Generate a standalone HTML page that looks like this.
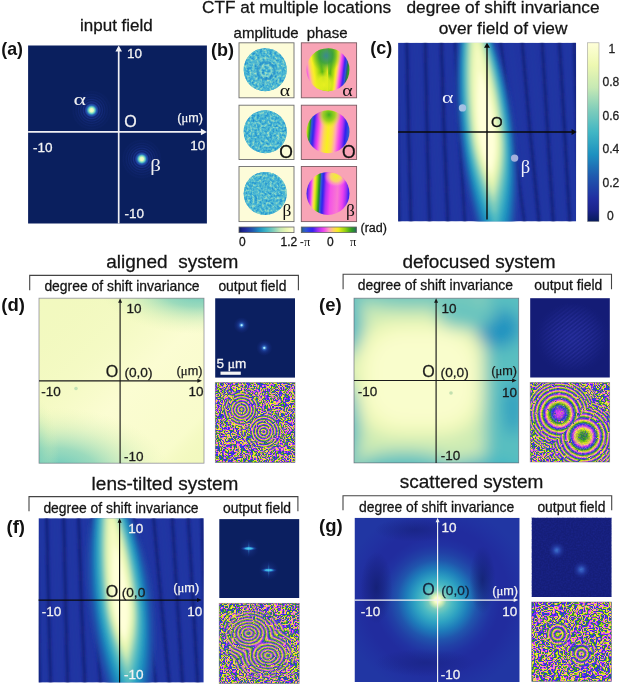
<!DOCTYPE html>
<html lang="en"><head><meta charset="utf-8"><title>Shift invariance figure</title>
<style>html,body{margin:0;padding:0;background:#fff}svg{display:block}</style></head>
<body>
<svg width="620" height="685" viewBox="0 0 620 685" font-family="'Liberation Sans', sans-serif">
<defs>
<radialGradient id="spotA"><stop offset="0" stop-color="#f8ffd0"/><stop offset="0.09" stop-color="#e2fbbc"/><stop offset="0.17" stop-color="#62ccc4"/><stop offset="0.24" stop-color="#2668b8" stop-opacity="0.95"/><stop offset="0.31" stop-color="#2244aa" stop-opacity="0.8"/><stop offset="0.36" stop-color="#1a3090" stop-opacity="0.35"/><stop offset="0.42" stop-color="#213aa2" stop-opacity="0.6"/><stop offset="0.48" stop-color="#1a3090" stop-opacity="0.12"/><stop offset="0.54" stop-color="#1f389c" stop-opacity="0.45"/><stop offset="0.6" stop-color="#1a3090" stop-opacity="0.08"/><stop offset="0.66" stop-color="#1e3698" stop-opacity="0.32"/><stop offset="0.72" stop-color="#1a3090" stop-opacity="0.05"/><stop offset="0.78" stop-color="#1d3494" stop-opacity="0.22"/><stop offset="0.85" stop-color="#1a3090" stop-opacity="0.03"/><stop offset="0.92" stop-color="#1c3290" stop-opacity="0.12"/><stop offset="1" stop-color="#1a3090" stop-opacity="0"/></radialGradient>
<filter id="ampN" x="0" y="0" width="1" height="1" color-interpolation-filters="sRGB"><feTurbulence type="fractalNoise" baseFrequency="0.4" numOctaves="2" seed="3"/><feColorMatrix type="matrix" values="1 0 0 0 0  1 0 0 0 0  1 0 0 0 0  0 0 0 0 1"/><feComponentTransfer><feFuncR type="table" tableValues="0.1 0.12 0.16 0.25 0.36 0.56 0.72 0.8"/><feFuncG type="table" tableValues="0.42 0.5 0.6 0.69 0.76 0.85 0.91 0.95"/><feFuncB type="table" tableValues="0.78 0.8 0.82 0.83 0.82 0.78 0.75 0.72"/></feComponentTransfer></filter>
<clipPath id="ca0"><circle cx="265.2" cy="69.7" r="21.5"/></clipPath>
<clipPath id="cp0"><circle cx="328" cy="69.7" r="21.5"/></clipPath>
<clipPath id="ca1"><circle cx="265.2" cy="131.75" r="21.5"/></clipPath>
<clipPath id="cp1"><circle cx="328" cy="131.75" r="21.5"/></clipPath>
<clipPath id="ca2"><circle cx="265.2" cy="193.45000000000002" r="21.5"/></clipPath>
<clipPath id="cp2"><circle cx="328" cy="193.45000000000002" r="21.5"/></clipPath>
<linearGradient id="pA" gradientUnits="userSpaceOnUse" x1="306.5" y1="0" x2="349.5" y2="0" gradientTransform="rotate(-9 328 99.7)"><stop offset="0.000" stop-color="#3020f0"/><stop offset="0.025" stop-color="#6828f0"/><stop offset="0.050" stop-color="#a030f0"/><stop offset="0.075" stop-color="#c838f0"/><stop offset="0.100" stop-color="#f040f0"/><stop offset="0.125" stop-color="#f668db"/><stop offset="0.150" stop-color="#fc90c6"/><stop offset="0.175" stop-color="#ffafa2"/><stop offset="0.200" stop-color="#ffc873"/><stop offset="0.225" stop-color="#fdda4f"/><stop offset="0.250" stop-color="#fbe43a"/><stop offset="0.275" stop-color="#f8ee24"/><stop offset="0.300" stop-color="#e9eb1e"/><stop offset="0.325" stop-color="#d7e61b"/><stop offset="0.350" stop-color="#c4e018"/><stop offset="0.375" stop-color="#b0da15"/><stop offset="0.400" stop-color="#9cd412"/><stop offset="0.425" stop-color="#86cb12"/><stop offset="0.450" stop-color="#6bbe16"/><stop offset="0.475" stop-color="#5db619"/><stop offset="0.500" stop-color="#7dc613"/><stop offset="0.525" stop-color="#9ad312"/><stop offset="0.550" stop-color="#b3db15"/><stop offset="0.575" stop-color="#d7e61b"/><stop offset="0.600" stop-color="#f9ea2e"/><stop offset="0.625" stop-color="#ffd261"/><stop offset="0.650" stop-color="#ffaea3"/><stop offset="0.675" stop-color="#fa83cd"/><stop offset="0.700" stop-color="#f353e6"/><stop offset="0.725" stop-color="#d13af0"/><stop offset="0.750" stop-color="#9c2ff0"/><stop offset="0.775" stop-color="#4c24f0"/><stop offset="0.800" stop-color="#3037e5"/><stop offset="0.825" stop-color="#3058d4"/><stop offset="0.850" stop-color="#295b7b"/><stop offset="0.875" stop-color="#2c8838"/><stop offset="0.900" stop-color="#30a020"/><stop offset="0.925" stop-color="#50b01b"/><stop offset="0.950" stop-color="#65bb17"/><stop offset="0.975" stop-color="#7bc514"/><stop offset="1.000" stop-color="#90d010"/></linearGradient>
<linearGradient id="pA2" gradientUnits="userSpaceOnUse" x1="306.5" y1="0" x2="349.5" y2="0" gradientTransform="rotate(7 328 99.7)"><stop offset="0.000" stop-color="#3020f0"/><stop offset="0.025" stop-color="#6828f0"/><stop offset="0.050" stop-color="#a030f0"/><stop offset="0.075" stop-color="#c838f0"/><stop offset="0.100" stop-color="#f040f0"/><stop offset="0.125" stop-color="#f668db"/><stop offset="0.150" stop-color="#fc90c6"/><stop offset="0.175" stop-color="#ffafa2"/><stop offset="0.200" stop-color="#ffc873"/><stop offset="0.225" stop-color="#fdda4f"/><stop offset="0.250" stop-color="#fbe43a"/><stop offset="0.275" stop-color="#f8ee24"/><stop offset="0.300" stop-color="#e9eb1e"/><stop offset="0.325" stop-color="#d7e61b"/><stop offset="0.350" stop-color="#c4e018"/><stop offset="0.375" stop-color="#b0da15"/><stop offset="0.400" stop-color="#9cd412"/><stop offset="0.425" stop-color="#86cb12"/><stop offset="0.450" stop-color="#6bbe16"/><stop offset="0.475" stop-color="#5db619"/><stop offset="0.500" stop-color="#7dc613"/><stop offset="0.525" stop-color="#9ad312"/><stop offset="0.550" stop-color="#b3db15"/><stop offset="0.575" stop-color="#d7e61b"/><stop offset="0.600" stop-color="#f9ea2e"/><stop offset="0.625" stop-color="#ffd261"/><stop offset="0.650" stop-color="#ffaea3"/><stop offset="0.675" stop-color="#fa83cd"/><stop offset="0.700" stop-color="#f353e6"/><stop offset="0.725" stop-color="#d13af0"/><stop offset="0.750" stop-color="#9c2ff0"/><stop offset="0.775" stop-color="#4c24f0"/><stop offset="0.800" stop-color="#3037e5"/><stop offset="0.825" stop-color="#3058d4"/><stop offset="0.850" stop-color="#295b7b"/><stop offset="0.875" stop-color="#2c8838"/><stop offset="0.900" stop-color="#30a020"/><stop offset="0.925" stop-color="#50b01b"/><stop offset="0.950" stop-color="#65bb17"/><stop offset="0.975" stop-color="#7bc514"/><stop offset="1.000" stop-color="#90d010"/></linearGradient>
<radialGradient id="pAt"><stop offset="0" stop-color="#3a8a90"/><stop offset="0.45" stop-color="#38a040" stop-opacity="0.9"/><stop offset="1" stop-color="#70c020" stop-opacity="0"/></radialGradient>
<radialGradient id="pAb"><stop offset="0" stop-color="#e8f020"/><stop offset="0.6" stop-color="#e8f020" stop-opacity="0.8"/><stop offset="1" stop-color="#e8f020" stop-opacity="0"/></radialGradient>
<linearGradient id="pO" gradientUnits="userSpaceOnUse" x1="306.5" y1="0" x2="349.5" y2="0" gradientTransform="rotate(5 328 131.75)"><stop offset="0.000" stop-color="#dae71b"/><stop offset="0.025" stop-color="#a3d613"/><stop offset="0.050" stop-color="#60b818"/><stop offset="0.075" stop-color="#2c8838"/><stop offset="0.100" stop-color="#2f5fc0"/><stop offset="0.125" stop-color="#3048dc"/><stop offset="0.150" stop-color="#302bea"/><stop offset="0.175" stop-color="#5225f0"/><stop offset="0.200" stop-color="#8a2df0"/><stop offset="0.225" stop-color="#b735f0"/><stop offset="0.250" stop-color="#d83bf0"/><stop offset="0.275" stop-color="#f24bea"/><stop offset="0.300" stop-color="#f76dd9"/><stop offset="0.325" stop-color="#fc8dc8"/><stop offset="0.350" stop-color="#ffa7b0"/><stop offset="0.375" stop-color="#ffba8d"/><stop offset="0.400" stop-color="#ffcd6a"/><stop offset="0.425" stop-color="#fdda50"/><stop offset="0.450" stop-color="#fbe140"/><stop offset="0.475" stop-color="#fae830"/><stop offset="0.500" stop-color="#f8f020"/><stop offset="0.525" stop-color="#f9ea2d"/><stop offset="0.550" stop-color="#fbe43a"/><stop offset="0.575" stop-color="#fcde46"/><stop offset="0.600" stop-color="#fdd853"/><stop offset="0.625" stop-color="#ffc971"/><stop offset="0.650" stop-color="#ffb794"/><stop offset="0.675" stop-color="#ffa4b7"/><stop offset="0.700" stop-color="#fc8ac9"/><stop offset="0.725" stop-color="#f76fd8"/><stop offset="0.750" stop-color="#f353e6"/><stop offset="0.775" stop-color="#e63ef0"/><stop offset="0.800" stop-color="#cd39f0"/><stop offset="0.825" stop-color="#b234f0"/><stop offset="0.850" stop-color="#8b2df0"/><stop offset="0.875" stop-color="#5e27f0"/><stop offset="0.900" stop-color="#3020f0"/><stop offset="0.925" stop-color="#3033e6"/><stop offset="0.950" stop-color="#3046dd"/><stop offset="0.975" stop-color="#3056d5"/><stop offset="1.000" stop-color="#2f5fc0"/></linearGradient>
<radialGradient id="pOt"><stop offset="0" stop-color="#40b020"/><stop offset="0.5" stop-color="#90d018" stop-opacity="0.85"/><stop offset="1" stop-color="#e8f020" stop-opacity="0"/></radialGradient>
<linearGradient id="pB" gradientUnits="userSpaceOnUse" x1="306.5" y1="0" x2="349.5" y2="0" gradientTransform="rotate(3 328 193.45000000000002)"><stop offset="0.000" stop-color="#3020f0"/><stop offset="0.025" stop-color="#6027f0"/><stop offset="0.050" stop-color="#902ef0"/><stop offset="0.075" stop-color="#ba35f0"/><stop offset="0.100" stop-color="#ee40f0"/><stop offset="0.125" stop-color="#fa7ed0"/><stop offset="0.150" stop-color="#ffb891"/><stop offset="0.175" stop-color="#fcde46"/><stop offset="0.200" stop-color="#e2e91d"/><stop offset="0.225" stop-color="#abd814"/><stop offset="0.250" stop-color="#75c314"/><stop offset="0.275" stop-color="#33a120"/><stop offset="0.300" stop-color="#297947"/><stop offset="0.325" stop-color="#305fd1"/><stop offset="0.350" stop-color="#3042df"/><stop offset="0.375" stop-color="#3026ed"/><stop offset="0.400" stop-color="#5625f0"/><stop offset="0.425" stop-color="#862cf0"/><stop offset="0.450" stop-color="#b033f0"/><stop offset="0.475" stop-color="#c437f0"/><stop offset="0.500" stop-color="#d83bf0"/><stop offset="0.525" stop-color="#ec3ff0"/><stop offset="0.550" stop-color="#f353e6"/><stop offset="0.575" stop-color="#f459e3"/><stop offset="0.600" stop-color="#f55ee0"/><stop offset="0.625" stop-color="#f664dd"/><stop offset="0.650" stop-color="#f76ada"/><stop offset="0.675" stop-color="#f76fd7"/><stop offset="0.700" stop-color="#f875d4"/><stop offset="0.725" stop-color="#f977d3"/><stop offset="0.750" stop-color="#f76bda"/><stop offset="0.775" stop-color="#f55fe0"/><stop offset="0.800" stop-color="#f353e6"/><stop offset="0.825" stop-color="#f147ec"/><stop offset="0.850" stop-color="#e63ef0"/><stop offset="0.875" stop-color="#cd39f0"/><stop offset="0.900" stop-color="#b434f0"/><stop offset="0.925" stop-color="#982ff0"/><stop offset="0.950" stop-color="#6e29f0"/><stop offset="0.975" stop-color="#4423f0"/><stop offset="1.000" stop-color="#3029eb"/></linearGradient>
<radialGradient id="pBt"><stop offset="0" stop-color="#f0f030"/><stop offset="0.45" stop-color="#f8e060" stop-opacity="0.9"/><stop offset="0.75" stop-color="#ffa0c0" stop-opacity="0.6"/><stop offset="1" stop-color="#f060f0" stop-opacity="0"/></radialGradient>
<linearGradient id="cbA" x1="0" x2="1" y1="0" y2="0"><stop offset="0.0000" stop-color="#081b5a"/><stop offset="0.0312" stop-color="#121f73"/><stop offset="0.0625" stop-color="#1b238b"/><stop offset="0.0938" stop-color="#1e2895"/><stop offset="0.1250" stop-color="#212da0"/><stop offset="0.1562" stop-color="#2138a4"/><stop offset="0.1875" stop-color="#2042a7"/><stop offset="0.2188" stop-color="#204daa"/><stop offset="0.2500" stop-color="#2058ae"/><stop offset="0.2812" stop-color="#1f66b2"/><stop offset="0.3125" stop-color="#1e74b7"/><stop offset="0.3438" stop-color="#1e83bc"/><stop offset="0.3750" stop-color="#1d91c0"/><stop offset="0.4062" stop-color="#269ac1"/><stop offset="0.4375" stop-color="#2fa4c2"/><stop offset="0.4688" stop-color="#38adc3"/><stop offset="0.5000" stop-color="#41b6c4"/><stop offset="0.5312" stop-color="#50bcc2"/><stop offset="0.5625" stop-color="#60c2c0"/><stop offset="0.5938" stop-color="#70c7bd"/><stop offset="0.6250" stop-color="#7fcdbb"/><stop offset="0.6562" stop-color="#91d4b9"/><stop offset="0.6875" stop-color="#a3dbb8"/><stop offset="0.7188" stop-color="#b5e2b6"/><stop offset="0.7500" stop-color="#c7e9b4"/><stop offset="0.7812" stop-color="#d0edb3"/><stop offset="0.8125" stop-color="#daf0b2"/><stop offset="0.8438" stop-color="#e4f4b2"/><stop offset="0.8750" stop-color="#edf8b1"/><stop offset="0.9062" stop-color="#f2fabb"/><stop offset="0.9375" stop-color="#f6fcc5"/><stop offset="0.9688" stop-color="#fafdcf"/><stop offset="1.0000" stop-color="#ffffd9"/></linearGradient>
<linearGradient id="cbV" x1="0" x2="0" y1="1" y2="0"><stop offset="0.0000" stop-color="#081b5a"/><stop offset="0.0312" stop-color="#121f73"/><stop offset="0.0625" stop-color="#1b238b"/><stop offset="0.0938" stop-color="#1e2895"/><stop offset="0.1250" stop-color="#212da0"/><stop offset="0.1562" stop-color="#2138a4"/><stop offset="0.1875" stop-color="#2042a7"/><stop offset="0.2188" stop-color="#204daa"/><stop offset="0.2500" stop-color="#2058ae"/><stop offset="0.2812" stop-color="#1f66b2"/><stop offset="0.3125" stop-color="#1e74b7"/><stop offset="0.3438" stop-color="#1e83bc"/><stop offset="0.3750" stop-color="#1d91c0"/><stop offset="0.4062" stop-color="#269ac1"/><stop offset="0.4375" stop-color="#2fa4c2"/><stop offset="0.4688" stop-color="#38adc3"/><stop offset="0.5000" stop-color="#41b6c4"/><stop offset="0.5312" stop-color="#50bcc2"/><stop offset="0.5625" stop-color="#60c2c0"/><stop offset="0.5938" stop-color="#70c7bd"/><stop offset="0.6250" stop-color="#7fcdbb"/><stop offset="0.6562" stop-color="#91d4b9"/><stop offset="0.6875" stop-color="#a3dbb8"/><stop offset="0.7188" stop-color="#b5e2b6"/><stop offset="0.7500" stop-color="#c7e9b4"/><stop offset="0.7812" stop-color="#d0edb3"/><stop offset="0.8125" stop-color="#daf0b2"/><stop offset="0.8438" stop-color="#e4f4b2"/><stop offset="0.8750" stop-color="#edf8b1"/><stop offset="0.9062" stop-color="#f2fabb"/><stop offset="0.9375" stop-color="#f6fcc5"/><stop offset="0.9688" stop-color="#fafdcf"/><stop offset="1.0000" stop-color="#ffffd9"/></linearGradient>
<linearGradient id="cbP" x1="0" x2="1" y1="0" y2="0"><stop offset="0.000" stop-color="#285a6e"/><stop offset="0.042" stop-color="#2e5eb2"/><stop offset="0.083" stop-color="#3055d5"/><stop offset="0.125" stop-color="#3042df"/><stop offset="0.167" stop-color="#302fe8"/><stop offset="0.208" stop-color="#3921f0"/><stop offset="0.250" stop-color="#6828f0"/><stop offset="0.292" stop-color="#972ff0"/><stop offset="0.333" stop-color="#bb35f0"/><stop offset="0.375" stop-color="#dc3cf0"/><stop offset="0.417" stop-color="#f250e8"/><stop offset="0.458" stop-color="#f978d3"/><stop offset="0.500" stop-color="#ffa0be"/><stop offset="0.542" stop-color="#ffb98f"/><stop offset="0.583" stop-color="#ffd161"/><stop offset="0.625" stop-color="#fbe23e"/><stop offset="0.667" stop-color="#f3ee1f"/><stop offset="0.708" stop-color="#d4e51a"/><stop offset="0.750" stop-color="#b5db16"/><stop offset="0.792" stop-color="#96d211"/><stop offset="0.833" stop-color="#70c015"/><stop offset="0.875" stop-color="#48ac1c"/><stop offset="0.917" stop-color="#2f9828"/><stop offset="0.958" stop-color="#2b843c"/><stop offset="1.000" stop-color="#285a6e"/></linearGradient>
<filter id="blur12" x="-0.5" y="-0.1" width="2" height="1.2"><feGaussianBlur stdDeviation="1.3"/></filter>
<filter id="blur2" x="-0.3" y="-0.1" width="1.6" height="1.2"><feGaussianBlur stdDeviation="2.2"/></filter>
<filter id="blur3" x="-0.5" y="-0.1" width="2" height="1.2"><feGaussianBlur stdDeviation="3"/></filter>
<clipPath id="hcc"><rect x="398.1" y="42.7" width="178.0" height="178.7"/></clipPath>
<clipPath id="hdc"><rect x="39" y="298.2" width="165" height="165.0"/></clipPath>
<radialGradient id="hd1"><stop offset="0" stop-color="#58c2bc" stop-opacity="1"/><stop offset="0.4" stop-color="#84d2b8" stop-opacity="0.8"/><stop offset="0.72" stop-color="#c0e8b4" stop-opacity="0.4"/><stop offset="1" stop-color="#e4f4b4" stop-opacity="0"/></radialGradient>
<linearGradient id="hd2" x1="0" y1="0" x2="1" y2="1"><stop offset="0" stop-color="#f0f8b4" stop-opacity="0"/><stop offset="0.35" stop-color="#fbfdd0" stop-opacity="0.3"/><stop offset="0.55" stop-color="#fcfdd4" stop-opacity="0.9"/><stop offset="0.85" stop-color="#fbfdd0" stop-opacity="0.7"/><stop offset="1" stop-color="#f0f8b4" stop-opacity="0"/></linearGradient>
<clipPath id="hec"><rect x="354" y="298.2" width="164.70000000000005" height="164.7"/></clipPath>
<filter id="blur8" x="-0.3" y="-0.3" width="1.6" height="1.6"><feGaussianBlur stdDeviation="8"/></filter>
<filter id="blur5" x="-0.3" y="-0.3" width="1.6" height="1.6"><feGaussianBlur stdDeviation="5"/></filter>
<clipPath id="hfc"><rect x="38.6" y="518.2" width="165.1" height="164.39999999999998"/></clipPath>
<clipPath id="hgc"><rect x="354.5" y="517.7" width="165.20000000000005" height="164.39999999999998"/></clipPath>
<radialGradient id="hg1" gradientUnits="userSpaceOnUse" cx="437.3" cy="599.9" r="95"><stop offset="0" stop-color="#ffffd9"/><stop offset="0.03" stop-color="#f8fcc9"/><stop offset="0.06" stop-color="#caeab4"/><stop offset="0.1" stop-color="#78cabc"/><stop offset="0.16" stop-color="#4bbac3"/><stop offset="0.24" stop-color="#2da1c2"/><stop offset="0.33" stop-color="#1e7cba"/><stop offset="0.42" stop-color="#2055ad"/><stop offset="0.5" stop-color="#2140a6"/><stop offset="0.58" stop-color="#2132a2"/><stop offset="0.66" stop-color="#212c9e"/><stop offset="0.76" stop-color="#212c9e"/><stop offset="0.9" stop-color="#2132a2"/><stop offset="1" stop-color="#2136a3"/></radialGradient>
<radialGradient id="hg2"><stop offset="0" stop-color="#101c68" stop-opacity="0.7"/><stop offset="1" stop-color="#101c68" stop-opacity="0"/></radialGradient>
<radialGradient id="spD"><stop offset="0" stop-color="#e4fbff"/><stop offset="0.1" stop-color="#8cd8f4"/><stop offset="0.2" stop-color="#3a78d0" stop-opacity="0.9"/><stop offset="0.4" stop-color="#2248ac" stop-opacity="0.6"/><stop offset="0.7" stop-color="#1a3494" stop-opacity="0.3"/><stop offset="1" stop-color="#1a3090" stop-opacity="0"/></radialGradient>
<radialGradient id="spF"><stop offset="0" stop-color="#58d4f0"/><stop offset="0.4" stop-color="#36b0e4" stop-opacity="0.95"/><stop offset="0.65" stop-color="#2058b8" stop-opacity="0.6"/><stop offset="1" stop-color="#1a3090" stop-opacity="0"/></radialGradient>
<radialGradient id="spG"><stop offset="0" stop-color="#4484d8" stop-opacity="0.9"/><stop offset="0.25" stop-color="#3a6cd0" stop-opacity="0.75"/><stop offset="0.55" stop-color="#2c4cb8" stop-opacity="0.45"/><stop offset="1" stop-color="#2038a0" stop-opacity="0"/></radialGradient>
<filter id="dith" x="0" y="0" width="1" height="1" color-interpolation-filters="sRGB"><feTurbulence type="fractalNoise" baseFrequency="0.25" numOctaves="1" seed="21"/><feColorMatrix type="matrix" values="1 0 0 0 0  1 0 0 0 0  1 0 0 0 0  0 0 0 0 1" result="n"/><feComposite in="SourceGraphic" in2="n" operator="arithmetic" k1="0" k2="1.25" k3="2.6" k4="-1.57"/><feComponentTransfer><feFuncR type="linear" slope="5" intercept="-2"/><feFuncG type="linear" slope="5" intercept="-2"/><feFuncB type="linear" slope="5" intercept="-2"/></feComponentTransfer></filter>
<filter id="wob" x="-0.1" y="-0.1" width="1.2" height="1.2"><feTurbulence type="fractalNoise" baseFrequency="0.2" numOctaves="1" seed="4" result="t"/><feDisplacementMap in="SourceGraphic" in2="t" scale="2.2" xChannelSelector="R" yChannelSelector="G"/></filter>
<filter id="soft" x="0" y="0" width="1" height="1"><feGaussianBlur stdDeviation="0.75"/></filter>
<filter id="nzD" x="0" y="0" width="1" height="1" color-interpolation-filters="sRGB"><feTurbulence type="fractalNoise" baseFrequency="0.19" numOctaves="2" seed="7"/><feColorMatrix type="matrix" values="1 0 0 0 0  1 0 0 0 0  1 0 0 0 0  0 0 0 0 1"/><feComponentTransfer><feFuncR type="table" tableValues="0.188 0.159 0.188 0.188 0.481 0.810 0.971 1.000 0.982 0.783 0.502 0.186 0.157 0.188 0.188 0.518 0.837 0.975 1.000 0.979 0.759 0.471 0.183 0.161 0.188 0.188 0.554 0.863 0.980 1.000 0.976 0.735 0.439 0.180 0.166 0.188 0.188 0.591 0.889 0.985 1.000 0.973 0.710 0.408 0.178 0.170 0.188 0.225 0.627"/><feFuncG type="table" tableValues="0.627 0.455 0.335 0.170 0.167 0.225 0.439 0.725 0.899 0.883 0.784 0.612 0.353 0.320 0.155 0.173 0.230 0.471 0.745 0.912 0.875 0.769 0.596 0.356 0.305 0.140 0.178 0.235 0.502 0.765 0.925 0.868 0.753 0.580 0.359 0.290 0.125 0.183 0.241 0.533 0.784 0.939 0.861 0.737 0.565 0.363 0.275 0.131 0.188"/><feFuncB type="table" tableValues="0.125 0.298 0.837 0.919 0.941 0.941 0.843 0.561 0.214 0.096 0.073 0.141 0.431 0.844 0.926 0.941 0.941 0.827 0.525 0.187 0.093 0.078 0.157 0.485 0.852 0.934 0.941 0.941 0.810 0.488 0.159 0.089 0.084 0.173 0.538 0.859 0.941 0.941 0.941 0.794 0.451 0.131 0.085 0.089 0.188 0.592 0.866 0.941 0.941"/></feComponentTransfer></filter>
<filter id="nzE" x="0" y="0" width="1" height="1" color-interpolation-filters="sRGB"><feTurbulence type="fractalNoise" baseFrequency="0.19" numOctaves="2" seed="11"/><feColorMatrix type="matrix" values="1 0 0 0 0  1 0 0 0 0  1 0 0 0 0  0 0 0 0 1"/><feComponentTransfer><feFuncR type="table" tableValues="0.188 0.159 0.188 0.188 0.481 0.810 0.971 1.000 0.982 0.783 0.502 0.186 0.157 0.188 0.188 0.518 0.837 0.975 1.000 0.979 0.759 0.471 0.183 0.161 0.188 0.188 0.554 0.863 0.980 1.000 0.976 0.735 0.439 0.180 0.166 0.188 0.188 0.591 0.889 0.985 1.000 0.973 0.710 0.408 0.178 0.170 0.188 0.225 0.627"/><feFuncG type="table" tableValues="0.627 0.455 0.335 0.170 0.167 0.225 0.439 0.725 0.899 0.883 0.784 0.612 0.353 0.320 0.155 0.173 0.230 0.471 0.745 0.912 0.875 0.769 0.596 0.356 0.305 0.140 0.178 0.235 0.502 0.765 0.925 0.868 0.753 0.580 0.359 0.290 0.125 0.183 0.241 0.533 0.784 0.939 0.861 0.737 0.565 0.363 0.275 0.131 0.188"/><feFuncB type="table" tableValues="0.125 0.298 0.837 0.919 0.941 0.941 0.843 0.561 0.214 0.096 0.073 0.141 0.431 0.844 0.926 0.941 0.941 0.827 0.525 0.187 0.093 0.078 0.157 0.485 0.852 0.934 0.941 0.941 0.810 0.488 0.159 0.089 0.084 0.173 0.538 0.859 0.941 0.941 0.941 0.794 0.451 0.131 0.085 0.089 0.188 0.592 0.866 0.941 0.941"/></feComponentTransfer></filter>
<filter id="nzF" x="0" y="0" width="1" height="1" color-interpolation-filters="sRGB"><feTurbulence type="fractalNoise" baseFrequency="0.19" numOctaves="2" seed="5"/><feColorMatrix type="matrix" values="1 0 0 0 0  1 0 0 0 0  1 0 0 0 0  0 0 0 0 1"/><feComponentTransfer><feFuncR type="table" tableValues="0.188 0.159 0.188 0.188 0.481 0.810 0.971 1.000 0.982 0.783 0.502 0.186 0.157 0.188 0.188 0.518 0.837 0.975 1.000 0.979 0.759 0.471 0.183 0.161 0.188 0.188 0.554 0.863 0.980 1.000 0.976 0.735 0.439 0.180 0.166 0.188 0.188 0.591 0.889 0.985 1.000 0.973 0.710 0.408 0.178 0.170 0.188 0.225 0.627"/><feFuncG type="table" tableValues="0.627 0.455 0.335 0.170 0.167 0.225 0.439 0.725 0.899 0.883 0.784 0.612 0.353 0.320 0.155 0.173 0.230 0.471 0.745 0.912 0.875 0.769 0.596 0.356 0.305 0.140 0.178 0.235 0.502 0.765 0.925 0.868 0.753 0.580 0.359 0.290 0.125 0.183 0.241 0.533 0.784 0.939 0.861 0.737 0.565 0.363 0.275 0.131 0.188"/><feFuncB type="table" tableValues="0.125 0.298 0.837 0.919 0.941 0.941 0.843 0.561 0.214 0.096 0.073 0.141 0.431 0.844 0.926 0.941 0.941 0.827 0.525 0.187 0.093 0.078 0.157 0.485 0.852 0.934 0.941 0.941 0.810 0.488 0.159 0.089 0.084 0.173 0.538 0.859 0.941 0.941 0.941 0.794 0.451 0.131 0.085 0.089 0.188 0.592 0.866 0.941 0.941"/></feComponentTransfer></filter>
<filter id="nzG" x="0" y="0" width="1" height="1" color-interpolation-filters="sRGB"><feTurbulence type="fractalNoise" baseFrequency="0.17" numOctaves="2" seed="9"/><feColorMatrix type="matrix" values="1 0 0 0 0  1 0 0 0 0  1 0 0 0 0  0 0 0 0 1"/><feComponentTransfer><feFuncR type="table" tableValues="0.188 0.159 0.188 0.188 0.481 0.810 0.971 1.000 0.982 0.783 0.502 0.186 0.157 0.188 0.188 0.518 0.837 0.975 1.000 0.979 0.759 0.471 0.183 0.161 0.188 0.188 0.554 0.863 0.980 1.000 0.976 0.735 0.439 0.180 0.166 0.188 0.188 0.591 0.889 0.985 1.000 0.973 0.710 0.408 0.178 0.170 0.188 0.225 0.627"/><feFuncG type="table" tableValues="0.627 0.455 0.335 0.170 0.167 0.225 0.439 0.725 0.899 0.883 0.784 0.612 0.353 0.320 0.155 0.173 0.230 0.471 0.745 0.912 0.875 0.769 0.596 0.356 0.305 0.140 0.178 0.235 0.502 0.765 0.925 0.868 0.753 0.580 0.359 0.290 0.125 0.183 0.241 0.533 0.784 0.939 0.861 0.737 0.565 0.363 0.275 0.131 0.188"/><feFuncB type="table" tableValues="0.125 0.298 0.837 0.919 0.941 0.941 0.843 0.561 0.214 0.096 0.073 0.141 0.431 0.844 0.926 0.941 0.941 0.827 0.525 0.187 0.093 0.078 0.157 0.485 0.852 0.934 0.941 0.941 0.810 0.488 0.159 0.089 0.084 0.173 0.538 0.859 0.941 0.941 0.941 0.794 0.451 0.131 0.085 0.089 0.188 0.592 0.866 0.941 0.941"/></feComponentTransfer></filter>
<clipPath id="pdc"><rect x="215.3" y="382.6" width="79.69999999999999" height="80.0"/></clipPath>
<radialGradient id="pdr0" gradientUnits="userSpaceOnUse" cx="241.6" cy="409.5" r="34"><stop offset="0.0000" stop-color="#f040f0"/><stop offset="0.0118" stop-color="#ffb39b"/><stop offset="0.0235" stop-color="#f6ef20"/><stop offset="0.0353" stop-color="#95d111"/><stop offset="0.0471" stop-color="#2e942c"/><stop offset="0.0588" stop-color="#2f60c9"/><stop offset="0.0706" stop-color="#3026ed"/><stop offset="0.0824" stop-color="#ae33f0"/><stop offset="0.0941" stop-color="#f76fd7"/><stop offset="0.1059" stop-color="#ffd064"/><stop offset="0.1176" stop-color="#d2e41a"/><stop offset="0.1294" stop-color="#67bc17"/><stop offset="0.1412" stop-color="#2a7d43"/><stop offset="0.1529" stop-color="#304bda"/><stop offset="0.1647" stop-color="#5826f0"/><stop offset="0.1765" stop-color="#d63bf0"/><stop offset="0.1882" stop-color="#ff9ebf"/><stop offset="0.2000" stop-color="#fbe43a"/><stop offset="0.2118" stop-color="#add914"/><stop offset="0.2235" stop-color="#38a41f"/><stop offset="0.2353" stop-color="#2b5c93"/><stop offset="0.2471" stop-color="#3035e6"/><stop offset="0.2588" stop-color="#8f2ef0"/><stop offset="0.2706" stop-color="#f250e8"/><stop offset="0.2824" stop-color="#ffbd89"/><stop offset="0.2941" stop-color="#eaec1e"/><stop offset="0.3059" stop-color="#87cb12"/><stop offset="0.3176" stop-color="#2d8c34"/><stop offset="0.3294" stop-color="#305ad3"/><stop offset="0.3412" stop-color="#3421f0"/><stop offset="0.3529" stop-color="#bc36f0"/><stop offset="0.3647" stop-color="#fa7fcf"/><stop offset="0.3765" stop-color="#fed756"/><stop offset="0.3882" stop-color="#c6e018"/><stop offset="0.4000" stop-color="#57b419"/><stop offset="0.4118" stop-color="#29754b"/><stop offset="0.4235" stop-color="#3044de"/><stop offset="0.4353" stop-color="#6b28f0"/><stop offset="0.4471" stop-color="#e33df0"/><stop offset="0.4588" stop-color="#ffa9ad"/><stop offset="0.4706" stop-color="#f9ea2c"/><stop offset="0.4824" stop-color="#a1d513"/><stop offset="0.4941" stop-color="#2f9c24"/><stop offset="0.5059" stop-color="#2d5eae"/><stop offset="0.5176" stop-color="#302de9"/><stop offset="0.5294" stop-color="#a130f0"/><stop offset="0.5412" stop-color="#f55fe0"/><stop offset="0.5529" stop-color="#ffc676"/><stop offset="0.5647" stop-color="#dee81c"/><stop offset="0.5765" stop-color="#77c314"/><stop offset="0.5882" stop-color="#2b843c"/><stop offset="0.6000" stop-color="#3053d7"/><stop offset="0.6118" stop-color="#4623f0"/><stop offset="0.6235" stop-color="#c938f0"/><stop offset="0.6353" stop-color="#fc8fc7"/><stop offset="0.6471" stop-color="#fcdd48"/><stop offset="0.6588" stop-color="#b9dd16"/><stop offset="0.6706" stop-color="#48ac1c"/><stop offset="0.6824" stop-color="#295b79"/><stop offset="0.6941" stop-color="#303ce2"/><stop offset="0.7059" stop-color="#7d2bf0"/><stop offset="0.7176" stop-color="#f040f0"/><stop offset="0.7294" stop-color="#ffb39b"/><stop offset="0.7412" stop-color="#f6ef20"/><stop offset="0.7529" stop-color="#95d111"/><stop offset="0.7647" stop-color="#2e942c"/><stop offset="0.7765" stop-color="#2f60c9"/><stop offset="0.7882" stop-color="#3026ed"/><stop offset="0.8000" stop-color="#ae33f0"/><stop offset="0.8118" stop-color="#f76fd7"/><stop offset="0.8235" stop-color="#ffd064"/><stop offset="0.8353" stop-color="#d2e41a"/><stop offset="0.8471" stop-color="#67bc17"/><stop offset="0.8588" stop-color="#2a7d43"/><stop offset="0.8706" stop-color="#304bda"/><stop offset="0.8824" stop-color="#5826f0"/><stop offset="0.8941" stop-color="#d63bf0"/><stop offset="0.9059" stop-color="#ff9ebf"/><stop offset="0.9176" stop-color="#fbe43a"/><stop offset="0.9294" stop-color="#add914"/><stop offset="0.9412" stop-color="#38a41f"/><stop offset="0.9529" stop-color="#2b5c93"/><stop offset="0.9647" stop-color="#3035e6"/><stop offset="0.9765" stop-color="#8f2ef0"/><stop offset="0.9882" stop-color="#f250e8"/><stop offset="1.0000" stop-color="#ffbd89"/></radialGradient>
<radialGradient id="pdk0m" gradientUnits="userSpaceOnUse" cx="241.6" cy="409.5" r="34"><stop offset="0" stop-color="#fff"/><stop offset="0.220" stop-color="#fff"/><stop offset="0.400" stop-color="#bbb"/><stop offset="1" stop-color="#000"/></radialGradient>
<mask id="pdk0" maskUnits="userSpaceOnUse" x="0" y="0" width="620" height="685"><g filter="url(#dith)"><rect x="205.6" y="373.5" width="72" height="72" fill="url(#pdk0m)"/></g></mask>
<clipPath id="pdh0"><polygon points="110.9,561.7 394.4,279.5 182.7,66.9 -100.7,349.1"/></clipPath>
<radialGradient id="pdr1" gradientUnits="userSpaceOnUse" cx="263.7" cy="431.7" r="34"><stop offset="0.0000" stop-color="#30a020"/><stop offset="0.0118" stop-color="#2c5da1"/><stop offset="0.0235" stop-color="#3031e7"/><stop offset="0.0353" stop-color="#992ff0"/><stop offset="0.0471" stop-color="#f458e4"/><stop offset="0.0588" stop-color="#ffc17f"/><stop offset="0.0706" stop-color="#e4ea1d"/><stop offset="0.0824" stop-color="#7fc713"/><stop offset="0.0941" stop-color="#2c8838"/><stop offset="0.1059" stop-color="#3057d5"/><stop offset="0.1176" stop-color="#3d22f0"/><stop offset="0.1294" stop-color="#c237f0"/><stop offset="0.1412" stop-color="#fb87cb"/><stop offset="0.1529" stop-color="#fdda4f"/><stop offset="0.1647" stop-color="#bfdf17"/><stop offset="0.1765" stop-color="#4fb01b"/><stop offset="0.1882" stop-color="#28714f"/><stop offset="0.2000" stop-color="#3040e0"/><stop offset="0.2118" stop-color="#742af0"/><stop offset="0.2235" stop-color="#e93ff0"/><stop offset="0.2353" stop-color="#ffaea4"/><stop offset="0.2471" stop-color="#f9ee25"/><stop offset="0.2588" stop-color="#9bd312"/><stop offset="0.2706" stop-color="#2f9828"/><stop offset="0.2824" stop-color="#2e5fbc"/><stop offset="0.2941" stop-color="#302aeb"/><stop offset="0.3059" stop-color="#a832f0"/><stop offset="0.3176" stop-color="#f667dc"/><stop offset="0.3294" stop-color="#ffcb6d"/><stop offset="0.3412" stop-color="#d8e61b"/><stop offset="0.3529" stop-color="#6fbf16"/><stop offset="0.3647" stop-color="#2b813f"/><stop offset="0.3765" stop-color="#304fd8"/><stop offset="0.3882" stop-color="#4f24f0"/><stop offset="0.4000" stop-color="#cf39f0"/><stop offset="0.4118" stop-color="#fe97c3"/><stop offset="0.4235" stop-color="#fbe141"/><stop offset="0.4353" stop-color="#b3db15"/><stop offset="0.4471" stop-color="#40a81d"/><stop offset="0.4588" stop-color="#2a5b86"/><stop offset="0.4706" stop-color="#3039e4"/><stop offset="0.4824" stop-color="#862cf0"/><stop offset="0.4941" stop-color="#f148ec"/><stop offset="0.5059" stop-color="#ffb892"/><stop offset="0.5176" stop-color="#f0ee1f"/><stop offset="0.5294" stop-color="#8ecf10"/><stop offset="0.5412" stop-color="#2d9030"/><stop offset="0.5529" stop-color="#305ed1"/><stop offset="0.5647" stop-color="#3022ef"/><stop offset="0.5765" stop-color="#b534f0"/><stop offset="0.5882" stop-color="#f977d3"/><stop offset="0.6000" stop-color="#fed35d"/><stop offset="0.6118" stop-color="#cce219"/><stop offset="0.6235" stop-color="#5fb818"/><stop offset="0.6353" stop-color="#297947"/><stop offset="0.6471" stop-color="#3048dc"/><stop offset="0.6588" stop-color="#6227f0"/><stop offset="0.6706" stop-color="#dc3cf0"/><stop offset="0.6824" stop-color="#ffa4b7"/><stop offset="0.6941" stop-color="#fae733"/><stop offset="0.7059" stop-color="#a7d714"/><stop offset="0.7176" stop-color="#30a020"/><stop offset="0.7294" stop-color="#2c5da1"/><stop offset="0.7412" stop-color="#3031e7"/><stop offset="0.7529" stop-color="#992ff0"/><stop offset="0.7647" stop-color="#f458e4"/><stop offset="0.7765" stop-color="#ffc17f"/><stop offset="0.7882" stop-color="#e4ea1d"/><stop offset="0.8000" stop-color="#7fc713"/><stop offset="0.8118" stop-color="#2c8838"/><stop offset="0.8235" stop-color="#3057d5"/><stop offset="0.8353" stop-color="#3d22f0"/><stop offset="0.8471" stop-color="#c237f0"/><stop offset="0.8588" stop-color="#fb87cb"/><stop offset="0.8706" stop-color="#fdda4f"/><stop offset="0.8824" stop-color="#bfdf17"/><stop offset="0.8941" stop-color="#4fb01b"/><stop offset="0.9059" stop-color="#28714f"/><stop offset="0.9176" stop-color="#3040e0"/><stop offset="0.9294" stop-color="#742af0"/><stop offset="0.9412" stop-color="#e93ff0"/><stop offset="0.9529" stop-color="#ffaea4"/><stop offset="0.9647" stop-color="#f9ee25"/><stop offset="0.9765" stop-color="#9bd312"/><stop offset="0.9882" stop-color="#2f9828"/><stop offset="1.0000" stop-color="#2e5fbc"/></radialGradient>
<radialGradient id="pdk1m" gradientUnits="userSpaceOnUse" cx="263.7" cy="431.7" r="34"><stop offset="0" stop-color="#fff"/><stop offset="0.220" stop-color="#fff"/><stop offset="0.400" stop-color="#bbb"/><stop offset="1" stop-color="#000"/></radialGradient>
<mask id="pdk1" maskUnits="userSpaceOnUse" x="0" y="0" width="620" height="685"><g filter="url(#dith)"><rect x="227.7" y="395.7" width="72" height="72" fill="url(#pdk1m)"/></g></mask>
<clipPath id="pdh1"><polygon points="110.9,561.7 394.4,279.5 606.0,492.1 322.6,774.3"/></clipPath>
<pattern id="estripe" patternUnits="userSpaceOnUse" width="3.2" height="3.2" patternTransform="rotate(-38)"><rect width="3.2" height="1.4" fill="#3034a8" opacity="0.6"/></pattern>
<radialGradient id="efade" gradientUnits="userSpaceOnUse" cx="572" cy="337" r="34"><stop offset="0" stop-color="#fff"/><stop offset="0.5" stop-color="#fff" stop-opacity="0.8"/><stop offset="1" stop-color="#fff" stop-opacity="0"/></radialGradient><mask id="emask" maskUnits="userSpaceOnUse" x="520" y="290" width="100" height="100"><rect x="520" y="290" width="100" height="100" fill="url(#efade)"/></mask>
<radialGradient id="eglow"><stop offset="0" stop-color="#2430a0" stop-opacity="0.55"/><stop offset="1" stop-color="#2430a0" stop-opacity="0"/></radialGradient>
<clipPath id="pec"><rect x="530.2" y="382.6" width="79.5" height="79.39999999999998"/></clipPath>
<radialGradient id="per0" gradientUnits="userSpaceOnUse" cx="559.2" cy="413.7" r="50"><stop offset="0.0000" stop-color="#f353e6"/><stop offset="0.0080" stop-color="#f352e6"/><stop offset="0.0160" stop-color="#f250e8"/><stop offset="0.0240" stop-color="#f24cea"/><stop offset="0.0320" stop-color="#f146ed"/><stop offset="0.0400" stop-color="#ee40f0"/><stop offset="0.0480" stop-color="#e73ef0"/><stop offset="0.0560" stop-color="#de3cf0"/><stop offset="0.0640" stop-color="#d33af0"/><stop offset="0.0720" stop-color="#c738f0"/><stop offset="0.0800" stop-color="#ba35f0"/><stop offset="0.0880" stop-color="#ab32f0"/><stop offset="0.0960" stop-color="#982ff0"/><stop offset="0.1040" stop-color="#802bf0"/><stop offset="0.1120" stop-color="#6528f0"/><stop offset="0.1200" stop-color="#4924f0"/><stop offset="0.1280" stop-color="#3022ef"/><stop offset="0.1360" stop-color="#3030e8"/><stop offset="0.1440" stop-color="#303ee1"/><stop offset="0.1520" stop-color="#304dda"/><stop offset="0.1600" stop-color="#305cd2"/><stop offset="0.1680" stop-color="#2c5da2"/><stop offset="0.1760" stop-color="#28734d"/><stop offset="0.1840" stop-color="#2c863a"/><stop offset="0.1920" stop-color="#2f9a26"/><stop offset="0.2000" stop-color="#4dae1b"/><stop offset="0.2080" stop-color="#78c414"/><stop offset="0.2160" stop-color="#a0d512"/><stop offset="0.2240" stop-color="#c4e018"/><stop offset="0.2320" stop-color="#e9eb1e"/><stop offset="0.2400" stop-color="#fbe33b"/><stop offset="0.2480" stop-color="#ffcd6a"/><stop offset="0.2560" stop-color="#ffaba9"/><stop offset="0.2640" stop-color="#f97bd1"/><stop offset="0.2720" stop-color="#f043ef"/><stop offset="0.2800" stop-color="#c237f0"/><stop offset="0.2880" stop-color="#892df0"/><stop offset="0.2960" stop-color="#4122f0"/><stop offset="0.3040" stop-color="#3037e4"/><stop offset="0.3120" stop-color="#3056d5"/><stop offset="0.3200" stop-color="#2a5b82"/><stop offset="0.3280" stop-color="#2d8c34"/><stop offset="0.3360" stop-color="#4fb01b"/><stop offset="0.3440" stop-color="#95d211"/><stop offset="0.3520" stop-color="#cee31a"/><stop offset="0.3600" stop-color="#fae733"/><stop offset="0.3680" stop-color="#ffc37d"/><stop offset="0.3760" stop-color="#fb89ca"/><stop offset="0.3840" stop-color="#ea3ff0"/><stop offset="0.3920" stop-color="#a631f0"/><stop offset="0.4000" stop-color="#4623f0"/><stop offset="0.4080" stop-color="#303fe0"/><stop offset="0.4160" stop-color="#2d5eb0"/><stop offset="0.4240" stop-color="#2c8937"/><stop offset="0.4320" stop-color="#5cb619"/><stop offset="0.4400" stop-color="#afda15"/><stop offset="0.4480" stop-color="#f8f020"/><stop offset="0.4560" stop-color="#ffc57a"/><stop offset="0.4640" stop-color="#f979d2"/><stop offset="0.4720" stop-color="#cd39f0"/><stop offset="0.4800" stop-color="#6a28f0"/><stop offset="0.4880" stop-color="#3039e4"/><stop offset="0.4960" stop-color="#2d5eab"/><stop offset="0.5040" stop-color="#2e932d"/><stop offset="0.5120" stop-color="#81c912"/><stop offset="0.5200" stop-color="#d9e61b"/><stop offset="0.5280" stop-color="#fed35e"/><stop offset="0.5360" stop-color="#fa83cd"/><stop offset="0.5440" stop-color="#c938f0"/><stop offset="0.5520" stop-color="#5225f0"/><stop offset="0.5600" stop-color="#304adb"/><stop offset="0.5680" stop-color="#297848"/><stop offset="0.5760" stop-color="#58b419"/><stop offset="0.5840" stop-color="#c4e018"/><stop offset="0.5920" stop-color="#fdd852"/><stop offset="0.6000" stop-color="#fb83cd"/><stop offset="0.6080" stop-color="#be36f0"/><stop offset="0.6160" stop-color="#3320f0"/><stop offset="0.6240" stop-color="#305dd1"/><stop offset="0.6320" stop-color="#2e932d"/><stop offset="0.6400" stop-color="#99d311"/><stop offset="0.6480" stop-color="#f9eb2c"/><stop offset="0.6560" stop-color="#ffa2bb"/><stop offset="0.6640" stop-color="#ce39f0"/><stop offset="0.6720" stop-color="#3c22f0"/><stop offset="0.6800" stop-color="#305fd0"/><stop offset="0.6880" stop-color="#2f9a26"/><stop offset="0.6960" stop-color="#aed915"/><stop offset="0.7040" stop-color="#fdda4f"/><stop offset="0.7120" stop-color="#f770d7"/><stop offset="0.7200" stop-color="#972ff0"/><stop offset="0.7280" stop-color="#303fe1"/><stop offset="0.7360" stop-color="#2a7e42"/><stop offset="0.7440" stop-color="#87cc11"/><stop offset="0.7520" stop-color="#f9ea2d"/><stop offset="0.7600" stop-color="#fc8bc9"/><stop offset="0.7680" stop-color="#a832f0"/><stop offset="0.7760" stop-color="#303be2"/><stop offset="0.7840" stop-color="#2b7f41"/><stop offset="0.7920" stop-color="#94d111"/><stop offset="0.8000" stop-color="#fbe042"/><stop offset="0.8080" stop-color="#f669da"/><stop offset="0.8160" stop-color="#782af0"/><stop offset="0.8240" stop-color="#3055d6"/><stop offset="0.8320" stop-color="#309f21"/><stop offset="0.8400" stop-color="#cde319"/><stop offset="0.8480" stop-color="#ffb39a"/><stop offset="0.8560" stop-color="#c437f0"/><stop offset="0.8640" stop-color="#3034e6"/><stop offset="0.8720" stop-color="#2b813f"/><stop offset="0.8800" stop-color="#a5d613"/><stop offset="0.8880" stop-color="#ffcf67"/><stop offset="0.8960" stop-color="#e13df0"/><stop offset="0.9040" stop-color="#3028ec"/><stop offset="0.9120" stop-color="#297848"/><stop offset="0.9200" stop-color="#9dd412"/><stop offset="0.9280" stop-color="#ffcf65"/><stop offset="0.9360" stop-color="#db3cf0"/><stop offset="0.9440" stop-color="#302fe8"/><stop offset="0.9520" stop-color="#2b843c"/><stop offset="0.9600" stop-color="#b7dc16"/><stop offset="0.9680" stop-color="#ffb696"/><stop offset="0.9760" stop-color="#b234f0"/><stop offset="0.9840" stop-color="#304bdb"/><stop offset="0.9920" stop-color="#3aa51e"/><stop offset="1.0000" stop-color="#f1ee1f"/></radialGradient>
<radialGradient id="pek0m" gradientUnits="userSpaceOnUse" cx="559.2" cy="413.7" r="50"><stop offset="0" stop-color="#fff"/><stop offset="0.341" stop-color="#fff"/><stop offset="0.620" stop-color="#bbb"/><stop offset="1" stop-color="#000"/></radialGradient>
<mask id="pek0" maskUnits="userSpaceOnUse" x="0" y="0" width="620" height="685"><g filter="url(#dith)"><rect x="507.20000000000005" y="361.7" width="104" height="104" fill="url(#pek0m)"/></g></mask>
<clipPath id="peh0"><polygon points="434.8,571.1 707.7,278.8 488.4,74.0 215.5,366.4"/></clipPath>
<radialGradient id="per1" gradientUnits="userSpaceOnUse" cx="583.3" cy="436.2" r="50"><stop offset="0.0000" stop-color="#2a7e42"/><stop offset="0.0080" stop-color="#2a7f41"/><stop offset="0.0160" stop-color="#2b8040"/><stop offset="0.0240" stop-color="#2b823e"/><stop offset="0.0320" stop-color="#2c853b"/><stop offset="0.0400" stop-color="#2c8937"/><stop offset="0.0480" stop-color="#2d8e32"/><stop offset="0.0560" stop-color="#2e932d"/><stop offset="0.0640" stop-color="#2f9927"/><stop offset="0.0720" stop-color="#31a120"/><stop offset="0.0800" stop-color="#41a91d"/><stop offset="0.0880" stop-color="#53b21a"/><stop offset="0.0960" stop-color="#66bb17"/><stop offset="0.1040" stop-color="#7cc613"/><stop offset="0.1120" stop-color="#92d110"/><stop offset="0.1200" stop-color="#a5d613"/><stop offset="0.1280" stop-color="#b9dd16"/><stop offset="0.1360" stop-color="#cfe31a"/><stop offset="0.1440" stop-color="#e6ea1d"/><stop offset="0.1520" stop-color="#f9ed27"/><stop offset="0.1600" stop-color="#fcdf44"/><stop offset="0.1680" stop-color="#ffd162"/><stop offset="0.1760" stop-color="#ffba8c"/><stop offset="0.1840" stop-color="#ffa3b9"/><stop offset="0.1920" stop-color="#f97dd0"/><stop offset="0.2000" stop-color="#f353e6"/><stop offset="0.2080" stop-color="#dc3cf0"/><stop offset="0.2160" stop-color="#b735f0"/><stop offset="0.2240" stop-color="#8a2df0"/><stop offset="0.2320" stop-color="#5225f0"/><stop offset="0.2400" stop-color="#302aeb"/><stop offset="0.2480" stop-color="#3043df"/><stop offset="0.2560" stop-color="#305cd2"/><stop offset="0.2640" stop-color="#2a5b81"/><stop offset="0.2720" stop-color="#2c8739"/><stop offset="0.2800" stop-color="#38a41f"/><stop offset="0.2880" stop-color="#74c215"/><stop offset="0.2960" stop-color="#aad814"/><stop offset="0.3040" stop-color="#dbe71c"/><stop offset="0.3120" stop-color="#fae538"/><stop offset="0.3200" stop-color="#ffc578"/><stop offset="0.3280" stop-color="#fe97c3"/><stop offset="0.3360" stop-color="#f351e7"/><stop offset="0.3440" stop-color="#c237f0"/><stop offset="0.3520" stop-color="#7a2bf0"/><stop offset="0.3600" stop-color="#3025ed"/><stop offset="0.3680" stop-color="#304adb"/><stop offset="0.3760" stop-color="#2b5d99"/><stop offset="0.3840" stop-color="#2d8c34"/><stop offset="0.3920" stop-color="#59b519"/><stop offset="0.4000" stop-color="#a6d713"/><stop offset="0.4080" stop-color="#e8eb1e"/><stop offset="0.4160" stop-color="#fed45b"/><stop offset="0.4240" stop-color="#ff9ebf"/><stop offset="0.4320" stop-color="#f144ee"/><stop offset="0.4400" stop-color="#a631f0"/><stop offset="0.4480" stop-color="#3c22f0"/><stop offset="0.4560" stop-color="#3049dc"/><stop offset="0.4640" stop-color="#295b7e"/><stop offset="0.4720" stop-color="#2f9d23"/><stop offset="0.4800" stop-color="#8ecf10"/><stop offset="0.4880" stop-color="#dee81c"/><stop offset="0.4960" stop-color="#fed35e"/><stop offset="0.5040" stop-color="#fc8ac9"/><stop offset="0.5120" stop-color="#d43af0"/><stop offset="0.5200" stop-color="#6a28f0"/><stop offset="0.5280" stop-color="#303de2"/><stop offset="0.5360" stop-color="#2b5c8e"/><stop offset="0.5440" stop-color="#30a020"/><stop offset="0.5520" stop-color="#9fd412"/><stop offset="0.5600" stop-color="#f8ef22"/><stop offset="0.5680" stop-color="#ffb498"/><stop offset="0.5760" stop-color="#f148ec"/><stop offset="0.5840" stop-color="#8a2df0"/><stop offset="0.5920" stop-color="#3036e5"/><stop offset="0.6000" stop-color="#2b5c8f"/><stop offset="0.6080" stop-color="#3ca61e"/><stop offset="0.6160" stop-color="#b3db15"/><stop offset="0.6240" stop-color="#fcde45"/><stop offset="0.6320" stop-color="#fc8bc9"/><stop offset="0.6400" stop-color="#be36f0"/><stop offset="0.6480" stop-color="#3022ef"/><stop offset="0.6560" stop-color="#2f5fc4"/><stop offset="0.6640" stop-color="#2f9c24"/><stop offset="0.6720" stop-color="#add914"/><stop offset="0.6800" stop-color="#fcdd49"/><stop offset="0.6880" stop-color="#f97bd1"/><stop offset="0.6960" stop-color="#a731f0"/><stop offset="0.7040" stop-color="#3034e6"/><stop offset="0.7120" stop-color="#287050"/><stop offset="0.7200" stop-color="#68bc17"/><stop offset="0.7280" stop-color="#e7eb1d"/><stop offset="0.7360" stop-color="#ffada6"/><stop offset="0.7440" stop-color="#cf39f0"/><stop offset="0.7520" stop-color="#3023ef"/><stop offset="0.7600" stop-color="#2c5d9c"/><stop offset="0.7680" stop-color="#56b31a"/><stop offset="0.7760" stop-color="#e2e91d"/><stop offset="0.7840" stop-color="#ffaba9"/><stop offset="0.7920" stop-color="#c437f0"/><stop offset="0.8000" stop-color="#302ee9"/><stop offset="0.8080" stop-color="#29734d"/><stop offset="0.8160" stop-color="#82c912"/><stop offset="0.8240" stop-color="#fae636"/><stop offset="0.8320" stop-color="#f872d6"/><stop offset="0.8400" stop-color="#7c2bf0"/><stop offset="0.8480" stop-color="#3056d5"/><stop offset="0.8560" stop-color="#35a21f"/><stop offset="0.8640" stop-color="#d6e61b"/><stop offset="0.8720" stop-color="#ffa9ad"/><stop offset="0.8800" stop-color="#b234f0"/><stop offset="0.8880" stop-color="#3041df"/><stop offset="0.8960" stop-color="#2d912f"/><stop offset="0.9040" stop-color="#c2df18"/><stop offset="0.9120" stop-color="#ffb498"/><stop offset="0.9200" stop-color="#ba35f0"/><stop offset="0.9280" stop-color="#3041e0"/><stop offset="0.9360" stop-color="#2e952b"/><stop offset="0.9440" stop-color="#cee319"/><stop offset="0.9520" stop-color="#ffa5b5"/><stop offset="0.9600" stop-color="#9e30f0"/><stop offset="0.9680" stop-color="#3054d6"/><stop offset="0.9760" stop-color="#4bad1c"/><stop offset="0.9840" stop-color="#f8ef23"/><stop offset="0.9920" stop-color="#f666dc"/><stop offset="1.0000" stop-color="#4623f0"/></radialGradient>
<radialGradient id="pek1m" gradientUnits="userSpaceOnUse" cx="583.3" cy="436.2" r="50"><stop offset="0" stop-color="#fff"/><stop offset="0.341" stop-color="#fff"/><stop offset="0.620" stop-color="#bbb"/><stop offset="1" stop-color="#000"/></radialGradient>
<mask id="pek1" maskUnits="userSpaceOnUse" x="0" y="0" width="620" height="685"><g filter="url(#dith)"><rect x="531.3" y="384.2" width="104" height="104" fill="url(#pek1m)"/></g></mask>
<clipPath id="peh1"><polygon points="434.8,571.1 707.7,278.8 927.0,483.5 654.1,775.9"/></clipPath>
<clipPath id="pfc"><rect x="219.2" y="603.3" width="80.0" height="80.10000000000002"/></clipPath>
<radialGradient id="pfm"><stop offset="0" stop-color="#fff"/><stop offset="0.303" stop-color="#fff"/><stop offset="0.550" stop-color="#bbb"/><stop offset="1" stop-color="#000"/></radialGradient>
<mask id="pfk" maskUnits="userSpaceOnUse" x="0" y="0" width="620" height="685"><g filter="url(#dith)"><rect x="217.2" y="601.3" width="84.0" height="84.10000000000002" fill="#000"/><ellipse cx="258.35" cy="644.4" rx="56" ry="46" transform="rotate(48.7 258.35 644.4)" fill="url(#pfm)"/></g></mask>
<filter id="gnoise" x="0" y="0" width="1" height="1" color-interpolation-filters="sRGB"><feTurbulence type="fractalNoise" baseFrequency="0.6" numOctaves="1" seed="2"/><feColorMatrix type="matrix" values="0 0 0 0 0.14  0 0 0 0 0.18  0 0 0 0 0.66  1.6 0 0 0 -0.55"/></filter>
<clipPath id="pgc"><rect x="531.7" y="602" width="79.79999999999995" height="79.5"/></clipPath>
<radialGradient id="pgr0" gradientUnits="userSpaceOnUse" cx="557.6" cy="634.4" r="22"><stop offset="0.0000" stop-color="#f040f0"/><stop offset="0.0182" stop-color="#fe9bc0"/><stop offset="0.0364" stop-color="#fed45b"/><stop offset="0.0545" stop-color="#e5ea1d"/><stop offset="0.0727" stop-color="#9ed412"/><stop offset="0.0909" stop-color="#47ab1c"/><stop offset="0.1091" stop-color="#2a7e42"/><stop offset="0.1273" stop-color="#305dd2"/><stop offset="0.1455" stop-color="#3031e7"/><stop offset="0.1636" stop-color="#7029f0"/><stop offset="0.1818" stop-color="#ca38f0"/><stop offset="0.2000" stop-color="#f76ed8"/><stop offset="0.2182" stop-color="#ffba8e"/><stop offset="0.2364" stop-color="#fae733"/><stop offset="0.2545" stop-color="#c2df18"/><stop offset="0.2727" stop-color="#75c215"/><stop offset="0.2909" stop-color="#2e952b"/><stop offset="0.3091" stop-color="#2b5c8d"/><stop offset="0.3273" stop-color="#3047dc"/><stop offset="0.3455" stop-color="#3b22f0"/><stop offset="0.3636" stop-color="#a431f0"/><stop offset="0.3818" stop-color="#f040f0"/><stop offset="0.4000" stop-color="#fe9bc0"/><stop offset="0.4182" stop-color="#fed45b"/><stop offset="0.4364" stop-color="#e5ea1d"/><stop offset="0.4545" stop-color="#9ed412"/><stop offset="0.4727" stop-color="#47ab1c"/><stop offset="0.4909" stop-color="#2a7e42"/><stop offset="0.5091" stop-color="#305dd2"/><stop offset="0.5273" stop-color="#3031e7"/><stop offset="0.5455" stop-color="#7029f0"/><stop offset="0.5636" stop-color="#ca38f0"/><stop offset="0.5818" stop-color="#f76ed8"/><stop offset="0.6000" stop-color="#ffba8e"/><stop offset="0.6182" stop-color="#fae733"/><stop offset="0.6364" stop-color="#c2df18"/><stop offset="0.6545" stop-color="#75c215"/><stop offset="0.6727" stop-color="#2e952b"/><stop offset="0.6909" stop-color="#2b5c8d"/><stop offset="0.7091" stop-color="#3047dc"/><stop offset="0.7273" stop-color="#3b22f0"/><stop offset="0.7455" stop-color="#a431f0"/><stop offset="0.7636" stop-color="#f040f0"/><stop offset="0.7818" stop-color="#fe9bc0"/><stop offset="0.8000" stop-color="#fed45b"/><stop offset="0.8182" stop-color="#e5ea1d"/><stop offset="0.8364" stop-color="#9ed412"/><stop offset="0.8545" stop-color="#47ab1c"/><stop offset="0.8727" stop-color="#2a7e42"/><stop offset="0.8909" stop-color="#305dd2"/><stop offset="0.9091" stop-color="#3031e7"/><stop offset="0.9273" stop-color="#7029f0"/><stop offset="0.9455" stop-color="#ca38f0"/><stop offset="0.9636" stop-color="#f76ed8"/><stop offset="0.9818" stop-color="#ffba8e"/><stop offset="1.0000" stop-color="#fae733"/></radialGradient>
<radialGradient id="pgk0m" gradientUnits="userSpaceOnUse" cx="557.6" cy="634.4" r="22"><stop offset="0" stop-color="#fff"/><stop offset="0.231" stop-color="#fff"/><stop offset="0.420" stop-color="#bbb"/><stop offset="1" stop-color="#000"/></radialGradient>
<mask id="pgk0" maskUnits="userSpaceOnUse" x="0" y="0" width="620" height="685"><g filter="url(#dith)"><rect x="533.6" y="610.4" width="48" height="48" fill="url(#pgk0m)"/></g></mask>
<radialGradient id="pgr1" gradientUnits="userSpaceOnUse" cx="581.5" cy="653.8" r="22"><stop offset="0.0000" stop-color="#3020f0"/><stop offset="0.0182" stop-color="#9b2ff0"/><stop offset="0.0364" stop-color="#e83ef0"/><stop offset="0.0545" stop-color="#fd92c5"/><stop offset="0.0727" stop-color="#ffd063"/><stop offset="0.0909" stop-color="#ecec1e"/><stop offset="0.1091" stop-color="#a5d713"/><stop offset="0.1273" stop-color="#50b01b"/><stop offset="0.1455" stop-color="#2b823e"/><stop offset="0.1636" stop-color="#3060cb"/><stop offset="0.1818" stop-color="#3036e5"/><stop offset="0.2000" stop-color="#6528f0"/><stop offset="0.2182" stop-color="#c237f0"/><stop offset="0.2364" stop-color="#f665dd"/><stop offset="0.2545" stop-color="#ffb499"/><stop offset="0.2727" stop-color="#fbe33b"/><stop offset="0.2909" stop-color="#c9e119"/><stop offset="0.3091" stop-color="#7ec713"/><stop offset="0.3273" stop-color="#2f9927"/><stop offset="0.3455" stop-color="#295b7e"/><stop offset="0.3636" stop-color="#304cda"/><stop offset="0.3818" stop-color="#3020f0"/><stop offset="0.4000" stop-color="#9b2ff0"/><stop offset="0.4182" stop-color="#e83ef0"/><stop offset="0.4364" stop-color="#fd92c5"/><stop offset="0.4545" stop-color="#ffd063"/><stop offset="0.4727" stop-color="#ecec1e"/><stop offset="0.4909" stop-color="#a5d713"/><stop offset="0.5091" stop-color="#50b01b"/><stop offset="0.5273" stop-color="#2b823e"/><stop offset="0.5455" stop-color="#3060cb"/><stop offset="0.5636" stop-color="#3036e5"/><stop offset="0.5818" stop-color="#6528f0"/><stop offset="0.6000" stop-color="#c237f0"/><stop offset="0.6182" stop-color="#f665dd"/><stop offset="0.6364" stop-color="#ffb499"/><stop offset="0.6545" stop-color="#fbe33b"/><stop offset="0.6727" stop-color="#c9e119"/><stop offset="0.6909" stop-color="#7ec713"/><stop offset="0.7091" stop-color="#2f9927"/><stop offset="0.7273" stop-color="#295b7e"/><stop offset="0.7455" stop-color="#304cda"/><stop offset="0.7636" stop-color="#3020f0"/><stop offset="0.7818" stop-color="#9b2ff0"/><stop offset="0.8000" stop-color="#e83ef0"/><stop offset="0.8182" stop-color="#fd92c5"/><stop offset="0.8364" stop-color="#ffd063"/><stop offset="0.8545" stop-color="#ecec1e"/><stop offset="0.8727" stop-color="#a5d713"/><stop offset="0.8909" stop-color="#50b01b"/><stop offset="0.9091" stop-color="#2b823e"/><stop offset="0.9273" stop-color="#3060cb"/><stop offset="0.9455" stop-color="#3036e5"/><stop offset="0.9636" stop-color="#6528f0"/><stop offset="0.9818" stop-color="#c237f0"/><stop offset="1.0000" stop-color="#f665dd"/></radialGradient>
<radialGradient id="pgk1m" gradientUnits="userSpaceOnUse" cx="581.5" cy="653.8" r="22"><stop offset="0" stop-color="#fff"/><stop offset="0.231" stop-color="#fff"/><stop offset="0.420" stop-color="#bbb"/><stop offset="1" stop-color="#000"/></radialGradient>
<mask id="pgk1" maskUnits="userSpaceOnUse" x="0" y="0" width="620" height="685"><g filter="url(#dith)"><rect x="557.5" y="629.8" width="48" height="48" fill="url(#pgk1m)"/></g></mask>
</defs>
<rect width="620" height="685" fill="#fff"/>
<rect x="28.1" y="45.5" width="178.8" height="178.0" fill="#0a1f5e"/>
<circle cx="91.6" cy="110.2" r="20" fill="url(#spotA)"/>
<circle cx="141.8" cy="159" r="20" fill="url(#spotA)"/>
<path d="M28.1 131.9H202.9M118.7 223.5V49.5" stroke="#f0f0f4" stroke-width="1.7" fill="none"/>
<path d="M206.9 131.9l-6 -3.3v6.6zM118.7 45.5l-3.3 6h6.6z" fill="#f0f0f4"/>
<text x="127" y="58.4" font-size="13.5" fill="#f4f4f4" stroke="#f4f4f4" stroke-width="0.28">10</text>
<text x="124.2" y="127" font-size="16" fill="#f4f4f4" stroke="#f4f4f4" stroke-width="0.28">O</text>
<text x="177.2" y="122.4" font-size="12.6" fill="#f4f4f4" stroke="#f4f4f4" stroke-width="0.25">(<tspan font-family="'Liberation Serif', serif">μ</tspan>m)</text>
<text x="190.3" y="150" font-size="13.5" fill="#f4f4f4" stroke="#f4f4f4" stroke-width="0.28">10</text>
<text x="33" y="151.6" font-size="13.5" fill="#f4f4f4" stroke="#f4f4f4" stroke-width="0.28">-10</text>
<text x="124.4" y="218.2" font-size="13.5" fill="#f4f4f4" stroke="#f4f4f4" stroke-width="0.28">-10</text>
<text transform="translate(73.4 105.3) scale(1.36 1)" font-size="17.5" fill="#f0f0f0" font-family="'Liberation Serif', serif">α</text>
<text transform="translate(150.3 171) scale(1.2 1)" font-size="17.5" fill="#f0f0f0" font-family="'Liberation Serif', serif">β</text>
<text x="80" y="30.5" font-size="17" fill="#141414" stroke="#141414" stroke-width="0.28">input field</text>
<text x="202" y="13.4" font-size="17.2" fill="#141414" stroke="#141414" stroke-width="0.28">CTF at multiple locations</text>
<text x="406.5" y="13.4" font-size="17.3" fill="#141414" stroke="#141414" stroke-width="0.28">degree of shift invariance</text>
<text x="438.7" y="34.3" font-size="17.3" fill="#141414" stroke="#141414" stroke-width="0.28">over field of view</text>
<text x="1.3" y="54.7" font-size="17.8" fill="#111" font-weight="bold">(a)</text>
<text x="211" y="55.8" font-size="18" fill="#111" font-weight="bold">(b)</text>
<text x="370.3" y="54.2" font-size="18" fill="#111" font-weight="bold">(c)</text>
<text x="233.6" y="37.6" font-size="15" fill="#141414" stroke="#141414" stroke-width="0.28">amplitude</text>
<text x="306.7" y="37.6" font-size="15" fill="#141414" stroke="#141414" stroke-width="0.28">phase</text>
<rect x="239" y="42.8" width="55" height="55.0" fill="#fdfcd9" stroke="#6e6e6e" stroke-width="0.9"/>
<g clip-path="url(#ca0)"><rect x="243" y="47.7" width="44" height="44" fill="#46b0d2"/><rect x="243" y="47.7" width="44" height="44" filter="url(#ampN)" opacity="0.9"/></g>
<rect x="301.3" y="42.8" width="55.3" height="55.0" fill="#f8a4b6" stroke="#7a5a62" stroke-width="0.9"/>
<rect x="239" y="105.2" width="55" height="54.3" fill="#fdfcd9" stroke="#6e6e6e" stroke-width="0.9"/>
<g clip-path="url(#ca1)"><rect x="243" y="109.75" width="44" height="44" fill="#46b0d2"/><rect x="243" y="109.75" width="44" height="44" filter="url(#ampN)" opacity="0.9"/></g>
<rect x="301.3" y="105.2" width="55.3" height="54.3" fill="#f8a4b6" stroke="#7a5a62" stroke-width="0.9"/>
<rect x="239" y="166.5" width="55" height="55.099999999999994" fill="#fdfcd9" stroke="#6e6e6e" stroke-width="0.9"/>
<g clip-path="url(#ca2)"><rect x="243" y="171.45000000000002" width="44" height="44" fill="#46b0d2"/><rect x="243" y="171.45000000000002" width="44" height="44" filter="url(#ampN)" opacity="0.9"/></g>
<rect x="301.3" y="166.5" width="55.3" height="55.099999999999994" fill="#f8a4b6" stroke="#7a5a62" stroke-width="0.9"/>
<g clip-path="url(#ca0)" fill="none"><circle cx="266" cy="70.7" r="8.5" stroke="#2488c8" stroke-width="2.2" opacity="0.55"/><circle cx="266" cy="70.7" r="5.5" stroke="#a8e4c8" stroke-width="1.6" opacity="0.55"/><circle cx="266" cy="70.7" r="13" stroke="#8ad8c8" stroke-width="2" opacity="0.35"/></g>
<g clip-path="url(#cp0)"><rect x="300" y="44.7" width="28.5" height="50" fill="url(#pA)"/><rect x="328" y="44.7" width="30" height="50" fill="url(#pA2)"/>
<ellipse cx="326" cy="55.7" rx="15" ry="17" fill="url(#pAt)"/><ellipse cx="324" cy="84.7" rx="11" ry="13" fill="url(#pAb)"/></g>
<g clip-path="url(#cp1)"><rect x="300" y="106.75" width="56" height="50" fill="url(#pO)"/>
<ellipse cx="329" cy="114.75" rx="12" ry="13" fill="url(#pOt)"/></g>
<g clip-path="url(#cp2)"><rect x="300" y="168.45000000000002" width="56" height="50" fill="url(#pB)"/>
<ellipse cx="336" cy="176.45000000000002" rx="12" ry="11" fill="url(#pBt)"/></g>
<text transform="translate(279.8 95.6) scale(1.2 1)" font-size="16.5" fill="#111" font-family="'Liberation Serif', serif">α</text>
<text transform="translate(342.3 95.6) scale(1.2 1)" font-size="16.5" fill="#111" font-family="'Liberation Serif', serif">α</text>
<text x="279.3" y="157.6" font-size="17.5" fill="#111" stroke="#111" stroke-width="0.28">O</text>
<text x="342" y="157.6" font-size="17.5" fill="#111" stroke="#111" stroke-width="0.28">O</text>
<text x="282.5" y="216.1" font-size="17.5" fill="#111" font-family="'Liberation Serif', serif">β</text>
<text x="346" y="216.1" font-size="17.5" fill="#111" font-family="'Liberation Serif', serif">β</text>
<rect x="239" y="227" width="55" height="5.6" fill="url(#cbA)" stroke="#666" stroke-width="0.8"/>
<rect x="301.3" y="227" width="55.3" height="5.6" fill="url(#cbP)" stroke="#666" stroke-width="0.8"/>
<text x="360.5" y="232.3" font-size="12.5" fill="#141414" stroke="#141414" stroke-width="0.28">(rad)</text>
<text x="239" y="246" font-size="12" fill="#141414" stroke="#141414" stroke-width="0.28">0</text>
<text x="280.5" y="246" font-size="12" fill="#141414" stroke="#141414" stroke-width="0.28">1.2</text>
<text x="299.8" y="246" font-size="12.5" fill="#1a1a1a">-<tspan font-family="'Liberation Serif', serif">π</tspan></text>
<text x="327" y="246" font-size="12" fill="#141414" stroke="#141414" stroke-width="0.28">0</text>
<text x="350" y="246" font-size="12.5" fill="#141414" font-family="'Liberation Serif', serif">π</text>
<g clip-path="url(#hcc)"><rect x="398.1" y="42.7" width="178.0" height="178.7" fill="#2134a2"/><g fill="none" stroke="#132076" filter="url(#blur12)" stroke-linecap="butt" opacity="0.8"><path d="M395.1 36.7Q397.1 132.1 399.1 227.4" stroke-width="3.2"/><path d="M406.7 36.7Q408.3 132.1 411.1 227.4" stroke-width="3.2"/><path d="M425.1 36.7Q426.9 132.1 429.6 227.4" stroke-width="3.2"/><path d="M441.1 36.7Q443.6 132.1 448.1 227.4" stroke-width="3.2"/><path d="M455.1 36.7Q459.1 132.1 465.1 227.4" stroke-width="2.6"/><path d="M500.1 36.7Q511.6 132.1 525.1 227.4" stroke-width="2.6"/><path d="M521.6 36.7Q529.6 132.1 539.6 227.4" stroke-width="3.2"/><path d="M541.7 36.7Q547.5 132.1 553.6 227.4" stroke-width="3.2"/><path d="M559.1 36.7Q564.6 132.1 570.1 227.4" stroke-width="3.2"/><path d="M574.1 36.7Q577.1 132.1 580.1 227.4" stroke-width="3.2"/></g><g fill="none" stroke="#2043a7" filter="url(#blur2)" opacity="0.3"><path d="M401.1 36.7Q403.1 132.1 405.1 227.4" stroke-width="4"/><path d="M416.1 36.7Q417.9 132.1 420.6 227.4" stroke-width="4"/><path d="M433.1 36.7Q435.1 132.1 439.1 227.4" stroke-width="4"/><path d="M448.1 36.7Q451.1 132.1 456.1 227.4" stroke-width="4"/><path d="M510.1 36.7Q521.1 132.1 532.1 227.4" stroke-width="4"/><path d="M531.6 36.7Q539.1 132.1 546.6 227.4" stroke-width="4"/><path d="M550.6 36.7Q555.9 132.1 562.1 227.4" stroke-width="4"/><path d="M567.1 36.7Q571.1 132.1 575.1 227.4" stroke-width="4"/></g><g filter="url(#blur2)"><polygon points="468.6,-18.3 466.6,-9.5 464.8,-0.8 463.2,8.0 461.7,16.7 460.4,25.5 459.3,34.2 458.3,43.0 457.6,51.7 457.0,60.5 456.6,69.2 456.3,78.0 456.3,86.7 456.4,95.5 456.7,104.2 457.1,113.0 457.8,121.7 458.6,130.4 459.5,139.2 460.7,147.9 461.9,156.7 463.3,165.4 464.9,174.2 466.6,182.9 468.4,191.7 470.3,200.4 472.5,209.2 474.7,217.9 477.1,226.7 479.7,235.4 482.3,244.2 485.2,252.9 488.1,261.7 491.2,270.4 494.5,279.2 497.9,287.9 501.4,296.7 501.4,296.7 503.6,287.9 505.7,279.2 507.6,270.4 509.4,261.7 510.9,252.9 512.3,244.2 513.5,235.4 514.5,226.7 515.4,217.9 516.1,209.2 516.6,200.4 517.0,191.7 517.1,182.9 517.1,174.2 517.0,165.4 516.6,156.7 516.1,147.9 515.4,139.2 514.6,130.4 513.5,121.7 512.2,113.0 510.8,104.2 509.1,95.5 507.2,86.7 505.1,78.0 502.8,69.2 500.4,60.5 497.6,51.7 494.7,43.0 491.6,34.2 488.3,25.5 484.8,16.7 481.0,8.0 477.1,-0.8 473.0,-9.5 468.6,-18.3" fill="#204eab"/><polygon points="469.0,-15.3 467.5,-7.1 466.0,1.1 464.8,9.4 463.6,17.6 462.6,25.8 461.7,34.0 461.0,42.3 460.4,50.5 460.0,58.7 459.7,66.9 459.5,75.1 459.5,83.4 459.6,91.6 459.9,99.8 460.3,108.0 460.8,116.3 461.5,124.5 462.3,132.7 463.3,140.9 464.3,149.1 465.6,157.4 466.9,165.6 468.4,173.8 470.1,182.0 471.8,190.3 473.7,198.5 475.8,206.7 477.9,214.9 480.2,223.1 482.7,231.4 485.3,239.6 488.0,247.8 490.8,256.0 493.8,264.3 497.0,272.5 500.2,280.7 500.2,280.7 502.2,272.5 504.1,264.3 505.7,256.0 507.2,247.8 508.6,239.6 509.8,231.4 510.8,223.1 511.7,214.9 512.4,206.7 512.9,198.5 513.3,190.3 513.5,182.0 513.5,173.8 513.4,165.6 513.1,157.4 512.7,149.1 512.1,140.9 511.3,132.7 510.4,124.5 509.3,116.3 508.0,108.0 506.6,99.8 505.0,91.6 503.2,83.4 501.3,75.1 499.2,66.9 496.9,58.7 494.5,50.5 491.9,42.3 489.1,34.0 486.2,25.8 483.1,17.6 479.8,9.4 476.4,1.1 472.8,-7.1 469.0,-15.3" fill="#1f6fb5"/><polygon points="469.4,-12.4 468.1,-4.8 466.9,2.7 465.8,10.3 464.9,17.9 464.0,25.4 463.3,33.0 462.7,40.6 462.2,48.2 461.8,55.7 461.5,63.3 461.3,70.9 461.3,78.5 461.4,86.0 461.5,93.6 461.8,101.2 462.2,108.7 462.7,116.3 463.4,123.9 464.1,131.5 465.0,139.0 466.0,146.6 467.1,154.2 468.4,161.8 469.9,169.3 471.5,176.9 473.2,184.5 475.1,192.0 477.1,199.6 479.3,207.2 481.6,214.8 484.1,222.3 486.7,229.9 489.5,237.5 492.4,245.1 495.4,252.6 498.6,260.2 498.6,260.2 500.6,252.6 502.4,245.1 504.0,237.5 505.5,229.9 506.8,222.3 507.9,214.8 508.9,207.2 509.7,199.6 510.3,192.0 510.8,184.5 511.1,176.9 511.2,169.3 511.1,161.8 510.9,154.2 510.5,146.6 510.0,139.0 509.3,131.5 508.4,123.9 507.4,116.3 506.2,108.7 504.9,101.2 503.5,93.6 502.0,86.0 500.3,78.5 498.5,70.9 496.5,63.3 494.4,55.7 492.2,48.2 489.8,40.6 487.3,33.0 484.7,25.4 481.9,17.9 479.0,10.3 475.9,2.7 472.7,-4.8 469.4,-12.4" fill="#1e92c0"/><polygon points="469.8,-9.5 468.7,-2.6 467.8,4.3 466.9,11.2 466.1,18.2 465.4,25.1 464.8,32.0 464.3,38.9 463.9,45.8 463.5,52.8 463.3,59.7 463.1,66.6 463.1,73.5 463.1,80.5 463.2,87.4 463.4,94.3 463.7,101.2 464.1,108.2 464.5,115.1 465.1,122.0 465.8,128.9 466.5,135.8 467.4,142.8 468.5,149.7 469.7,156.6 471.1,163.5 472.6,170.5 474.4,177.4 476.2,184.3 478.3,191.2 480.4,198.2 482.8,205.1 485.3,212.0 488.0,218.9 490.8,225.9 493.8,232.8 496.9,239.7 496.9,239.7 498.9,232.8 500.7,225.9 502.3,218.9 503.8,212.0 505.0,205.1 506.1,198.2 507.0,191.2 507.7,184.3 508.3,177.4 508.6,170.5 508.8,163.5 508.8,156.6 508.7,149.7 508.3,142.8 507.8,135.8 507.1,128.9 506.2,122.0 505.3,115.1 504.2,108.2 503.1,101.2 501.8,94.3 500.5,87.4 499.0,80.5 497.4,73.5 495.7,66.6 493.9,59.7 491.9,52.8 489.9,45.8 487.8,38.9 485.5,32.0 483.2,25.1 480.7,18.2 478.2,11.2 475.5,4.3 472.7,-2.6 469.8,-9.5" fill="#35aac3"/><polygon points="470.2,-6.7 469.3,-0.2 468.5,6.2 467.8,12.7 467.2,19.1 466.7,25.6 466.2,32.0 465.8,38.5 465.4,44.9 465.1,51.4 465.0,57.8 464.8,64.3 464.8,70.7 464.8,77.2 464.9,83.6 465.1,90.1 465.3,96.5 465.7,103.0 466.0,109.4 466.5,115.9 467.0,122.3 467.7,128.8 468.4,135.2 469.2,141.7 470.2,148.1 471.4,154.5 472.8,161.0 474.3,167.4 476.0,173.9 477.9,180.3 479.9,186.8 482.1,193.2 484.5,199.7 487.1,206.1 489.8,212.6 492.7,219.0 495.7,225.5 495.7,225.5 497.6,219.0 499.4,212.6 500.9,206.1 502.3,199.7 503.5,193.2 504.5,186.8 505.3,180.3 505.9,173.9 506.4,167.4 506.6,161.0 506.7,154.5 506.6,148.1 506.3,141.7 505.8,135.2 505.1,128.8 504.4,122.3 503.5,115.9 502.5,109.4 501.5,103.0 500.4,96.5 499.2,90.1 497.9,83.6 496.5,77.2 495.0,70.7 493.4,64.3 491.7,57.8 490.0,51.4 488.2,44.9 486.2,38.5 484.2,32.0 482.1,25.6 479.9,19.1 477.6,12.7 475.2,6.2 472.7,-0.2 470.2,-6.7" fill="#55bdc1"/><polygon points="471.1,0.2 470.4,6.2 469.7,12.1 469.1,18.1 468.5,24.0 468.1,30.0 467.6,35.9 467.3,41.9 467.0,47.8 466.8,53.8 466.6,59.7 466.5,65.7 466.5,71.6 466.5,77.6 466.6,83.5 466.7,89.5 466.9,95.4 467.2,101.4 467.6,107.3 468.0,113.2 468.4,119.2 468.9,125.1 469.5,131.1 470.2,137.0 471.1,143.0 472.1,148.9 473.3,154.9 474.7,160.8 476.3,166.8 478.0,172.7 479.9,178.7 481.9,184.6 484.1,190.6 486.5,196.5 489.1,202.5 491.8,208.4 494.7,214.4 494.7,214.4 496.6,208.4 498.2,202.5 499.7,196.5 501.0,190.6 502.1,184.6 503.0,178.7 503.8,172.7 504.3,166.8 504.7,160.8 504.8,154.9 504.8,148.9 504.7,143.0 504.3,137.0 503.7,131.1 503.1,125.1 502.3,119.2 501.5,113.2 500.6,107.3 499.6,101.4 498.5,95.4 497.4,89.5 496.2,83.5 494.9,77.6 493.5,71.6 492.1,65.7 490.6,59.7 489.0,53.8 487.3,47.8 485.5,41.9 483.7,35.9 481.8,30.0 479.8,24.0 477.7,18.1 475.6,12.1 473.4,6.2 471.1,0.2" fill="#7dccbb"/><polygon points="472.1,7.7 471.4,13.1 470.9,18.6 470.4,24.0 469.9,29.5 469.5,34.9 469.1,40.4 468.8,45.8 468.6,51.3 468.4,56.7 468.2,62.1 468.2,67.6 468.1,73.0 468.2,78.5 468.2,83.9 468.4,89.4 468.5,94.8 468.8,100.3 469.1,105.7 469.4,111.1 469.8,116.6 470.3,122.0 470.8,127.5 471.3,132.9 472.0,138.4 472.9,143.8 473.9,149.3 475.2,154.7 476.5,160.1 478.1,165.6 479.8,171.0 481.7,176.5 483.8,181.9 486.0,187.4 488.4,192.8 491.0,198.3 493.8,203.7 493.8,203.7 495.5,198.3 497.1,192.8 498.5,187.4 499.7,181.9 500.7,176.5 501.6,171.0 502.2,165.6 502.7,160.1 503.0,154.7 503.1,149.3 503.0,143.8 502.8,138.4 502.3,132.9 501.7,127.5 501.1,122.0 500.4,116.6 499.6,111.1 498.7,105.7 497.8,100.3 496.8,94.8 495.7,89.4 494.6,83.9 493.4,78.5 492.2,73.0 490.9,67.6 489.5,62.1 488.0,56.7 486.5,51.3 485.0,45.8 483.3,40.4 481.6,34.9 479.8,29.5 478.0,24.0 476.1,18.6 474.1,13.1 472.1,7.7" fill="#aadeb7"/><polygon points="473.0,15.2 472.5,20.2 472.0,25.2 471.6,30.2 471.2,35.2 470.9,40.2 470.6,45.3 470.3,50.3 470.1,55.3 470.0,60.3 469.9,65.3 469.8,70.3 469.8,75.3 469.8,80.4 469.9,85.4 470.0,90.4 470.2,95.4 470.4,100.4 470.7,105.4 471.0,110.4 471.3,115.5 471.7,120.5 472.2,125.5 472.7,130.5 473.3,135.5 474.0,140.5 474.9,145.6 476.0,150.6 477.2,155.6 478.6,160.6 480.2,165.6 481.9,170.6 483.8,175.6 485.9,180.7 488.1,185.7 490.5,190.7 493.0,195.7 493.0,195.7 494.7,190.7 496.1,185.7 497.4,180.7 498.5,175.6 499.4,170.6 500.2,165.6 500.7,160.6 501.1,155.6 501.3,150.6 501.4,145.6 501.3,140.5 501.0,135.5 500.5,130.5 499.9,125.5 499.3,120.5 498.6,115.5 497.8,110.4 497.1,105.4 496.2,100.4 495.3,95.4 494.3,90.4 493.3,85.4 492.2,80.4 491.1,75.3 489.9,70.3 488.6,65.3 487.3,60.3 486.0,55.3 484.6,50.3 483.1,45.3 481.5,40.2 480.0,35.2 478.3,30.2 476.6,25.2 474.9,20.2 473.0,15.2" fill="#d0edb3"/><polygon points="474.2,24.2 473.8,28.7 473.4,33.3 473.0,37.8 472.7,42.4 472.4,46.9 472.2,51.5 472.0,56.0 471.8,60.5 471.7,65.1 471.6,69.6 471.6,74.2 471.6,78.7 471.6,83.2 471.7,87.8 471.8,92.3 472.0,96.9 472.2,101.4 472.4,106.0 472.7,110.5 473.0,115.0 473.4,119.6 473.8,124.1 474.2,128.7 474.7,133.2 475.3,137.7 476.0,142.3 477.0,146.8 478.0,151.4 479.3,155.9 480.7,160.4 482.2,165.0 483.9,169.5 485.8,174.1 487.8,178.6 490.0,183.2 492.3,187.7 492.3,187.7 493.8,183.2 495.1,178.6 496.2,174.1 497.2,169.5 498.0,165.0 498.6,160.4 499.1,155.9 499.4,151.4 499.6,146.8 499.6,142.3 499.4,137.7 499.0,133.2 498.6,128.7 498.0,124.1 497.4,119.6 496.8,115.0 496.1,110.5 495.4,106.0 494.6,101.4 493.8,96.9 493.0,92.3 492.0,87.8 491.1,83.2 490.1,78.7 489.0,74.2 487.9,69.6 486.7,65.1 485.5,60.5 484.3,56.0 483.0,51.5 481.6,46.9 480.2,42.4 478.8,37.8 477.3,33.3 475.8,28.7 474.2,24.2" fill="#e8f6b1"/><polygon points="476.4,41.7 476.0,45.6 475.7,49.4 475.4,53.3 475.1,57.1 474.9,61.0 474.7,64.9 474.5,68.7 474.4,72.6 474.3,76.5 474.2,80.3 474.2,84.2 474.2,88.0 474.2,91.9 474.3,95.8 474.4,99.6 474.5,103.5 474.7,107.3 474.9,111.2 475.2,115.1 475.4,118.9 475.7,122.8 476.1,126.6 476.5,130.5 476.9,134.4 477.5,138.2 478.1,142.1 478.9,145.9 479.9,149.8 480.9,153.7 482.1,157.5 483.4,161.4 484.8,165.3 486.3,169.1 488.0,173.0 489.7,176.8 491.6,180.7 491.6,180.7 492.8,176.8 493.8,173.0 494.7,169.1 495.5,165.3 496.1,161.4 496.7,157.5 497.0,153.7 497.3,149.8 497.4,145.9 497.4,142.1 497.3,138.2 497.1,134.4 496.7,130.5 496.2,126.6 495.8,122.8 495.2,118.9 494.7,115.1 494.1,111.2 493.4,107.3 492.7,103.5 492.0,99.6 491.3,95.8 490.5,91.9 489.6,88.0 488.7,84.2 487.8,80.3 486.9,76.5 485.9,72.6 484.8,68.7 483.7,64.9 482.6,61.0 481.4,57.1 480.2,53.3 479.0,49.4 477.7,45.6 476.4,41.7" fill="#f5fbc3"/><polygon points="479.8,69.7 479.4,72.6 479.0,75.5 478.7,78.4 478.4,81.3 478.2,84.1 477.9,87.0 477.7,89.9 477.6,92.8 477.5,95.7 477.4,98.6 477.3,101.5 477.3,104.4 477.3,107.3 477.3,110.1 477.4,113.0 477.5,115.9 477.7,118.8 477.8,121.7 478.0,124.6 478.3,127.5 478.6,130.4 478.9,133.3 479.3,136.1 479.7,139.0 480.2,141.9 480.8,144.8 481.5,147.7 482.3,150.6 483.1,153.5 484.0,156.4 485.0,159.3 486.0,162.1 487.1,165.0 488.3,167.9 489.6,170.8 491.0,173.7 491.0,173.7 491.7,170.8 492.4,167.9 493.1,165.0 493.6,162.1 494.1,159.3 494.5,156.4 494.8,153.5 495.0,150.6 495.2,147.7 495.3,144.8 495.3,141.9 495.2,139.0 495.1,136.1 494.9,133.3 494.6,130.4 494.2,127.5 493.8,124.6 493.4,121.7 493.0,118.8 492.5,115.9 492.0,113.0 491.4,110.1 490.8,107.3 490.2,104.4 489.5,101.5 488.8,98.6 488.1,95.7 487.3,92.8 486.5,89.9 485.6,87.0 484.7,84.1 483.8,81.3 482.9,78.4 481.9,75.5 480.8,72.6 479.8,69.7" fill="#ffffd9"/></g></g>
<path d="M398.1 132H573.6M487 219.4V45.7" stroke="#0a0a0a" stroke-width="1.4" fill="none"/>
<path d="M576.6 132l-5 -3.0v6.0zM487 42.7l-3.0 5h6.0z" fill="#0a0a0a"/>
<text transform="translate(442 103.1) scale(1.3 1)" font-size="16.8" fill="#eef0fa" font-family="'Liberation Serif', serif">α</text>
<text x="520.8" y="172.8" font-size="18.5" fill="#eef0fa" font-family="'Liberation Serif', serif">β</text>
<circle cx="462.5" cy="107.9" r="3.7" fill="#a4c0e4"/><circle cx="514.6" cy="158.1" r="3.7" fill="#a4b0dc"/>
<text x="491" y="127.4" font-size="15" fill="#111" stroke="#111" stroke-width="0.28">O</text>
<rect x="587.5" y="42.8" width="11.5" height="178.7" fill="url(#cbV)" stroke="#777" stroke-width="0.6" stroke-opacity="0.7"/>
<text x="608.4" y="52.9" font-size="12.1" fill="#222" stroke="#222" stroke-width="0.28">1</text>
<text x="602.5" y="86.4" font-size="12.1" fill="#222" stroke="#222" stroke-width="0.28">0.8</text>
<text x="602.5" y="119.9" font-size="12.1" fill="#222" stroke="#222" stroke-width="0.28">0.6</text>
<text x="602.5" y="153.4" font-size="12.1" fill="#222" stroke="#222" stroke-width="0.28">0.4</text>
<text x="602.5" y="186.9" font-size="12.1" fill="#222" stroke="#222" stroke-width="0.28">0.2</text>
<text x="607" y="220.4" font-size="12.1" fill="#222" stroke="#222" stroke-width="0.28">0</text>
<text x="106.3" y="268.4" font-size="19" fill="#141414" stroke="#141414" stroke-width="0.28">aligned  system</text>
<path d="M29.7 290.3V275.4H298.4V290.3" stroke="#444" stroke-width="1.1" fill="none"/>
<text x="44.4" y="290.8" font-size="13.9" fill="#141414" stroke="#141414" stroke-width="0.28">degree of shift invariance</text>
<text x="218.4" y="290.8" font-size="13.9" fill="#141414" stroke="#141414" stroke-width="0.28">output field</text>
<text x="1.3" y="311" font-size="18.5" fill="#111" font-weight="bold">(d)</text>
<g clip-path="url(#hdc)"><rect x="39" y="298.2" width="165" height="165.0" fill="#f2f9c0"/><rect x="39" y="298.2" width="165" height="165.0" fill="url(#hd2)"/><ellipse cx="198" cy="288.2" rx="98" ry="46" fill="url(#hd1)"/><ellipse cx="53" cy="475.2" rx="118" ry="68" fill="url(#hd1)"/><ellipse cx="29" cy="453.2" rx="30" ry="60" fill="url(#hd1)" opacity="0.6"/><circle cx="76" cy="388.5" r="1.8" fill="#b4dcb0" opacity="0.8"/></g>
<rect x="39" y="298.2" width="165" height="165.0" fill="none" stroke="#667" stroke-width="0.8" opacity="0.7"/>
<path d="M39 380.8H199.4M120.1 463.2V300.8" stroke="#1a1a1a" stroke-width="1.15" fill="none"/>
<path d="M202.0 380.8l-4.6 -2.0v4.0zM120.1 298.2l-2.0 4.6h4.0z" fill="#1a1a1a"/>
<text x="126.5" y="313" font-size="13.5" fill="#1a1a1a" stroke="#1a1a1a" stroke-width="0.28">10</text>
<text x="105.7" y="376.59999999999997" font-size="16" fill="#1a1a1a" stroke="#1a1a1a" stroke-width="0.28">O</text>
<text x="124.4" y="376.7" font-size="13.7" fill="#1a1a1a" stroke="#1a1a1a" stroke-width="0.28">(0,0)</text>
<text x="176.6" y="374.6" font-size="12.7" fill="#1a1a1a" stroke="#1a1a1a" stroke-width="0.25">(<tspan font-family="'Liberation Serif', serif">μ</tspan>m)</text>
<text x="41.3" y="395.5" font-size="13.5" fill="#1a1a1a" stroke="#1a1a1a" stroke-width="0.28">-10</text>
<text x="188.5" y="395.6" font-size="13.5" fill="#1a1a1a" stroke="#1a1a1a" stroke-width="0.28">10</text>
<text x="124" y="460.8" font-size="13.5" fill="#1a1a1a" stroke="#1a1a1a" stroke-width="0.28">-10</text>
<text x="402.4" y="267.9" font-size="19" fill="#141414" stroke="#141414" stroke-width="0.28">defocused system</text>
<path d="M343.1 289.3V274.3H611.5V289.3" stroke="#444" stroke-width="1.1" fill="none"/>
<text x="357.7" y="289.8" font-size="13.9" fill="#141414" stroke="#141414" stroke-width="0.28">degree of shift invariance</text>
<text x="534.3" y="289.8" font-size="13.9" fill="#141414" stroke="#141414" stroke-width="0.28">output field</text>
<text x="319" y="311" font-size="18.5" fill="#111" font-weight="bold">(e)</text>
<g clip-path="url(#hec)"><g filter="url(#blur8)"><rect x="314" y="258.2" width="244.70000000000005" height="244.7" fill="#cdebb4"/><rect x="485" y="268.2" width="80" height="230" fill="#5abfc0"/><rect x="355" y="320.2" width="128" height="116" rx="42" ry="40" fill="#f1f9b9"/><rect x="368" y="332.2" width="106" height="92" rx="36" ry="34" fill="#f9fdcc"/><ellipse cx="498" cy="328.2" rx="22" ry="19" fill="#1e92c0" opacity="1"/><ellipse cx="513" cy="408.2" rx="8" ry="28" fill="#2498c1" opacity="1"/><ellipse cx="346" cy="324.2" rx="16" ry="32" fill="#41b6c4" opacity="1"/><ellipse cx="344" cy="426.2" rx="15" ry="44" fill="#41b6c4" opacity="1"/><ellipse cx="466" cy="314.2" rx="30" ry="15" fill="#69c5be" opacity="1"/><ellipse cx="404" cy="472.2" rx="52" ry="20" fill="#5abfc0" opacity="1"/><ellipse cx="484" cy="472.2" rx="40" ry="14" fill="#41b6c4" opacity="1"/><ellipse cx="414" cy="288.2" rx="75" ry="20" fill="#73c8bd" opacity="1"/></g><circle cx="451" cy="393" r="1.8" fill="#b4d8a8" opacity="0.8"/></g>
<rect x="354" y="298.2" width="164.70000000000005" height="164.7" fill="none" stroke="#556" stroke-width="0.8" opacity="0.7"/>
<path d="M354 380.5H514.1M436.1 462.9V300.8" stroke="#1a1a1a" stroke-width="1.15" fill="none"/>
<path d="M516.7 380.5l-4.6 -2.0v4.0zM436.1 298.2l-2.0 4.6h4.0z" fill="#1a1a1a"/>
<text x="441.6" y="313" font-size="13.5" fill="#1a1a1a" stroke="#1a1a1a" stroke-width="0.28">10</text>
<text x="422.3" y="376.59999999999997" font-size="16" fill="#1a1a1a" stroke="#1a1a1a" stroke-width="0.28">O</text>
<text x="440.6" y="376.7" font-size="13.7" fill="#1a1a1a" stroke="#1a1a1a" stroke-width="0.28">(0,0)</text>
<text x="491.2" y="374.5" font-size="12.7" fill="#1a1a1a" stroke="#1a1a1a" stroke-width="0.25">(<tspan font-family="'Liberation Serif', serif">μ</tspan>m)</text>
<text x="357.7" y="395.5" font-size="13.5" fill="#1a1a1a" stroke="#1a1a1a" stroke-width="0.28">-10</text>
<text x="501.90000000000003" y="396.6" font-size="13.5" fill="#1a1a1a" stroke="#1a1a1a" stroke-width="0.28">10</text>
<text x="440.8" y="460" font-size="13.5" fill="#1a1a1a" stroke="#1a1a1a" stroke-width="0.28">-10</text>
<text x="91.6" y="489.7" font-size="19" fill="#141414" stroke="#141414" stroke-width="0.28">lens-tilted system</text>
<path d="M29 511.2V496.6H297.9V511.2" stroke="#444" stroke-width="1.1" fill="none"/>
<text x="43.4" y="512.9" font-size="13.9" fill="#141414" stroke="#141414" stroke-width="0.28">degree of shift invariance</text>
<text x="223" y="513.4" font-size="13.9" fill="#141414" stroke="#141414" stroke-width="0.28">output field</text>
<text x="6.5" y="533" font-size="18.5" fill="#111" font-weight="bold">(f)</text>
<g clip-path="url(#hfc)"><rect x="38.6" y="518.2" width="165.1" height="164.39999999999998" fill="#2134a2"/><g fill="none" stroke="#132076" filter="url(#blur12)" stroke-linecap="butt" opacity="0.8"><path d="M35.8 512.2Q37.7 600.4 39.5 688.6" stroke-width="3.2"/><path d="M46.6 512.2Q48.1 600.4 50.7 688.6" stroke-width="3.2"/><path d="M63.6 512.2Q65.3 600.4 67.8 688.6" stroke-width="3.2"/><path d="M78.5 512.2Q80.8 600.4 85.0 688.6" stroke-width="3.2"/><path d="M91.5 512.2Q95.2 600.4 100.7 688.6" stroke-width="2.6"/><path d="M133.2 512.2Q143.9 600.4 156.4 688.6" stroke-width="2.6"/><path d="M153.1 512.2Q160.6 600.4 169.8 688.6" stroke-width="3.2"/><path d="M171.8 512.2Q177.2 600.4 182.8 688.6" stroke-width="3.2"/><path d="M187.9 512.2Q193.0 600.4 198.1 688.6" stroke-width="3.2"/><path d="M201.8 512.2Q204.6 600.4 207.4 688.6" stroke-width="3.2"/></g><g fill="none" stroke="#2043a7" filter="url(#blur2)" opacity="0.3"><path d="M41.4 512.2Q43.2 600.4 45.1 688.6" stroke-width="4"/><path d="M55.3 512.2Q56.9 600.4 59.5 688.6" stroke-width="4"/><path d="M71.1 512.2Q72.9 600.4 76.6 688.6" stroke-width="4"/><path d="M85.0 512.2Q87.8 600.4 92.4 688.6" stroke-width="4"/><path d="M142.5 512.2Q152.7 600.4 162.9 688.6" stroke-width="4"/><path d="M162.4 512.2Q169.4 600.4 176.3 688.6" stroke-width="4"/><path d="M180.0 512.2Q184.9 600.4 190.7 688.6" stroke-width="4"/><path d="M195.4 512.2Q199.1 600.4 202.8 688.6" stroke-width="4"/></g><g filter="url(#blur2)"><polygon points="104.0,461.6 101.5,469.7 99.2,477.9 97.1,486.0 95.2,494.1 93.5,502.2 92.0,510.3 90.8,518.4 89.7,526.5 88.8,534.7 88.1,542.8 87.6,550.9 87.4,559.0 87.3,567.1 87.4,575.2 87.7,583.4 88.2,591.5 89.0,599.6 89.9,607.7 91.0,615.8 92.2,623.9 93.6,632.1 95.2,640.2 96.9,648.3 98.8,656.4 100.9,664.5 103.1,672.6 105.5,680.7 108.1,688.9 110.8,697.0 113.7,705.1 116.7,713.2 119.9,721.3 123.3,729.4 126.8,737.6 130.5,745.7 134.4,753.8 134.4,753.8 137.1,745.7 139.6,737.6 141.9,729.4 144.0,721.3 145.9,713.2 147.6,705.1 149.1,697.0 150.4,688.9 151.6,680.7 152.5,672.6 153.3,664.5 153.8,656.4 154.2,648.3 154.4,640.2 154.3,632.1 154.1,623.9 153.7,615.8 153.1,607.7 152.3,599.6 151.3,591.5 150.1,583.4 148.6,575.2 146.9,567.1 145.0,559.0 142.9,550.9 140.5,542.8 137.9,534.7 135.0,526.5 131.9,518.4 128.6,510.3 125.1,502.2 121.3,494.1 117.4,486.0 113.1,477.9 108.7,469.7 104.0,461.6" fill="#204eab"/><polygon points="104.4,464.4 102.5,472.0 100.8,479.7 99.2,487.3 97.8,494.9 96.5,502.5 95.4,510.2 94.4,517.8 93.6,525.4 93.0,533.0 92.5,540.7 92.2,548.3 92.0,555.9 92.0,563.5 92.1,571.2 92.4,578.8 92.8,586.4 93.4,594.1 94.2,601.7 95.1,609.3 96.1,616.9 97.3,624.6 98.7,632.2 100.1,639.8 101.8,647.4 103.6,655.1 105.5,662.7 107.7,670.3 109.9,677.9 112.3,685.6 114.9,693.2 117.6,700.8 120.4,708.4 123.4,716.1 126.6,723.7 129.9,731.3 133.3,739.0 133.3,739.0 135.6,731.3 137.7,723.7 139.6,716.1 141.4,708.4 143.0,700.8 144.4,693.2 145.6,685.6 146.7,677.9 147.6,670.3 148.3,662.7 148.8,655.1 149.1,647.4 149.3,639.8 149.3,632.2 149.2,624.6 148.8,616.9 148.3,609.3 147.6,601.7 146.7,594.1 145.7,586.4 144.4,578.8 143.0,571.2 141.4,563.5 139.7,555.9 137.7,548.3 135.6,540.7 133.3,533.0 130.8,525.4 128.1,517.8 125.3,510.2 122.2,502.5 119.0,494.9 115.6,487.3 112.1,479.7 108.3,472.0 104.4,464.4" fill="#1f6fb5"/><polygon points="104.7,467.1 103.2,474.1 101.9,481.1 100.6,488.1 99.5,495.2 98.5,502.2 97.6,509.2 96.9,516.2 96.2,523.3 95.7,530.3 95.3,537.3 95.0,544.3 94.8,551.4 94.8,558.4 94.9,565.4 95.1,572.4 95.4,579.5 95.8,586.5 96.4,593.5 97.0,600.5 97.9,607.6 98.8,614.6 100.0,621.6 101.2,628.6 102.7,635.6 104.2,642.7 106.0,649.7 107.9,656.7 109.9,663.7 112.1,670.8 114.5,677.8 117.0,684.8 119.6,691.8 122.5,698.9 125.4,705.9 128.6,712.9 131.8,719.9 131.8,719.9 134.0,712.9 135.9,705.9 137.7,698.9 139.4,691.8 140.8,684.8 142.1,677.8 143.2,670.8 144.1,663.7 144.8,656.7 145.4,649.7 145.8,642.7 146.0,635.6 146.1,628.6 145.9,621.6 145.6,614.6 145.1,607.6 144.5,600.5 143.6,593.5 142.7,586.5 141.6,579.5 140.3,572.4 139.0,565.4 137.4,558.4 135.8,551.4 134.0,544.3 132.0,537.3 129.9,530.3 127.7,523.3 125.3,516.2 122.8,509.2 120.1,502.2 117.3,495.2 114.4,488.1 111.3,481.1 108.1,474.1 104.7,467.1" fill="#1e92c0"/><polygon points="105.1,469.7 104.0,476.2 102.9,482.6 102.0,489.0 101.1,495.4 100.3,501.9 99.6,508.3 99.0,514.7 98.5,521.1 98.1,527.5 97.8,534.0 97.6,540.4 97.5,546.8 97.4,553.2 97.5,559.6 97.6,566.1 97.8,572.5 98.2,578.9 98.6,585.3 99.1,591.8 99.7,598.2 100.4,604.6 101.2,611.0 102.2,617.4 103.4,623.9 104.8,630.3 106.3,636.7 107.9,643.1 109.8,649.6 111.8,656.0 113.9,662.4 116.2,668.8 118.7,675.2 121.4,681.7 124.2,688.1 127.1,694.5 130.3,700.9 130.3,700.9 132.3,694.5 134.2,688.1 135.9,681.7 137.4,675.2 138.7,668.8 139.8,662.4 140.8,656.0 141.6,649.6 142.2,643.1 142.6,636.7 142.8,630.3 142.9,623.9 142.8,617.4 142.5,611.0 142.0,604.6 141.3,598.2 140.6,591.8 139.7,585.3 138.7,578.9 137.6,572.5 136.4,566.1 135.1,559.6 133.6,553.2 132.1,546.8 130.4,540.4 128.7,534.0 126.8,527.5 124.8,521.1 122.7,514.7 120.6,508.3 118.2,501.9 115.8,495.4 113.3,489.0 110.7,482.6 107.9,476.2 105.1,469.7" fill="#35aac3"/><polygon points="105.5,472.4 104.6,478.4 103.8,484.4 103.1,490.4 102.4,496.3 101.9,502.3 101.4,508.3 100.9,514.3 100.6,520.3 100.3,526.2 100.1,532.2 99.9,538.2 99.8,544.2 99.8,550.2 99.9,556.2 100.0,562.1 100.2,568.1 100.5,574.1 100.9,580.1 101.3,586.1 101.8,592.0 102.4,598.0 103.0,604.0 103.8,610.0 104.8,616.0 105.9,621.9 107.2,627.9 108.7,633.9 110.3,639.9 112.1,645.9 114.0,651.8 116.1,657.8 118.4,663.8 120.8,669.8 123.4,675.8 126.2,681.8 129.1,687.7 129.1,687.7 131.0,681.8 132.7,675.8 134.3,669.8 135.6,663.8 136.8,657.8 137.8,651.8 138.6,645.9 139.2,639.9 139.7,633.9 139.9,627.9 140.0,621.9 140.0,616.0 139.7,610.0 139.2,604.0 138.6,598.0 137.9,592.0 137.1,586.1 136.2,580.1 135.3,574.1 134.2,568.1 133.0,562.1 131.8,556.2 130.5,550.2 129.1,544.2 127.6,538.2 126.0,532.2 124.3,526.2 122.6,520.3 120.8,514.3 118.8,508.3 116.8,502.3 114.7,496.3 112.5,490.4 110.3,484.4 107.9,478.4 105.5,472.4" fill="#55bdc1"/><polygon points="106.3,478.8 105.6,484.3 105.0,489.8 104.4,495.4 103.9,500.9 103.5,506.4 103.1,511.9 102.8,517.4 102.5,522.9 102.3,528.5 102.1,534.0 102.0,539.5 102.0,545.0 102.0,550.5 102.1,556.1 102.3,561.6 102.4,567.1 102.7,572.6 103.0,578.1 103.4,583.6 103.8,589.2 104.3,594.7 104.9,600.2 105.5,605.7 106.3,611.2 107.3,616.7 108.4,622.3 109.7,627.8 111.1,633.3 112.7,638.8 114.4,644.3 116.3,649.8 118.4,655.4 120.6,660.9 123.0,666.4 125.5,671.9 128.2,677.4 128.2,677.4 129.9,671.9 131.5,666.4 132.8,660.9 134.0,655.4 135.1,649.8 135.9,644.3 136.6,638.8 137.1,633.3 137.4,627.8 137.6,622.3 137.6,616.7 137.4,611.2 137.1,605.7 136.6,600.2 136.0,594.7 135.3,589.2 134.5,583.6 133.6,578.1 132.7,572.6 131.8,567.1 130.7,561.6 129.6,556.1 128.4,550.5 127.1,545.0 125.8,539.5 124.4,534.0 122.9,528.5 121.3,522.9 119.7,517.4 118.0,511.9 116.2,506.4 114.4,500.9 112.5,495.4 110.5,489.8 108.4,484.3 106.3,478.8" fill="#7dccbb"/><polygon points="107.2,485.7 106.6,490.8 106.1,495.8 105.6,500.9 105.2,505.9 104.8,511.0 104.5,516.0 104.2,521.1 104.0,526.1 103.8,531.2 103.7,536.2 103.6,541.3 103.6,546.3 103.6,551.4 103.6,556.4 103.8,561.5 103.9,566.5 104.2,571.6 104.4,576.6 104.7,581.7 105.1,586.7 105.5,591.8 106.0,596.8 106.5,601.9 107.2,606.9 108.0,612.0 108.9,617.0 110.1,622.1 111.4,627.1 112.8,632.2 114.4,637.2 116.2,642.3 118.1,647.3 120.2,652.4 122.4,657.4 124.8,662.5 127.4,667.5 127.4,667.5 129.0,662.5 130.4,657.4 131.7,652.4 132.8,647.3 133.8,642.3 134.6,637.2 135.2,632.2 135.6,627.1 135.9,622.1 136.0,617.0 135.9,612.0 135.7,606.9 135.3,601.9 134.7,596.8 134.1,591.8 133.4,586.7 132.7,581.7 131.9,576.6 131.1,571.6 130.1,566.5 129.2,561.5 128.1,556.4 127.0,551.4 125.9,546.3 124.7,541.3 123.4,536.2 122.0,531.2 120.6,526.1 119.2,521.1 117.6,516.0 116.1,511.0 114.4,505.9 112.7,500.9 110.9,495.8 109.1,490.8 107.2,485.7" fill="#aadeb7"/><polygon points="108.1,492.7 107.6,497.3 107.2,502.0 106.8,506.6 106.4,511.3 106.1,515.9 105.8,520.6 105.6,525.2 105.4,529.9 105.3,534.5 105.2,539.2 105.1,543.8 105.1,548.5 105.1,553.1 105.2,557.8 105.3,562.4 105.5,567.1 105.7,571.7 105.9,576.4 106.2,581.0 106.5,585.7 106.9,590.3 107.3,595.0 107.8,599.6 108.3,604.3 109.0,608.9 109.8,613.6 110.8,618.2 112.0,622.9 113.3,627.6 114.7,632.2 116.3,636.9 118.1,641.5 120.0,646.2 122.1,650.8 124.3,655.5 126.7,660.1 126.7,660.1 128.2,655.5 129.5,650.8 130.7,646.2 131.7,641.5 132.6,636.9 133.3,632.2 133.8,627.6 134.2,622.9 134.4,618.2 134.4,613.6 134.3,608.9 134.0,604.3 133.6,599.6 133.0,595.0 132.4,590.3 131.8,585.7 131.1,581.0 130.4,576.4 129.6,571.7 128.7,567.1 127.8,562.4 126.9,557.8 125.9,553.1 124.8,548.5 123.7,543.8 122.6,539.2 121.4,534.5 120.1,529.9 118.8,525.2 117.4,520.6 116.0,515.9 114.5,511.3 113.0,506.6 111.4,502.0 109.8,497.3 108.1,492.7" fill="#d0edb3"/><polygon points="109.2,501.0 108.8,505.3 108.4,509.5 108.1,513.7 107.8,517.9 107.5,522.1 107.3,526.3 107.1,530.5 107.0,534.7 106.9,539.0 106.8,543.2 106.8,547.4 106.8,551.6 106.8,555.8 106.9,560.0 107.0,564.2 107.1,568.4 107.3,572.7 107.5,576.9 107.8,581.1 108.1,585.3 108.4,589.5 108.8,593.7 109.2,597.9 109.6,602.1 110.2,606.4 110.9,610.6 111.7,614.8 112.7,619.0 113.9,623.2 115.2,627.4 116.6,631.6 118.2,635.8 119.9,640.1 121.8,644.3 123.8,648.5 126.0,652.7 126.0,652.7 127.3,648.5 128.5,644.3 129.6,640.1 130.5,635.8 131.3,631.6 131.9,627.4 132.3,623.2 132.6,619.0 132.7,614.8 132.7,610.6 132.6,606.4 132.2,602.1 131.8,597.9 131.3,593.7 130.7,589.5 130.2,585.3 129.5,581.1 128.9,576.9 128.1,572.7 127.4,568.4 126.6,564.2 125.7,560.0 124.8,555.8 123.9,551.6 122.9,547.4 121.9,543.2 120.8,539.0 119.7,534.7 118.5,530.5 117.3,526.3 116.1,522.1 114.8,517.9 113.5,513.7 112.1,509.5 110.6,505.3 109.2,501.0" fill="#e8f6b1"/><polygon points="111.2,517.3 110.9,520.9 110.6,524.4 110.3,528.0 110.0,531.6 109.8,535.2 109.6,538.8 109.5,542.3 109.3,545.9 109.2,549.5 109.2,553.1 109.2,556.7 109.2,560.2 109.2,563.8 109.3,567.4 109.4,571.0 109.5,574.6 109.7,578.2 109.9,581.7 110.1,585.3 110.3,588.9 110.6,592.5 110.9,596.1 111.3,599.6 111.7,603.2 112.2,606.8 112.8,610.4 113.6,614.0 114.4,617.5 115.4,621.1 116.5,624.7 117.7,628.3 119.0,631.9 120.4,635.5 121.9,639.0 123.6,642.6 125.4,646.2 125.4,646.2 126.4,642.6 127.4,639.0 128.2,635.5 128.9,631.9 129.5,628.3 130.0,624.7 130.4,621.1 130.6,617.5 130.7,614.0 130.7,610.4 130.6,606.8 130.4,603.2 130.0,599.6 129.6,596.1 129.2,592.5 128.7,588.9 128.2,585.3 127.6,581.7 127.0,578.2 126.4,574.6 125.7,571.0 125.0,567.4 124.3,563.8 123.5,560.2 122.7,556.7 121.8,553.1 120.9,549.5 120.0,545.9 119.0,542.3 118.0,538.8 117.0,535.2 115.9,531.6 114.8,528.0 113.6,524.4 112.4,520.9 111.2,517.3" fill="#f5fbc3"/><polygon points="114.3,543.2 114.0,545.9 113.7,548.6 113.4,551.3 113.1,554.0 112.9,556.6 112.6,559.3 112.5,562.0 112.3,564.7 112.2,567.4 112.1,570.0 112.1,572.7 112.1,575.4 112.1,578.1 112.1,580.8 112.2,583.4 112.3,586.1 112.4,588.8 112.6,591.5 112.8,594.2 113.0,596.8 113.2,599.5 113.5,602.2 113.9,604.9 114.3,607.6 114.8,610.2 115.4,612.9 116.0,615.6 116.7,618.3 117.4,620.9 118.3,623.6 119.2,626.3 120.2,629.0 121.2,631.7 122.3,634.3 123.5,637.0 124.7,639.7 124.7,639.7 125.5,637.0 126.1,634.3 126.7,631.7 127.2,629.0 127.6,626.3 128.0,623.6 128.3,620.9 128.5,618.3 128.7,615.6 128.7,612.9 128.8,610.2 128.7,607.6 128.5,604.9 128.3,602.2 128.1,599.5 127.7,596.8 127.4,594.2 127.0,591.5 126.6,588.8 126.2,586.1 125.7,583.4 125.1,580.8 124.6,578.1 124.0,575.4 123.4,572.7 122.7,570.0 122.1,567.4 121.3,564.7 120.6,562.0 119.8,559.3 119.0,556.6 118.1,554.0 117.2,551.3 116.3,548.6 115.3,545.9 114.3,543.2" fill="#ffffd9"/></g></g>
<path d="M38.6 600.1H199.1M119.6 682.6V520.8000000000001" stroke="#0a0a0a" stroke-width="1.15" fill="none"/>
<path d="M201.7 600.1l-4.6 -2.0v4.0zM119.6 518.2l-2.0 4.6h4.0z" fill="#0a0a0a"/>
<text x="128.3" y="533" font-size="13.5" fill="#f2f2f2" stroke="#f2f2f2" stroke-width="0.28">10</text>
<text x="105.7" y="596.6" font-size="16" fill="#1a1a1a" stroke="#1a1a1a" stroke-width="0.28">O</text>
<text x="121.7" y="596.7" font-size="13.7" fill="#1a1a1a" stroke="#1a1a1a" stroke-width="0.28">(0,0</text>
<text x="173.3" y="591.6" font-size="12.7" fill="#f2f2f2" stroke="#f2f2f2" stroke-width="0.25">(<tspan font-family="'Liberation Serif', serif">μ</tspan>m)</text>
<text x="41.8" y="615.8" font-size="13.5" fill="#f2f2f2" stroke="#f2f2f2" stroke-width="0.28">-10</text>
<text x="187.29999999999998" y="616" font-size="13.5" fill="#f2f2f2" stroke="#f2f2f2" stroke-width="0.28">10</text>
<text x="124" y="678.9" font-size="13.5" fill="#f2f2f2" stroke="#f2f2f2" stroke-width="0.28">-10</text>
<text x="399.8" y="487.9" font-size="19" fill="#141414" stroke="#141414" stroke-width="0.28">scattered system</text>
<path d="M343 510.3V495.8H611.7V510.3" stroke="#444" stroke-width="1.1" fill="none"/>
<text x="359" y="511.6" font-size="13.9" fill="#141414" stroke="#141414" stroke-width="0.28">degree of shift invariance</text>
<text x="537.4" y="511.6" font-size="13.9" fill="#141414" stroke="#141414" stroke-width="0.28">output field</text>
<text x="319" y="532.3" font-size="18.5" fill="#111" font-weight="bold">(g)</text>
<g clip-path="url(#hgc)"><rect x="354.5" y="517.7" width="165.20000000000005" height="164.39999999999998" fill="url(#hg1)"/><ellipse cx="376.5" cy="587.7" rx="16" ry="36" fill="url(#hg2)"/><ellipse cx="482.5" cy="579.7" rx="13" ry="34" fill="url(#hg2)"/><ellipse cx="414.5" cy="529.7" rx="40" ry="12" fill="url(#hg2)" opacity="0.6"/><ellipse cx="424.5" cy="662.7" rx="50" ry="14" fill="url(#hg2)" opacity="0.5"/></g>
<path d="M354.5 600.1H515.7M437.6 682.1V520.3000000000001" stroke="#f2f2f2" stroke-width="1.15" fill="none"/>
<path d="M518.3000000000001 600.1l-4.6 -2.0v4.0zM437.6 517.7l-2.0 4.6h4.0z" fill="#f2f2f2"/>
<text x="441.6" y="532" font-size="13.5" fill="#f2f2f2" stroke="#f2f2f2" stroke-width="0.28">10</text>
<text x="422.3" y="594.8" font-size="16" fill="#15233a" stroke="#15233a" stroke-width="0.28">O</text>
<text x="441.3" y="594.7" font-size="13.7" fill="#15233a" stroke="#15233a" stroke-width="0.28">(0,0)</text>
<text x="492.2" y="594.5" font-size="12.7" fill="#f2f2f2" stroke="#f2f2f2" stroke-width="0.25">(<tspan font-family="'Liberation Serif', serif">μ</tspan>m)</text>
<text x="360.8" y="616.2" font-size="13.5" fill="#f2f2f2" stroke="#f2f2f2" stroke-width="0.28">-10</text>
<text x="502.3" y="616" font-size="13.5" fill="#f2f2f2" stroke="#f2f2f2" stroke-width="0.28">10</text>
<text x="440.8" y="678.9" font-size="13.5" fill="#f2f2f2" stroke="#f2f2f2" stroke-width="0.28">-10</text>
<rect x="215.2" y="298.3" width="79.80000000000001" height="79.30000000000001" fill="#0b1f60"/>
<circle cx="241.6" cy="325.2" r="8" fill="url(#spD)"/>
<circle cx="264.3" cy="347.9" r="8" fill="url(#spD)"/>
<text x="216.6" y="368" font-size="13.5" fill="#f4f4f4" stroke="#f4f4f4" stroke-width="0.3">5 <tspan font-family="'Liberation Serif', serif">μ</tspan>m</text>
<rect x="220.5" y="371.6" width="20.3" height="3.2" fill="#f4f4f4"/>
<g clip-path="url(#pdc)"><g filter="url(#soft)"><rect x="215.3" y="382.6" width="79.69999999999999" height="80.0" fill="#c8a0c8"/><rect x="213.3" y="380.6" width="83.69999999999999" height="84.0" filter="url(#nzD)"/>
<g clip-path="url(#pdh0)"><g mask="url(#pdk0)"><rect x="207.6" y="375.5" width="68" height="68" fill="url(#pdr0)"/></g></g>
<g clip-path="url(#pdh1)"><g mask="url(#pdk1)"><rect x="229.7" y="397.7" width="68" height="68" fill="url(#pdr1)"/></g></g>
<rect x="213.3" y="380.6" width="83.69999999999999" height="84.0" filter="url(#nzD)" opacity="0.22"/>
</g></g>
<rect x="215.3" y="382.6" width="79.69999999999999" height="80.0" fill="none" stroke="#555" stroke-width="0.7" opacity="0.6"/>
<rect x="530.2" y="298.2" width="79.59999999999991" height="79.30000000000001" fill="#141c76"/>
<ellipse cx="572" cy="338" rx="38" ry="36" fill="url(#eglow)"/><rect x="530.2" y="298.2" width="79.6" height="79.3" fill="url(#estripe)" mask="url(#emask)"/>
<g clip-path="url(#pec)"><g filter="url(#soft)"><rect x="530.2" y="382.6" width="79.5" height="79.39999999999998" fill="#c8a0c8"/><rect x="528.2" y="380.6" width="83.5" height="83.39999999999998" filter="url(#nzE)"/>
<g clip-path="url(#peh0)"><g mask="url(#pek0)"><rect x="509.20000000000005" y="363.7" width="100" height="100" fill="url(#per0)"/></g></g>
<g clip-path="url(#peh1)"><g mask="url(#pek1)"><rect x="533.3" y="386.2" width="100" height="100" fill="url(#per1)"/></g></g>
<rect x="528.2" y="380.6" width="83.5" height="83.39999999999998" filter="url(#nzE)" opacity="0.22"/>
</g></g>
<rect x="530.2" y="382.6" width="79.5" height="79.39999999999998" fill="none" stroke="#555" stroke-width="0.7" opacity="0.6"/>
<rect x="219.3" y="519.1" width="79.89999999999998" height="78.89999999999998" fill="#0b1f60"/>
<circle cx="248.8" cy="548.5" r="10" fill="url(#spG)" opacity="0.35"/><ellipse cx="248.8" cy="548.5" rx="8.5" ry="2.5" fill="url(#spF)"/><ellipse cx="248.8" cy="548.5" rx="1.4" ry="9" fill="url(#spF)" opacity="0.3"/>
<circle cx="268.7" cy="570.2" r="10" fill="url(#spG)" opacity="0.35"/><ellipse cx="268.7" cy="570.2" rx="8.5" ry="2.5" fill="url(#spF)"/><ellipse cx="268.7" cy="570.2" rx="1.4" ry="9" fill="url(#spF)" opacity="0.3"/>
<g clip-path="url(#pfc)"><g filter="url(#soft)"><rect x="219.2" y="603.3" width="80.0" height="80.10000000000002" fill="#c8a0c8"/><rect x="217.2" y="601.3" width="84.0" height="84.10000000000002" filter="url(#nzF)"/><g mask="url(#pfk)"><polygon points="303.2,644.9 302.5,643.5 301.8,642.3 301.0,641.0 300.1,639.8 299.1,638.5 297.9,637.3 297.0,636.3 295.9,635.3 294.7,634.3 293.5,633.3 292.2,632.3 290.9,631.3 289.7,630.4 288.4,629.3 287.5,628.3 286.4,627.1 285.6,625.8 284.9,624.5 284.2,623.3 283.5,622.0 282.8,620.8 282.0,619.5 281.1,618.3 280.2,617.1 279.2,615.9 278.2,614.9 277.2,613.9 276.0,612.8 274.8,611.8 273.4,610.8 272.2,610.0 270.9,609.2 269.7,608.5 268.4,607.8 266.9,607.1 265.6,606.5 264.2,606.0 262.8,605.5 261.4,605.1 259.9,604.7 258.4,604.4 256.9,604.1 255.4,603.8 253.9,603.6 252.4,603.5 250.9,603.4 249.4,603.3 247.9,603.3 246.4,603.3 244.9,603.4 243.4,603.6 241.9,603.8 240.4,604.0 239.0,604.3 237.4,604.7 236.0,605.0 234.4,605.5 232.9,606.0 231.6,606.5 230.2,607.2 228.8,607.8 227.4,608.5 226.2,609.2 224.9,610.0 223.7,610.9 222.4,611.8 221.2,612.8 220.1,613.8 219.1,614.8 217.9,616.0 216.9,617.2 215.9,618.5" fill="#ffaca8"/><polygon points="215.2,646.9 216.1,648.3 217.1,649.5 218.1,650.8 219.2,652.0 220.2,652.9 221.4,654.0 222.6,655.0 223.9,656.0 225.2,657.0 226.4,658.0 227.7,659.0 228.8,660.0 229.9,661.3 230.8,662.5 231.5,663.8 232.2,665.0 232.9,666.3 233.6,667.5 234.4,668.8 235.2,670.0 236.2,671.3 237.2,672.5 238.2,673.6 239.2,674.6 240.4,675.8 241.7,676.8 242.9,677.8 244.2,678.6 245.4,679.4 246.7,680.1 247.9,680.8 249.4,681.5 250.9,682.2 252.4,682.8 253.9,683.3 255.4,683.7 256.9,684.1 258.4,684.5 259.9,684.8 261.4,685.0 262.9,685.2 264.4,685.4 265.9,685.5 267.4,685.5 268.9,685.5 270.4,685.4 271.9,685.3 273.4,685.2 274.9,685.0 276.4,684.7 277.9,684.4 279.4,684.1 280.9,683.7 282.4,683.2 283.9,682.7 285.4,682.1 286.9,681.4 288.3,680.8 289.7,680.0 290.9,679.3 292.2,678.5 293.4,677.6 294.7,676.6 295.9,675.6 297.1,674.5 298.1,673.5 299.2,672.3 300.2,671.0 301.1,669.8 301.9,668.5 302.6,667.3" fill="#ffaca8"/><polygon points="303.2,646.8 302.6,645.3 301.8,643.8 301.1,642.5 300.3,641.3 299.4,640.1 298.6,639.0 297.5,637.8 296.4,636.8 295.2,635.6 294.0,634.5 292.7,633.5 291.4,632.6 290.2,631.6 288.9,630.7 287.7,629.6 286.7,628.6 285.7,627.3 284.9,626.0 284.2,624.8 283.5,623.5 282.8,622.3 282.1,621.0 281.3,619.8 280.4,618.6 279.5,617.3 278.4,616.1 277.4,615.1 276.4,614.0 275.2,613.0 274.0,612.0 272.7,611.1 271.5,610.3 270.3,609.5 268.9,608.8 267.7,608.2 266.3,607.5 264.9,607.0 263.4,606.4 261.9,605.9 260.4,605.5 258.9,605.1 257.4,604.8 255.9,604.5 254.4,604.3 252.9,604.1 251.4,604.0 249.9,603.9 248.4,603.9 246.9,603.9 245.4,604.0 243.9,604.1 242.4,604.3 240.9,604.5 239.4,604.8 237.9,605.2 236.5,605.5 234.9,606.0 233.4,606.5 232.1,607.0 230.7,607.6 229.3,608.3 227.9,609.0 226.7,609.7 225.4,610.5 224.2,611.3 222.9,612.2 221.7,613.3 220.6,614.3 219.5,615.3 218.4,616.5 217.4,617.7 216.5,619.0 215.6,620.3" fill="#cbe219"/><polygon points="215.2,645.6 215.9,646.8 216.8,648.0 217.7,649.2 218.6,650.3 219.7,651.5 220.7,652.5 221.9,653.5 223.1,654.5 224.2,655.4 225.3,656.3 226.7,657.3 227.9,658.3 229.1,659.3 230.2,660.4 231.1,661.5 231.8,662.8 232.5,664.0 233.2,665.3 233.9,666.5 234.6,667.8 235.4,669.0 236.3,670.3 237.2,671.4 238.1,672.5 239.2,673.7 240.4,674.8 241.4,675.7 242.7,676.7 243.9,677.7 245.2,678.5 246.4,679.3 247.7,680.0 248.9,680.6 250.4,681.3 251.9,681.9 253.4,682.5 254.9,683.0 256.4,683.4 257.9,683.8 259.3,684.0 260.7,684.3 262.2,684.5 263.7,684.7 265.2,684.8 266.7,684.9 268.2,684.9 269.7,684.9 271.1,684.8 272.7,684.7 274.2,684.5 275.7,684.3 277.2,684.0 278.7,683.7 280.1,683.3 281.4,682.9 282.9,682.4 284.4,681.8 285.9,681.2 287.3,680.5 288.7,679.8 289.9,679.1 291.2,678.4 292.4,677.5 293.7,676.6 294.9,675.6 296.1,674.5 297.1,673.5 298.2,672.4 299.2,671.2 300.2,669.8 301.0,668.5 301.8,667.3 302.4,666.0 303.1,664.5" fill="#cbe219"/><polygon points="303.2,649.1 302.7,647.5 302.1,646.0 301.4,644.7 300.7,643.3 299.9,642.1 299.1,640.8 298.2,639.7 297.2,638.5 296.2,637.5 295.0,636.3 293.8,635.3 292.7,634.4 291.4,633.4 290.3,632.5 288.9,631.6 287.7,630.6 286.5,629.5 285.4,628.3 284.6,627.0 283.9,625.8 283.2,624.5 282.5,623.3 281.9,622.0 281.1,620.8 280.3,619.5 279.4,618.3 278.4,617.2 277.4,616.1 276.5,615.0 275.4,614.0 274.2,613.0 272.9,612.1 271.7,611.2 270.4,610.4 269.2,609.7 267.9,609.0 266.5,608.3 264.9,607.6 263.4,607.1 261.9,606.6 260.4,606.1 258.9,605.7 257.4,605.4 255.9,605.1 254.4,604.9 252.9,604.7 251.4,604.6 249.9,604.5 248.4,604.5 246.9,604.5 245.4,604.6 243.9,604.7 242.4,604.9 240.9,605.2 239.4,605.4 237.9,605.8 236.4,606.2 234.9,606.7 233.4,607.2 231.9,607.8 230.4,608.4 229.2,609.0 227.8,609.8 226.5,610.5 225.2,611.4 224.0,612.3 222.7,613.3 221.5,614.3 220.5,615.3 219.4,616.4 218.5,617.5 217.5,618.8 216.7,620.0 215.9,621.2 215.2,622.5" fill="#2e962a"/><polygon points="215.2,644.0 215.9,645.3 216.6,646.5 217.4,647.7 218.4,649.0 219.4,650.2 220.4,651.3 221.5,652.3 222.6,653.3 223.7,654.2 224.9,655.2 226.1,656.0 227.4,657.0 228.7,658.0 229.9,659.0 230.9,660.1 231.8,661.3 232.6,662.5 233.3,663.8 233.9,665.0 234.6,666.3 235.3,667.5 236.1,668.8 236.9,670.0 237.9,671.3 238.9,672.4 239.9,673.5 241.1,674.5 242.2,675.5 243.4,676.5 244.7,677.4 245.9,678.2 247.2,678.9 248.4,679.6 249.8,680.3 251.2,680.9 252.7,681.5 254.2,682.0 255.7,682.5 257.2,682.9 258.7,683.3 260.2,683.6 261.7,683.8 263.2,684.0 264.7,684.2 266.2,684.3 267.7,684.3 269.2,684.3 270.7,684.2 272.2,684.1 273.7,683.9 275.2,683.7 276.7,683.5 278.2,683.1 279.6,682.8 280.9,682.4 282.4,681.9 283.9,681.4 285.3,680.8 286.7,680.2 287.9,679.5 289.2,678.8 290.4,678.1 291.6,677.3 292.9,676.3 294.2,675.3 295.4,674.3 296.4,673.3 297.4,672.2 298.4,671.0 299.3,669.8 300.2,668.5 300.9,667.3 301.6,666.0 302.2,664.7 302.8,663.3 303.2,661.9" fill="#2e962a"/><polygon points="303.2,652.9 303.0,651.3 302.6,649.8 302.2,648.4 301.7,647.0 301.1,645.5 300.5,644.3 299.7,643.0 298.9,641.9 298.0,640.5 297.0,639.3 295.9,638.2 294.9,637.2 293.7,636.1 292.5,635.0 291.2,634.1 289.9,633.1 288.8,632.3 287.4,631.3 286.2,630.3 285.3,629.3 284.3,628.0 283.5,626.8 282.9,625.5 282.2,624.3 281.6,623.0 280.9,621.8 280.1,620.5 279.2,619.3 278.3,618.0 277.2,616.8 276.2,615.8 274.9,614.6 273.8,613.5 272.5,612.5 271.2,611.7 269.9,610.9 268.7,610.1 267.4,609.5 266.1,608.8 264.7,608.2 263.2,607.6 261.7,607.1 260.2,606.7 258.8,606.3 257.2,606.0 255.7,605.7 254.2,605.5 252.8,605.3 251.2,605.2 249.7,605.1 248.2,605.1 246.7,605.1 245.2,605.2 243.7,605.4 242.2,605.6 240.8,605.8 239.2,606.1 237.7,606.5 236.2,606.9 234.7,607.4 233.2,607.9 231.7,608.5 230.2,609.2 228.9,609.9 227.7,610.6 226.4,611.4 225.2,612.2 224.1,613.0 222.9,614.0 221.7,615.0 220.7,616.0 219.7,617.2 218.8,618.3 217.8,619.5 217.0,620.8 216.3,622.0 215.6,623.3" fill="#3045de"/><polygon points="215.2,642.3 215.9,643.8 216.6,645.0 217.3,646.3 218.2,647.5 219.1,648.8 220.2,650.0 221.2,651.0 222.2,652.0 223.4,653.0 224.4,653.9 225.6,654.8 226.9,655.8 228.2,656.7 229.3,657.5 230.4,658.5 231.4,659.5 232.4,660.8 233.2,662.0 233.9,663.3 234.5,664.5 235.2,665.8 235.9,667.0 236.6,668.3 237.4,669.5 238.4,670.8 239.4,671.9 240.4,673.0 241.5,674.0 242.7,675.0 243.9,676.0 245.2,676.9 246.4,677.8 247.7,678.5 248.9,679.2 250.2,679.8 251.7,680.5 253.2,681.0 254.6,681.5 255.9,682.0 257.4,682.4 258.9,682.7 260.4,683.0 261.9,683.3 263.4,683.5 264.9,683.6 266.4,683.7 267.9,683.7 269.4,683.7 270.9,683.6 272.4,683.5 273.9,683.3 275.4,683.1 276.9,682.8 278.4,682.5 279.9,682.1 281.4,681.6 282.9,681.1 284.3,680.5 285.7,679.9 287.0,679.3 288.4,678.5 289.7,677.8 290.9,677.0 292.2,676.1 293.4,675.1 294.6,674.0 295.7,673.0 296.7,672.0 297.7,670.8 298.7,669.5 299.5,668.3 300.3,667.0 300.9,665.8 301.6,664.3 302.1,662.8 302.6,661.3 302.9,659.8 303.2,658.3" fill="#3045de"/><polygon points="215.2,640.2 215.7,641.5 216.3,643.0 217.0,644.3 217.7,645.5 218.4,646.7 219.4,648.0 220.4,649.3 221.4,650.3 222.4,651.3 223.5,652.3 224.7,653.3 225.9,654.2 227.2,655.2 228.4,656.0 229.7,656.9 230.9,657.9 232.1,659.0 232.9,660.2 233.7,661.4 234.4,662.8 235.2,664.3 235.8,665.5 236.6,666.8 237.3,668.0 238.2,669.3 239.2,670.5 240.2,671.7 241.2,672.8 242.3,673.8 243.4,674.8 244.7,675.8 245.9,676.7 247.2,677.5 248.4,678.2 249.7,678.8 251.2,679.5 252.7,680.2 254.2,680.8 255.7,681.3 257.2,681.7 258.7,682.0 260.2,682.4 261.7,682.6 263.2,682.8 264.7,683.0 266.2,683.1 267.7,683.1 269.2,683.1 270.7,683.0 272.2,682.9 273.7,682.7 275.2,682.5 276.7,682.2 278.2,681.9 279.7,681.5 281.1,681.0 282.6,680.5 283.9,680.0 285.4,679.4 286.9,678.6 288.2,677.9 289.4,677.2 290.7,676.4 291.9,675.4 293.1,674.5 294.2,673.5 295.2,672.5 296.2,671.5 297.2,670.3 298.2,669.0 298.9,667.9 299.7,666.6 300.4,665.3 300.9,663.9 301.4,662.6 301.9,661.0 302.2,659.5 302.4,658.1 302.6,656.5 302.6,655.0 302.5,653.5 302.3,652.0 302.0,650.5 301.6,649.0 301.2,647.7 300.6,646.3 299.9,644.9 299.2,643.5 298.4,642.3 297.5,641.0 296.5,639.8 295.4,638.7 294.4,637.7 293.2,636.5 292.0,635.5 290.7,634.5 289.4,633.6 288.3,632.8 286.9,631.8 285.7,630.8 284.7,629.8 283.7,628.6 282.9,627.3 282.3,626.0 281.5,624.5 280.9,623.3 280.2,622.0 279.4,620.8 278.5,619.5 277.6,618.3 276.5,617.0 275.4,616.0 274.2,614.8 273.0,613.8 271.7,612.8 270.4,611.9 269.2,611.2 267.9,610.4 266.7,609.8 265.2,609.1 263.9,608.5 262.5,608.0 261.2,607.6 259.7,607.2 258.2,606.8 256.7,606.5 255.2,606.2 253.7,606.0 252.2,605.9 250.7,605.8 249.2,605.7 247.7,605.7 246.2,605.8 244.7,605.9 243.2,606.0 241.7,606.3 240.2,606.5 238.7,606.9 237.2,607.3 235.7,607.7 234.2,608.2 232.7,608.8 231.2,609.5 229.7,610.2 228.4,610.9 227.2,611.7 225.9,612.5 224.7,613.4 223.6,614.3 222.4,615.3 221.4,616.3 220.4,617.3 219.4,618.5 218.5,619.8 217.7,621.0 217.0,622.3 216.3,623.5 215.7,625.0 215.2,626.4" fill="#b033f0"/><polygon points="215.2,637.2 215.5,638.5 215.9,640.0 216.4,641.5 217.1,643.0 217.8,644.3 218.5,645.5 219.4,646.8 220.3,648.0 221.4,649.3 222.4,650.4 223.7,651.5 224.9,652.5 226.1,653.5 227.4,654.5 228.7,655.4 229.9,656.3 231.2,657.2 232.4,658.3 233.4,659.5 234.3,660.8 234.9,662.0 235.7,663.5 236.4,665.0 237.1,666.3 237.9,667.5 238.7,668.8 239.7,670.0 240.7,671.3 241.7,672.3 242.7,673.3 243.9,674.3 245.2,675.3 246.4,676.2 247.7,677.0 248.9,677.7 250.2,678.4 251.6,679.0 252.9,679.6 254.4,680.2 255.9,680.7 257.4,681.1 258.9,681.5 260.4,681.8 261.9,682.0 263.4,682.2 264.9,682.4 266.4,682.5 267.9,682.5 269.4,682.5 270.9,682.4 272.4,682.3 273.9,682.1 275.4,681.9 276.9,681.6 278.4,681.2 279.9,680.8 281.4,680.3 282.8,679.8 284.2,679.2 285.7,678.5 286.9,677.9 288.2,677.2 289.4,676.4 290.7,675.6 291.9,674.6 293.2,673.5 294.3,672.5 295.4,671.3 296.4,670.1 297.4,668.8 298.3,667.5 299.0,666.3 299.7,665.0 300.3,663.5 300.8,662.0 301.3,660.5 301.6,659.0 301.8,657.5 301.8,656.0 301.8,654.5 301.7,653.0 301.5,651.5 301.2,650.0 300.7,648.5 300.2,647.2 299.6,645.8 299.0,644.5 298.2,643.3 297.4,642.0 296.4,640.8 295.4,639.7 294.4,638.6 293.3,637.5 292.2,636.5 291.0,635.5 289.7,634.6 288.5,633.8 287.2,632.9 285.9,632.0 284.8,631.0 283.8,630.0 282.9,628.9 282.2,627.6 281.5,626.3 280.8,624.8 280.2,623.5 279.5,622.3 278.7,621.0 277.9,619.8 276.9,618.6 276.0,617.5 274.9,616.4 273.8,615.3 272.6,614.3 271.4,613.4 270.2,612.6 269.0,611.8 267.7,611.0 266.4,610.4 264.9,609.7 263.4,609.1 262.1,608.5 260.7,608.1 259.2,607.7 257.7,607.3 256.2,607.0 254.7,606.7 253.2,606.6 251.7,606.4 250.2,606.3 248.7,606.3 247.2,606.3 245.7,606.4 244.2,606.5 242.7,606.7 241.2,607.0 239.7,607.3 238.2,607.6 236.7,608.0 235.2,608.5 233.8,609.0 232.4,609.6 230.9,610.3 229.7,610.9 228.4,611.6 227.2,612.4 225.9,613.3 224.7,614.2 223.4,615.3 222.4,616.3 221.2,617.5 220.2,618.7 219.2,620.0 218.4,621.3 217.6,622.5 217.0,623.8 216.4,625.1 215.9,626.5 215.5,628.0 215.2,629.4" fill="#ffaca8"/><polygon points="271.0,681.8 272.4,681.7 273.9,681.5 275.4,681.2 276.9,680.9 278.4,680.6 279.9,680.1 281.4,679.6 282.9,679.1 284.4,678.4 285.8,677.8 287.2,677.0 288.4,676.3 289.7,675.5 290.9,674.5 292.2,673.5 293.3,672.5 294.3,671.5 295.4,670.3 296.4,669.0 297.3,667.8 298.1,666.5 298.7,665.3 299.4,663.8 299.9,662.4 300.4,661.0 300.7,659.6 300.9,658.0 301.1,656.5 301.1,655.0 301.0,653.5 300.8,652.0 300.5,650.5 300.1,649.0 299.6,647.5 298.9,646.1 298.3,644.8 297.5,643.5 296.7,642.3 295.7,641.0 294.7,639.9 293.7,638.8 292.6,637.8 291.5,636.8 290.2,635.8 288.9,634.9 287.7,634.0 286.4,633.2 285.2,632.3 284.0,631.3 282.9,630.2 282.1,629.0 281.4,627.8 280.7,626.3 280.0,624.8 279.4,623.5 278.7,622.3 277.9,621.0 277.0,619.8 276.0,618.5 274.9,617.4 273.9,616.4 272.7,615.3 271.5,614.3 270.2,613.3 269.0,612.5 267.8,611.8 266.4,611.1 264.9,610.4 263.6,609.8 262.2,609.2 260.7,608.7 259.2,608.3 257.7,607.9 256.2,607.6 254.7,607.4 253.2,607.2 251.7,607.0 250.2,606.9 248.7,606.9 247.2,606.9 245.7,607.0 244.2,607.1 242.7,607.3 241.2,607.6 239.7,607.9 238.2,608.2 236.7,608.7 235.2,609.2 233.7,609.7 232.4,610.3 230.9,611.0 229.7,611.7 228.4,612.4 227.2,613.2 226.0,614.0 224.8,615.0 223.7,616.0 222.6,617.0 221.4,618.3 220.4,619.5 219.5,620.8 218.7,622.0 218.1,623.3 217.4,624.6 216.9,626.0 216.4,627.5 216.0,629.0 215.8,630.5 215.6,632.0 215.6,633.5 215.7,635.0 215.9,636.5 216.1,638.0 216.5,639.5 217.1,641.0 217.7,642.5 218.4,644.0 219.2,645.3 220.1,646.5 220.9,647.7 221.9,648.8 222.9,649.9 224.1,651.0 225.2,652.0 226.4,653.0 227.6,653.8 228.9,654.7 230.2,655.5 231.4,656.5 232.7,657.5 233.7,658.5 234.6,659.8 235.3,661.0 235.9,662.4 236.6,663.8 237.4,665.3 238.1,666.5 238.9,667.8 239.7,669.0 240.7,670.2 241.7,671.3 242.6,672.3 243.7,673.3 244.9,674.3 246.2,675.2 247.4,676.0 248.6,676.8 249.9,677.5 251.4,678.3 252.9,679.0 254.4,679.5 255.9,680.0 257.4,680.5 258.9,680.9 260.4,681.2 261.9,681.4 263.4,681.6 264.9,681.8 266.4,681.9 267.9,681.9 269.4,681.9 270.9,681.8" fill="#cbe219"/><polygon points="272.6,681.0 274.2,680.8 275.7,680.6 277.2,680.3 278.7,679.9 280.2,679.4 281.7,678.9 283.2,678.3 284.7,677.6 285.9,677.0 287.2,676.3 288.4,675.5 289.7,674.7 290.8,673.8 291.9,672.9 293.1,671.8 294.2,670.7 295.1,669.5 296.1,668.3 296.9,667.0 297.7,665.8 298.3,664.5 298.9,663.0 299.4,661.6 299.8,660.0 300.1,658.5 300.3,657.0 300.4,655.5 300.3,654.0 300.1,652.5 299.9,651.0 299.5,649.5 299.0,648.0 298.3,646.5 297.7,645.3 296.9,644.0 296.2,642.8 295.2,641.5 294.2,640.3 293.2,639.3 292.2,638.3 291.0,637.3 289.7,636.3 288.4,635.4 287.3,634.5 285.9,633.7 284.7,632.8 283.4,631.8 282.4,630.9 281.5,629.5 280.8,628.3 280.2,627.0 279.5,625.5 278.8,624.0 278.1,622.8 277.3,621.5 276.5,620.3 275.5,619.0 274.4,617.9 273.4,616.9 272.3,615.8 271.2,614.9 270.1,614.0 268.7,613.1 267.4,612.4 266.2,611.7 264.9,611.0 263.4,610.4 261.9,609.8 260.4,609.3 258.9,608.9 257.4,608.5 255.9,608.2 254.4,607.9 252.9,607.7 251.4,607.6 249.9,607.5 248.4,607.5 246.9,607.5 245.4,607.6 243.9,607.8 242.4,608.0 240.9,608.2 239.5,608.5 237.9,608.9 236.4,609.4 234.9,609.9 233.4,610.5 231.9,611.2 230.7,611.8 229.4,612.5 228.2,613.3 226.9,614.2 225.8,615.0 224.7,616.0 223.6,617.0 222.4,618.2 221.5,619.3 220.6,620.5 219.7,621.8 219.0,623.0 218.3,624.5 217.7,625.9 217.2,627.3 216.8,628.8 216.6,630.3 216.4,631.8 216.3,633.3 216.4,634.8 216.6,636.3 216.8,637.8 217.2,639.2 217.6,640.5 218.2,641.9 218.9,643.3 219.6,644.5 220.4,645.8 221.3,647.0 222.2,648.1 223.2,649.2 224.2,650.2 225.4,651.3 226.7,652.3 227.9,653.2 229.1,654.0 230.4,654.9 231.7,655.8 232.9,656.7 234.1,657.8 235.1,659.0 235.8,660.3 236.4,661.7 237.1,663.0 237.7,664.4 238.4,665.8 239.2,667.0 240.1,668.3 240.9,669.4 241.9,670.5 242.9,671.7 244.2,672.8 245.4,673.8 246.7,674.8 247.9,675.6 249.2,676.4 250.4,677.1 251.9,677.8 253.2,678.4 254.7,679.0 256.2,679.5 257.7,679.9 259.2,680.3 260.7,680.6 262.2,680.9 263.6,681.0 265.2,681.2 266.7,681.3 268.2,681.3 269.7,681.3 271.2,681.2" fill="#2e962a"/><polygon points="271.5,680.5 272.9,680.4 274.4,680.2 275.9,679.9 277.4,679.6 278.9,679.2 280.4,678.7 281.9,678.1 283.3,677.5 284.7,676.9 285.9,676.3 287.2,675.5 288.4,674.7 289.7,673.8 290.9,672.8 292.1,671.8 293.1,670.8 294.2,669.6 295.2,668.3 296.1,667.0 296.8,665.8 297.5,664.5 298.2,663.0 298.7,661.5 299.1,660.0 299.4,658.5 299.5,657.0 299.6,655.5 299.5,654.0 299.4,652.5 299.1,651.0 298.7,649.5 298.2,648.1 297.5,646.5 296.9,645.3 296.2,644.0 295.3,642.8 294.4,641.7 293.5,640.5 292.4,639.5 291.2,638.3 290.0,637.3 288.7,636.4 287.5,635.5 286.2,634.7 284.9,633.8 283.8,633.0 282.5,632.0 281.4,630.9 280.6,629.5 279.8,628.0 279.2,626.6 278.6,625.3 277.9,624.0 277.2,622.7 276.3,621.3 275.4,620.1 274.4,618.9 273.4,617.8 272.4,616.8 271.3,615.8 270.0,614.8 268.7,613.9 267.4,613.1 266.2,612.4 264.9,611.8 263.4,611.1 262.1,610.5 260.7,610.0 259.2,609.6 257.7,609.2 256.2,608.8 254.7,608.6 253.2,608.4 251.7,608.2 250.2,608.1 248.7,608.1 247.2,608.1 245.7,608.2 244.2,608.3 242.7,608.5 241.2,608.8 239.7,609.1 238.2,609.5 236.7,610.0 235.2,610.5 233.8,611.0 232.4,611.7 231.2,612.3 229.9,613.0 228.7,613.8 227.4,614.6 226.2,615.5 225.1,616.5 224.0,617.5 222.9,618.7 222.0,619.8 221.1,621.0 220.3,622.3 219.6,623.5 218.8,625.0 218.3,626.5 217.8,628.0 217.5,629.5 217.2,631.0 217.1,632.5 217.1,634.0 217.2,635.5 217.4,637.0 217.8,638.5 218.2,639.9 218.7,641.2 219.3,642.5 220.0,643.8 220.7,645.0 221.6,646.3 222.6,647.5 223.7,648.7 224.7,649.7 225.9,650.8 227.1,651.8 228.4,652.8 229.7,653.6 230.9,654.4 232.2,655.3 233.4,656.1 234.7,657.3 235.7,658.5 236.4,659.8 237.1,661.3 237.7,662.6 238.4,664.0 239.0,665.3 239.8,666.5 240.6,667.8 241.4,669.0 242.4,670.0 243.4,671.2 244.6,672.3 245.7,673.2 246.9,674.2 248.2,675.0 249.4,675.8 250.7,676.5 252.2,677.3 253.7,677.9 255.2,678.5 256.7,679.0 258.2,679.4 259.7,679.8 261.2,680.1 262.7,680.3 264.2,680.5 265.7,680.6 267.2,680.7 268.7,680.7 270.2,680.6" fill="#3045de"/><polygon points="270.1,680.0 271.7,679.9 273.2,679.8 274.7,679.5 276.2,679.2 277.7,678.9 279.2,678.4 280.7,677.9 282.2,677.4 283.5,676.8 284.9,676.1 286.2,675.4 287.4,674.6 288.6,673.8 289.9,672.8 291.1,671.8 292.2,670.8 293.2,669.7 294.2,668.5 295.1,667.3 295.9,666.0 296.6,664.8 297.2,663.4 297.7,662.0 298.2,660.5 298.5,659.0 298.7,657.5 298.8,656.0 298.8,654.5 298.7,653.1 298.5,651.5 298.1,650.0 297.6,648.5 297.0,647.0 296.2,645.5 295.5,644.3 294.6,643.0 293.7,641.9 292.8,640.8 291.7,639.7 290.4,638.6 289.2,637.6 287.9,636.6 286.7,635.8 285.4,635.0 284.2,634.2 282.9,633.3 281.7,632.3 280.7,631.3 279.9,630.1 279.3,628.8 278.7,627.4 278.1,626.0 277.4,624.6 276.7,623.3 276.0,622.0 275.1,620.8 274.2,619.7 273.2,618.5 272.2,617.5 271.1,616.5 269.9,615.6 268.7,614.7 267.4,613.9 266.2,613.1 264.9,612.5 263.5,611.8 262.2,611.2 260.7,610.7 259.2,610.2 257.7,609.8 256.2,609.5 254.7,609.2 253.2,609.0 251.7,608.8 250.2,608.7 248.7,608.7 247.2,608.7 245.7,608.8 244.2,609.0 242.7,609.2 241.2,609.4 239.7,609.8 238.2,610.1 236.7,610.6 235.2,611.2 233.7,611.8 232.2,612.5 230.9,613.2 229.7,613.9 228.4,614.7 227.3,615.5 226.2,616.4 225.0,617.5 224.0,618.5 222.9,619.7 221.9,621.0 221.1,622.3 220.4,623.5 219.7,624.9 219.1,626.3 218.6,627.8 218.3,629.3 218.0,630.8 217.9,632.3 217.9,633.8 217.9,635.3 218.2,636.8 218.5,638.3 218.9,639.8 219.4,641.1 220.1,642.5 220.8,643.8 221.6,645.0 222.4,646.2 223.4,647.5 224.4,648.5 225.5,649.5 226.6,650.5 227.9,651.5 229.2,652.5 230.4,653.3 231.7,654.1 232.9,654.9 234.2,655.8 235.4,656.8 236.4,658.0 237.1,659.3 237.7,660.7 238.3,662.0 238.9,663.5 239.7,665.0 240.4,666.3 241.3,667.5 242.2,668.8 243.2,669.9 244.2,671.0 245.3,672.0 246.4,673.0 247.7,673.9 248.9,674.7 250.2,675.5 251.4,676.2 252.7,676.8 254.2,677.4 255.7,678.0 257.2,678.5 258.7,678.9 260.2,679.3 261.6,679.5 263.2,679.8 264.7,679.9 266.1,680.0 267.7,680.1 269.2,680.1" fill="#b033f0"/><polygon points="272.0,679.3 273.4,679.1 274.9,678.9 276.4,678.6 277.9,678.2 279.4,677.7 280.9,677.2 282.4,676.6 283.9,675.9 285.2,675.2 286.4,674.5 287.7,673.7 288.9,672.8 290.1,671.8 291.2,670.8 292.2,669.8 293.2,668.6 294.2,667.3 295.0,666.0 295.8,664.8 296.4,663.3 297.0,661.8 297.5,660.3 297.8,658.8 298.0,657.3 298.1,655.8 298.1,654.3 297.9,652.8 297.6,651.3 297.2,649.8 296.7,648.3 296.1,646.8 295.4,645.5 294.6,644.3 293.8,643.0 292.7,641.8 291.7,640.7 290.5,639.5 289.4,638.6 288.2,637.6 287.0,636.8 285.7,635.9 284.4,635.1 283.2,634.4 282.0,633.5 280.8,632.5 279.7,631.3 279.0,630.0 278.3,628.5 277.7,627.0 277.1,625.5 276.4,624.3 275.8,623.0 274.9,621.8 274.0,620.5 273.0,619.3 271.9,618.2 270.7,617.1 269.5,616.0 268.2,615.1 266.9,614.3 265.7,613.6 264.4,612.9 263.1,612.3 261.7,611.7 260.2,611.2 258.7,610.7 257.2,610.3 255.7,610.0 254.2,609.7 252.7,609.5 251.2,609.4 249.7,609.3 248.2,609.3 246.7,609.3 245.2,609.5 243.7,609.6 242.2,609.9 240.7,610.1 239.2,610.5 237.7,610.9 236.2,611.4 234.7,612.0 233.2,612.7 231.9,613.3 230.7,614.0 229.5,614.8 228.2,615.7 226.9,616.7 225.7,617.8 224.7,618.8 223.7,619.9 222.8,621.0 221.9,622.3 221.2,623.5 220.5,624.8 219.9,626.2 219.5,627.5 219.1,629.0 218.8,630.5 218.6,632.0 218.6,633.5 218.7,635.0 218.9,636.5 219.2,638.0 219.6,639.5 220.2,641.0 220.9,642.5 221.6,643.8 222.4,645.0 223.4,646.3 224.4,647.5 225.4,648.6 226.5,649.5 227.7,650.5 228.9,651.5 230.1,652.3 231.4,653.2 232.7,653.9 233.9,654.7 235.1,655.5 236.2,656.5 237.2,657.8 237.8,659.0 238.4,660.5 239.0,661.8 239.6,663.3 240.4,664.8 241.1,666.0 241.9,667.3 242.9,668.5 243.9,669.7 244.9,670.8 246.1,671.8 247.2,672.7 248.3,673.5 249.7,674.5 250.9,675.2 252.2,675.9 253.7,676.5 255.2,677.2 256.7,677.7 258.2,678.2 259.7,678.5 261.2,678.9 262.7,679.1 264.2,679.3 265.7,679.4 267.2,679.5 268.7,679.5 270.2,679.4 271.7,679.3" fill="#ffaca7"/><polygon points="270.8,678.8 272.2,678.7 273.7,678.5 275.2,678.2 276.7,677.9 278.2,677.5 279.7,677.0 281.2,676.4 282.6,675.8 283.9,675.2 285.2,674.5 286.4,673.7 287.7,672.9 288.9,671.9 290.2,670.8 291.3,669.8 292.2,668.8 293.2,667.5 294.0,666.3 294.8,665.0 295.4,663.8 296.1,662.3 296.6,660.8 296.9,659.4 297.2,657.9 297.3,656.3 297.3,654.8 297.2,653.3 297.0,651.8 296.6,650.3 296.1,648.8 295.5,647.3 294.9,646.0 294.1,644.8 293.3,643.5 292.3,642.3 291.2,641.1 290.2,640.2 288.9,639.1 287.7,638.1 286.4,637.2 285.2,636.4 283.9,635.6 282.7,634.9 281.4,634.1 280.2,633.1 279.2,632.0 278.5,630.8 277.8,629.3 277.2,627.8 276.6,626.3 275.9,624.9 275.2,623.5 274.4,622.3 273.5,621.0 272.5,619.8 271.4,618.7 270.2,617.5 269.0,616.5 267.7,615.6 266.5,614.8 265.2,614.0 263.9,613.4 262.4,612.7 260.9,612.1 259.4,611.6 257.9,611.1 256.4,610.8 254.9,610.5 253.4,610.2 251.9,610.1 250.4,609.9 248.9,609.9 247.4,609.9 245.9,610.0 244.4,610.1 242.9,610.3 241.4,610.6 239.9,610.9 238.4,611.4 237.1,611.8 235.7,612.3 234.2,612.9 232.9,613.5 231.5,614.3 230.3,615.0 228.9,616.0 227.7,616.9 226.4,618.0 225.4,619.0 224.5,620.0 223.5,621.3 222.6,622.5 221.9,623.8 221.2,625.0 220.6,626.5 220.1,628.0 219.7,629.5 219.5,631.0 219.4,632.5 219.4,634.0 219.5,635.5 219.7,637.0 220.1,638.5 220.6,640.0 221.2,641.5 221.9,642.8 222.6,644.0 223.4,645.3 224.4,646.5 225.4,647.5 226.4,648.5 227.4,649.5 228.7,650.5 229.9,651.4 231.2,652.2 232.4,653.0 233.7,653.7 234.9,654.5 236.2,655.4 237.3,656.5 238.1,657.8 238.8,659.3 239.4,660.8 239.9,662.2 240.6,663.5 241.2,664.8 241.9,666.0 242.8,667.3 243.7,668.4 244.7,669.5 245.7,670.5 246.8,671.5 247.9,672.5 249.1,673.3 250.4,674.2 251.7,674.9 252.9,675.5 254.4,676.2 255.9,676.8 257.4,677.3 258.9,677.7 260.4,678.1 261.9,678.4 263.4,678.6 264.9,678.8 266.4,678.9 267.9,678.9 269.4,678.9" fill="#cbe219"/><polygon points="272.3,678.0 273.7,677.9 275.2,677.6 276.7,677.2 278.2,676.8 279.7,676.3 281.1,675.8 282.4,675.2 283.8,674.5 285.1,673.8 286.3,673.0 287.4,672.2 288.6,671.3 289.7,670.4 290.7,669.4 291.7,668.3 292.7,667.0 293.5,665.8 294.3,664.5 294.9,663.1 295.5,661.8 295.9,660.3 296.3,658.8 296.5,657.3 296.6,655.8 296.6,654.3 296.4,652.8 296.1,651.3 295.7,649.8 295.2,648.4 294.6,647.0 293.9,645.8 293.1,644.5 292.2,643.3 291.2,642.1 290.2,641.1 289.1,640.0 287.9,639.1 286.7,638.2 285.4,637.3 284.2,636.6 282.9,635.8 281.7,635.1 280.5,634.3 279.2,633.3 278.2,632.0 277.6,630.8 277.0,629.3 276.4,627.9 275.9,626.5 275.2,625.0 274.5,623.8 273.7,622.5 272.8,621.3 271.9,620.2 270.9,619.1 269.8,618.0 268.7,617.1 267.4,616.2 266.2,615.4 264.9,614.6 263.7,614.0 262.3,613.3 260.9,612.8 259.4,612.2 258.1,611.8 256.7,611.4 255.2,611.1 253.7,610.9 252.2,610.7 250.7,610.6 249.2,610.5 247.7,610.5 246.2,610.6 244.7,610.7 243.2,610.9 241.7,611.2 240.2,611.5 238.7,611.9 237.2,612.4 235.7,613.0 234.4,613.5 232.9,614.2 231.7,614.9 230.4,615.7 229.3,616.5 228.0,617.5 226.9,618.5 225.9,619.5 224.8,620.8 223.8,622.0 223.0,623.3 222.3,624.5 221.6,626.0 221.0,627.5 220.6,629.0 220.3,630.5 220.1,632.0 220.1,633.5 220.2,635.0 220.4,636.5 220.7,638.0 221.1,639.3 221.7,640.8 222.4,642.3 223.1,643.5 223.9,644.7 224.9,646.0 225.9,647.1 226.9,648.1 228.2,649.2 229.4,650.2 230.6,651.0 231.9,651.9 233.2,652.7 234.4,653.4 235.7,654.1 236.9,655.0 238.0,656.0 238.8,657.3 239.4,658.7 239.9,660.1 240.4,661.4 241.0,662.8 241.7,664.2 242.4,665.5 243.3,666.8 244.2,667.9 245.2,669.0 246.2,670.0 247.2,671.0 248.4,672.0 249.7,672.9 250.9,673.7 252.2,674.4 253.4,675.1 254.9,675.7 256.4,676.3 257.9,676.8 259.4,677.2 260.9,677.5 262.4,677.8 263.9,678.0 265.4,678.2 266.9,678.3 268.4,678.3 269.9,678.3 271.4,678.1" fill="#2e962a"/><polygon points="271.3,677.5 272.9,677.4 274.4,677.1 275.9,676.8 277.4,676.4 278.9,675.9 280.4,675.4 281.8,674.8 283.2,674.1 284.4,673.4 285.7,672.7 286.9,671.8 288.2,670.8 289.3,669.8 290.3,668.8 291.4,667.5 292.3,666.3 293.2,665.0 293.8,663.8 294.4,662.5 294.9,661.1 295.4,659.5 295.7,658.0 295.8,656.5 295.8,655.0 295.7,653.5 295.5,652.0 295.2,650.5 294.7,649.2 294.1,647.8 293.5,646.5 292.7,645.3 291.9,644.1 291.1,643.0 289.9,641.8 288.9,640.8 287.7,639.8 286.4,638.8 285.2,638.0 283.9,637.2 282.7,636.4 281.4,635.7 280.2,635.0 278.9,634.1 277.9,633.1 277.1,631.8 276.5,630.3 276.0,628.8 275.4,627.4 274.9,626.0 274.2,624.7 273.4,623.4 272.5,622.0 271.5,620.8 270.4,619.6 269.3,618.5 268.2,617.6 266.9,616.6 265.7,615.8 264.4,615.1 263.2,614.4 261.9,613.8 260.4,613.2 258.9,612.7 257.6,612.3 256.2,611.9 254.7,611.6 253.2,611.4 251.7,611.2 250.2,611.1 248.7,611.1 247.2,611.1 245.7,611.2 244.2,611.4 242.7,611.6 241.2,611.9 239.7,612.3 238.2,612.7 236.7,613.2 235.3,613.8 233.9,614.4 232.7,615.1 231.4,615.8 230.2,616.7 229.0,617.5 227.9,618.5 226.8,619.5 225.7,620.8 224.7,622.0 223.8,623.3 223.1,624.5 222.4,625.9 221.9,627.3 221.4,628.7 221.1,630.3 220.9,631.8 220.8,633.3 220.9,634.8 221.1,636.3 221.4,637.8 221.9,639.3 222.4,640.7 223.1,642.0 223.8,643.3 224.7,644.5 225.7,645.8 226.7,646.9 227.8,648.0 228.9,649.0 230.2,650.0 231.4,650.8 232.6,651.5 233.9,652.3 235.2,653.0 236.4,653.8 237.7,654.6 238.9,655.8 239.6,657.0 240.2,658.5 240.7,659.8 241.2,661.3 241.8,662.8 242.6,664.3 243.3,665.5 244.2,666.8 245.2,668.0 246.2,669.1 247.4,670.3 248.6,671.3 249.9,672.3 251.2,673.1 252.4,673.8 253.7,674.5 255.2,675.2 256.7,675.7 258.2,676.2 259.7,676.7 261.2,677.0 262.7,677.3 264.2,677.5 265.7,677.6 267.2,677.7 268.7,677.7 270.2,677.6" fill="#3045de"/><polygon points="269.9,677.0 271.4,676.9 272.9,676.7 274.4,676.5 275.9,676.2 277.3,675.8 278.7,675.4 280.2,674.8 281.7,674.2 283.2,673.4 284.4,672.7 285.7,671.9 286.8,671.0 287.9,670.1 289.1,669.0 290.2,667.9 291.1,666.8 291.9,665.6 292.7,664.4 293.4,663.0 293.9,661.7 294.4,660.3 294.8,658.8 295.0,657.3 295.1,655.8 295.1,654.3 294.9,652.8 294.6,651.3 294.1,649.8 293.6,648.3 292.8,646.8 292.1,645.5 291.2,644.3 290.2,643.1 289.2,642.0 288.2,641.1 287.0,640.0 285.7,639.1 284.5,638.3 283.3,637.5 282.0,636.8 280.7,636.1 279.4,635.4 278.2,634.5 277.2,633.5 276.4,632.3 275.8,630.8 275.3,629.3 274.8,627.8 274.2,626.3 273.6,625.0 272.9,623.8 272.0,622.5 271.1,621.3 269.9,620.1 268.9,619.0 267.7,618.0 266.4,617.1 265.3,616.3 264.0,615.5 262.7,614.9 261.2,614.2 259.7,613.6 258.2,613.1 256.7,612.7 255.2,612.4 253.7,612.1 252.2,611.9 250.7,611.8 249.2,611.7 247.7,611.7 246.2,611.8 244.7,611.9 243.2,612.1 241.7,612.4 240.2,612.8 238.7,613.2 237.2,613.7 235.8,614.3 234.4,614.9 233.2,615.6 231.9,616.3 230.7,617.1 229.5,618.0 228.3,619.0 227.3,620.0 226.2,621.2 225.2,622.5 224.4,623.8 223.6,625.0 223.0,626.5 222.4,627.9 222.1,629.3 221.8,630.8 221.6,632.3 221.6,633.8 221.7,635.3 221.9,636.8 222.3,638.3 222.9,639.8 223.4,641.2 224.2,642.5 225.0,643.8 225.9,645.0 226.9,646.2 227.9,647.2 229.2,648.3 230.4,649.3 231.7,650.2 232.9,651.0 234.2,651.7 235.4,652.4 236.7,653.1 237.9,653.8 239.1,654.8 240.1,656.0 240.7,657.5 241.1,658.8 241.6,660.3 242.2,661.8 242.9,663.3 243.6,664.5 244.4,665.8 245.2,667.0 246.1,668.0 247.2,669.2 248.4,670.3 249.7,671.3 250.9,672.2 252.2,673.0 253.4,673.6 254.8,674.3 256.2,674.9 257.7,675.4 259.2,675.9 260.7,676.3 262.2,676.6 263.6,676.8 265.2,677.0 266.7,677.1 268.2,677.1 269.7,677.1" fill="#b033f0"/><polygon points="271.7,676.3 273.2,676.1 274.7,675.8 276.2,675.5 277.7,675.0 279.1,674.5 280.4,674.0 281.9,673.3 283.2,672.7 284.4,671.9 285.7,671.1 286.9,670.1 288.2,669.0 289.1,668.0 290.2,666.8 291.1,665.5 291.9,664.3 292.6,663.0 293.2,661.6 293.7,660.3 294.0,658.8 294.3,657.3 294.3,655.8 294.3,654.3 294.1,652.8 293.8,651.3 293.4,649.8 292.8,648.3 292.0,646.8 291.2,645.5 290.3,644.3 289.2,643.0 288.2,642.0 286.9,640.9 285.7,639.9 284.5,639.0 283.3,638.3 282.0,637.5 280.7,636.9 279.4,636.2 278.2,635.5 276.9,634.6 275.9,633.3 275.3,631.8 274.8,630.3 274.4,628.8 273.8,627.3 273.2,625.9 272.5,624.5 271.7,623.3 270.8,622.0 269.7,620.8 268.7,619.8 267.6,618.8 266.4,617.9 265.2,617.0 264.0,616.3 262.7,615.6 261.2,614.9 259.8,614.3 258.4,613.8 256.9,613.4 255.6,613.0 253.9,612.7 252.4,612.5 250.9,612.4 249.4,612.3 247.9,612.3 246.4,612.4 244.9,612.5 243.4,612.7 241.9,613.0 240.4,613.3 238.9,613.8 237.4,614.3 235.9,614.9 234.6,615.5 233.2,616.3 232.0,617.0 230.7,617.9 229.4,618.9 228.2,620.0 227.2,621.1 226.2,622.3 225.4,623.5 224.6,624.8 224.0,626.0 223.4,627.5 222.9,629.0 222.6,630.5 222.4,632.0 222.4,633.5 222.4,635.0 222.7,636.5 223.0,638.0 223.5,639.5 224.2,641.0 224.9,642.3 225.7,643.5 226.6,644.8 227.7,646.0 228.7,647.0 229.9,648.0 231.2,649.0 232.4,649.9 233.7,650.7 234.9,651.4 236.2,652.0 237.4,652.7 238.7,653.4 239.8,654.3 240.7,655.4 241.3,656.8 241.8,658.3 242.3,659.8 242.8,661.3 243.4,662.8 244.1,664.0 244.9,665.3 245.7,666.5 246.6,667.5 247.7,668.7 248.9,669.8 250.1,670.8 251.4,671.7 252.7,672.5 253.9,673.2 255.2,673.8 256.7,674.4 258.2,674.9 259.7,675.4 261.2,675.8 262.7,676.0 264.2,676.3 265.7,676.4 267.2,676.5 268.7,676.5 270.2,676.4 271.7,676.3" fill="#ffaca7"/><polygon points="270.6,675.8 272.2,675.6 273.7,675.4 275.2,675.1 276.7,674.7 278.2,674.2 279.7,673.7 281.1,673.0 282.4,672.4 283.7,671.6 284.9,670.8 286.2,669.9 287.4,668.8 288.4,667.8 289.4,666.7 290.4,665.3 291.2,664.1 291.9,662.8 292.5,661.3 293.0,659.8 293.4,658.3 293.5,656.8 293.6,655.3 293.5,653.8 293.3,652.3 292.9,650.9 292.5,649.5 291.8,648.0 291.2,646.8 290.4,645.5 289.4,644.3 288.4,643.2 287.4,642.2 286.2,641.1 284.9,640.2 283.7,639.3 282.4,638.6 281.2,637.9 279.9,637.2 278.7,636.6 277.4,635.9 276.2,635.0 275.2,633.8 274.6,632.3 274.2,630.8 273.7,629.3 273.2,627.8 272.6,626.3 271.9,625.0 271.2,623.8 270.3,622.5 269.2,621.3 268.2,620.2 267.1,619.3 265.9,618.3 264.7,617.5 263.4,616.7 262.2,616.0 260.7,615.3 259.3,614.8 257.9,614.3 256.4,613.9 255.0,613.5 253.4,613.3 251.9,613.1 250.4,613.0 248.9,612.9 247.4,612.9 245.9,613.0 244.4,613.2 242.9,613.4 241.4,613.7 239.9,614.1 238.6,614.5 237.2,615.0 235.7,615.7 234.2,616.5 232.9,617.2 231.7,618.0 230.4,619.0 229.2,620.0 228.2,621.0 227.2,622.2 226.2,623.5 225.4,624.7 224.8,626.0 224.2,627.4 223.7,628.8 223.4,630.3 223.2,631.8 223.1,633.3 223.2,634.8 223.4,636.3 223.7,637.7 224.1,639.0 224.7,640.4 225.4,641.8 226.2,643.0 227.1,644.3 228.2,645.5 229.2,646.5 230.3,647.5 231.4,648.4 232.7,649.3 233.9,650.0 235.2,650.8 236.4,651.4 237.7,652.0 239.1,652.8 240.4,653.7 241.4,654.8 242.1,656.3 242.5,657.8 242.9,659.3 243.4,660.8 243.9,662.1 244.7,663.5 245.4,664.8 246.2,666.0 247.1,667.0 248.2,668.3 249.3,669.3 250.4,670.2 251.6,671.0 252.9,671.9 254.2,672.6 255.6,673.3 256.9,673.8 258.4,674.4 259.8,674.8 261.2,675.1 262.7,675.4 264.2,675.7 265.7,675.8 267.2,675.9 268.7,675.9 270.2,675.8" fill="#cbe219"/><polygon points="272.0,675.0 273.4,674.8 274.8,674.5 276.4,674.1 277.9,673.7 279.4,673.1 280.9,672.4 282.2,671.8 283.4,671.0 284.7,670.2 285.8,669.3 286.9,668.3 287.9,667.3 288.9,666.2 289.9,664.8 290.7,663.6 291.3,662.3 291.9,660.8 292.4,659.3 292.7,657.8 292.8,656.3 292.8,654.8 292.7,653.3 292.4,651.8 292.0,650.3 291.4,648.9 290.8,647.5 290.0,646.3 289.2,645.1 288.3,644.0 287.2,642.9 286.0,641.8 284.7,640.8 283.4,639.9 282.2,639.2 280.9,638.5 279.6,637.8 278.2,637.1 276.9,636.5 275.7,635.7 274.7,634.7 274.0,633.3 273.6,631.8 273.2,630.3 272.8,628.8 272.2,627.3 271.5,625.8 270.8,624.5 270.0,623.3 269.0,622.0 267.9,621.0 266.7,619.8 265.5,618.8 264.2,617.9 262.9,617.2 261.7,616.5 260.2,615.8 258.7,615.2 257.2,614.7 255.7,614.3 254.2,614.0 252.7,613.8 251.2,613.6 249.7,613.5 248.2,613.5 246.7,613.6 245.2,613.7 243.7,613.9 242.2,614.2 240.7,614.5 239.2,615.0 237.7,615.5 236.2,616.2 234.9,616.8 233.7,617.5 232.4,618.3 231.2,619.2 229.9,620.3 228.9,621.3 227.9,622.4 227.1,623.5 226.2,624.8 225.6,626.0 224.9,627.5 224.5,628.8 224.1,630.3 223.9,631.8 223.8,633.3 223.9,634.8 224.1,636.3 224.5,637.8 224.9,639.1 225.6,640.5 226.2,641.8 227.1,643.0 227.9,644.2 228.9,645.3 229.9,646.3 231.1,647.3 232.2,648.1 233.4,649.0 234.7,649.7 235.9,650.4 237.2,651.0 238.7,651.8 239.9,652.4 241.2,653.3 242.2,654.4 242.8,655.8 243.2,657.3 243.6,658.8 244.0,660.3 244.6,661.8 245.3,663.3 246.1,664.5 246.9,665.8 247.9,667.0 248.9,668.0 250.1,669.0 251.2,670.0 252.4,670.8 253.6,671.5 254.9,672.3 256.4,673.0 257.9,673.5 259.4,674.0 260.9,674.5 262.4,674.8 263.9,675.0 265.4,675.2 266.9,675.3 268.4,675.3 269.9,675.2 271.4,675.1" fill="#2e962a"/><polygon points="271.1,674.5 272.7,674.3 274.2,674.1 275.7,673.7 277.1,673.3 278.4,672.8 279.9,672.2 281.3,671.5 282.6,670.8 283.9,669.9 285.1,669.0 286.2,668.1 287.2,667.1 288.2,666.0 289.1,664.8 289.9,663.5 290.5,662.3 291.2,660.8 291.6,659.3 291.9,657.8 292.1,656.3 292.1,654.8 291.9,653.4 291.7,651.8 291.2,650.3 290.6,648.8 289.9,647.6 289.2,646.3 288.2,645.0 287.2,643.9 286.2,642.9 284.9,641.8 283.7,640.9 282.4,640.1 281.2,639.4 279.9,638.7 278.6,638.0 277.2,637.4 275.9,636.8 274.7,636.0 273.7,634.8 273.1,633.3 272.8,631.8 272.4,630.4 272.1,629.0 271.5,627.5 270.9,626.3 270.2,624.9 269.3,623.5 268.3,622.3 267.2,621.2 266.0,620.0 264.7,619.1 263.4,618.2 262.2,617.5 260.9,616.8 259.4,616.2 257.9,615.6 256.4,615.2 255.0,614.8 253.4,614.5 252.1,614.3 250.4,614.2 248.9,614.1 247.4,614.1 245.9,614.2 244.4,614.4 242.9,614.6 241.4,615.0 239.9,615.4 238.4,615.9 236.9,616.5 235.4,617.2 234.2,617.9 232.9,618.7 231.7,619.7 230.4,620.7 229.4,621.7 228.5,622.8 227.6,624.0 226.8,625.3 226.1,626.5 225.5,628.0 225.1,629.5 224.8,631.0 224.6,632.5 224.6,634.0 224.8,635.5 225.1,637.0 225.5,638.5 226.1,640.0 226.8,641.3 227.6,642.5 228.4,643.7 229.4,644.8 230.4,645.8 231.4,646.7 232.7,647.7 233.9,648.5 235.2,649.3 236.4,649.9 237.7,650.5 239.2,651.2 240.7,652.0 241.9,652.8 242.9,653.8 243.5,655.3 243.9,656.8 244.2,658.2 244.6,659.5 245.1,661.0 245.7,662.4 246.4,663.8 247.3,665.0 248.2,666.2 249.2,667.3 250.2,668.3 251.4,669.3 252.7,670.2 253.9,671.0 255.2,671.7 256.5,672.3 257.9,672.9 259.4,673.4 260.8,673.8 262.4,674.2 263.9,674.4 265.4,674.6 266.9,674.7 268.4,674.7 269.9,674.6" fill="#3045de"/><polygon points="269.8,674.0 271.2,673.9 272.7,673.7 274.2,673.4 275.7,673.1 277.2,672.6 278.7,672.1 280.2,671.4 281.4,670.7 282.7,670.0 283.9,669.1 285.2,668.1 286.3,667.0 287.4,665.8 288.4,664.5 289.2,663.3 289.9,662.0 290.4,660.6 290.9,659.0 291.2,657.6 291.3,656.0 291.3,654.5 291.1,653.0 290.8,651.5 290.3,650.0 289.7,648.6 289.0,647.3 288.1,646.0 287.2,644.9 286.2,643.8 285.1,642.8 283.9,641.9 282.8,641.0 281.6,640.3 280.2,639.6 278.7,638.8 277.2,638.2 275.8,637.5 274.4,636.9 273.2,635.8 272.6,634.5 272.2,633.1 271.9,631.5 271.6,630.0 271.1,628.5 270.5,627.0 269.9,625.8 269.1,624.5 268.2,623.3 267.2,622.1 266.2,621.1 264.9,620.1 263.7,619.2 262.4,618.4 261.2,617.7 259.9,617.0 258.4,616.5 256.9,615.9 255.5,615.5 253.9,615.2 252.4,615.0 251.0,614.8 249.4,614.7 247.9,614.7 246.4,614.8 244.9,614.9 243.4,615.2 241.9,615.5 240.4,615.9 238.9,616.4 237.4,617.0 235.9,617.7 234.7,618.4 233.4,619.2 232.3,620.0 231.2,621.0 230.1,622.0 229.0,623.3 228.1,624.5 227.3,625.8 226.7,627.1 226.1,628.5 225.7,630.0 225.5,631.5 225.4,633.0 225.4,634.5 225.6,636.0 225.9,637.5 226.4,639.0 227.1,640.3 227.8,641.5 228.6,642.8 229.6,644.0 230.7,645.2 231.9,646.3 233.2,647.2 234.4,648.0 235.7,648.8 236.9,649.5 238.4,650.2 239.9,650.8 241.2,651.4 242.4,652.1 243.5,653.0 244.1,654.3 244.5,655.8 244.8,657.3 245.1,658.8 245.6,660.3 246.2,661.8 246.8,663.0 247.6,664.3 248.4,665.4 249.4,666.5 250.4,667.5 251.4,668.5 252.7,669.4 253.9,670.3 255.2,671.0 256.7,671.7 258.1,672.3 259.4,672.8 260.9,673.2 262.4,673.5 263.9,673.8 265.4,674.0 266.9,674.1 268.4,674.1" fill="#b033f0"/><polygon points="271.4,673.3 272.9,673.1 274.4,672.8 275.9,672.4 277.4,671.9 278.9,671.3 280.2,670.7 281.4,670.0 282.7,669.2 283.9,668.3 285.1,667.3 286.1,666.3 287.2,665.0 288.1,663.8 288.8,662.5 289.4,661.2 289.9,659.8 290.3,658.3 290.5,656.8 290.6,655.3 290.5,653.8 290.2,652.3 289.8,650.8 289.2,649.3 288.6,648.0 287.8,646.8 286.9,645.7 286.0,644.5 284.9,643.6 283.7,642.5 282.4,641.6 281.2,640.8 279.9,640.2 278.4,639.4 277.0,638.8 275.4,638.2 274.0,637.5 272.7,636.6 271.9,635.3 271.5,633.8 271.2,632.3 271.0,630.8 270.6,629.3 270.0,627.8 269.4,626.5 268.7,625.2 267.9,624.0 266.9,622.9 265.9,621.8 264.8,620.8 263.5,619.8 262.2,619.0 260.9,618.3 259.5,617.5 257.9,616.9 256.4,616.4 255.0,616.0 253.4,615.7 251.9,615.5 250.4,615.4 248.9,615.3 247.4,615.3 245.9,615.4 244.4,615.6 242.9,615.9 241.4,616.2 239.9,616.7 238.4,617.2 237.2,617.8 235.7,618.5 234.5,619.3 233.2,620.2 231.9,621.2 230.8,622.3 229.7,623.5 228.8,624.8 228.0,626.0 227.3,627.5 226.7,629.0 226.4,630.5 226.2,632.0 226.1,633.5 226.2,635.0 226.4,636.5 226.9,638.0 227.4,639.4 228.1,640.8 228.9,642.0 229.9,643.3 230.9,644.5 232.1,645.5 233.2,646.4 234.4,647.3 235.7,648.0 236.9,648.7 238.4,649.5 239.9,650.0 241.2,650.6 242.7,651.3 243.9,652.0 244.8,653.3 245.2,654.8 245.4,656.3 245.7,657.8 246.1,659.3 246.6,660.8 247.2,662.2 247.9,663.5 248.8,664.8 249.9,666.0 250.9,667.2 252.2,668.2 253.4,669.2 254.7,670.0 255.9,670.6 257.3,671.3 258.7,671.9 260.2,672.4 261.7,672.8 263.1,673.0 264.7,673.3 266.2,673.4 267.7,673.5 269.2,673.5 270.7,673.4" fill="#ffaca7"/><polygon points="270.4,672.8 271.9,672.6 273.4,672.4 274.8,672.0 276.2,671.6 277.7,671.1 279.0,670.5 280.4,669.8 281.7,669.1 282.9,668.2 284.1,667.3 285.2,666.3 286.2,665.1 287.2,663.8 287.9,662.6 288.6,661.3 289.2,659.8 289.6,658.3 289.8,656.8 289.8,655.3 289.7,653.8 289.5,652.3 289.0,650.8 288.4,649.4 287.8,648.0 286.9,646.8 285.9,645.6 284.9,644.5 283.9,643.5 282.7,642.6 281.5,641.8 280.3,641.0 278.9,640.4 277.4,639.7 275.9,639.1 274.5,638.5 272.9,637.9 271.8,637.0 271.0,635.8 270.7,634.3 270.5,632.8 270.3,631.3 269.9,629.8 269.5,628.3 268.8,626.8 268.1,625.5 267.2,624.3 266.2,623.1 265.2,622.1 264.0,621.0 262.7,620.1 261.5,619.3 260.2,618.6 258.7,617.9 257.2,617.3 255.7,616.9 254.2,616.5 252.7,616.2 251.2,616.0 249.7,615.9 248.2,615.9 246.7,616.0 245.2,616.1 243.7,616.3 242.2,616.7 240.8,617.0 239.4,617.5 238.1,618.0 236.7,618.7 235.4,619.4 234.2,620.3 232.9,621.2 231.7,622.3 230.7,623.4 229.8,624.5 229.0,625.8 228.3,627.0 227.7,628.5 227.2,630.0 227.0,631.5 226.9,633.0 226.9,634.5 227.1,636.0 227.5,637.5 228.1,639.0 228.7,640.3 229.4,641.5 230.4,642.8 231.4,644.0 232.6,645.0 233.7,646.0 234.9,646.8 236.1,647.5 237.4,648.3 238.9,649.0 240.4,649.5 241.7,650.0 243.2,650.6 244.4,651.3 245.4,652.4 245.9,653.8 246.1,655.3 246.3,656.8 246.6,658.3 246.9,659.7 247.4,661.0 248.1,662.3 248.8,663.5 249.7,664.8 250.7,665.9 251.7,666.9 252.9,668.0 254.2,668.9 255.4,669.7 256.7,670.3 258.2,671.0 259.7,671.5 261.2,672.0 262.7,672.4 264.2,672.6 265.7,672.8 267.2,672.9 268.7,672.9 270.2,672.8" fill="#cbe219"/><polygon points="271.7,672.0 273.2,671.8 274.7,671.4 276.0,671.0 277.4,670.5 278.9,669.9 280.2,669.2 281.4,668.5 282.7,667.6 283.9,666.5 284.9,665.5 285.9,664.3 286.9,663.0 287.6,661.8 288.2,660.4 288.7,658.8 289.0,657.3 289.1,655.8 289.0,654.3 288.8,652.8 288.4,651.4 287.9,650.0 287.2,648.5 286.4,647.3 285.5,646.0 284.4,645.0 283.2,643.8 281.9,642.9 280.7,642.0 279.4,641.3 277.9,640.6 276.6,640.0 275.2,639.5 273.8,639.0 272.5,638.5 271.2,637.9 270.2,636.5 269.9,635.0 269.8,633.5 269.6,632.0 269.4,630.5 268.9,629.1 268.3,627.5 267.7,626.3 266.9,625.0 265.9,623.8 265.0,622.8 263.9,621.8 262.7,620.8 261.5,620.0 260.2,619.3 258.9,618.7 257.4,618.1 255.9,617.6 254.4,617.2 252.9,616.9 251.4,616.7 249.9,616.5 248.4,616.5 247.0,616.5 245.4,616.7 243.9,616.9 242.4,617.2 240.9,617.7 239.4,618.2 238.0,618.8 236.7,619.5 235.4,620.2 234.2,621.0 233.0,622.0 232.0,623.0 230.9,624.2 230.0,625.5 229.2,626.8 228.6,628.3 228.1,629.8 227.7,631.3 227.6,632.8 227.6,634.3 227.8,635.8 228.2,637.3 228.7,638.7 229.4,640.0 230.1,641.3 231.1,642.5 232.2,643.8 233.3,644.8 234.4,645.7 235.7,646.5 236.9,647.3 238.2,647.9 239.6,648.5 240.9,649.1 242.3,649.5 243.7,650.0 245.2,650.7 246.3,651.8 246.7,653.3 246.9,654.8 247.0,656.3 247.2,657.8 247.6,659.3 248.2,660.8 248.9,662.3 249.7,663.5 250.6,664.8 251.7,666.0 252.8,667.0 254.1,668.0 255.4,668.9 256.7,669.6 258.2,670.3 259.7,670.9 261.2,671.4 262.7,671.7 264.2,672.0 265.7,672.2 267.2,672.3 268.7,672.3 270.2,672.2 271.7,672.1" fill="#2e962a"/><polygon points="270.8,671.5 272.4,671.3 273.9,671.0 275.4,670.6 276.9,670.1 278.4,669.4 279.7,668.8 280.9,668.0 282.2,667.1 283.4,666.1 284.4,665.1 285.4,663.9 286.3,662.5 287.0,661.3 287.6,659.8 288.0,658.3 288.3,656.8 288.3,655.3 288.2,653.8 288.0,652.3 287.5,650.8 286.8,649.3 286.1,648.0 285.2,646.8 284.2,645.7 283.0,644.5 281.8,643.5 280.4,642.7 279.2,641.9 277.9,641.3 276.4,640.7 274.9,640.1 273.4,639.7 271.9,639.2 270.5,638.5 269.5,637.5 269.1,636.0 269.0,634.5 269.0,633.0 268.8,631.5 268.5,630.0 268.0,628.5 267.3,627.0 266.6,625.8 265.7,624.6 264.8,623.5 263.7,622.5 262.5,621.5 261.2,620.6 259.9,619.9 258.4,619.1 257.0,618.5 255.4,618.1 253.9,617.7 252.4,617.4 250.9,617.2 249.4,617.1 247.9,617.1 246.4,617.2 244.9,617.4 243.4,617.6 241.9,618.0 240.4,618.5 239.0,619.0 237.7,619.6 236.4,620.3 235.2,621.2 234.0,622.0 232.9,623.0 232.0,624.0 231.0,625.3 230.2,626.5 229.6,627.8 229.0,629.3 228.6,630.8 228.4,632.3 228.4,633.8 228.5,635.3 228.8,636.8 229.3,638.3 229.9,639.6 230.7,640.9 231.6,642.0 232.7,643.3 233.7,644.3 234.9,645.3 236.2,646.1 237.4,646.8 238.9,647.5 240.2,648.1 241.7,648.6 243.2,649.1 244.5,649.5 245.9,650.1 247.1,651.0 247.6,652.5 247.7,654.0 247.7,655.5 247.9,657.0 248.2,658.5 248.7,660.0 249.3,661.5 250.0,662.8 250.9,664.0 251.9,665.3 253.0,666.3 254.2,667.3 255.4,668.2 256.7,668.9 258.0,669.5 259.4,670.1 260.9,670.7 262.4,671.0 263.9,671.4 265.4,671.5 266.9,671.7 268.4,671.7 269.9,671.6" fill="#3045de"/><polygon points="269.7,671.0 271.2,670.9 272.7,670.7 274.2,670.3 275.7,669.9 277.2,669.3 278.7,668.6 279.9,667.9 281.2,667.1 282.4,666.1 283.5,665.0 284.4,664.0 285.3,662.8 286.1,661.5 286.7,660.2 287.2,658.8 287.4,657.4 287.6,655.8 287.5,654.3 287.3,652.8 286.9,651.3 286.3,649.8 285.6,648.5 284.7,647.3 283.7,646.1 282.7,645.2 281.4,644.1 280.3,643.3 279.0,642.5 277.7,641.9 276.3,641.3 274.9,640.8 273.4,640.4 271.9,639.9 270.4,639.5 269.1,638.8 268.3,637.5 268.2,636.0 268.2,634.5 268.2,633.0 268.0,631.5 267.7,630.1 267.2,628.6 266.6,627.3 265.9,626.0 265.0,624.8 263.9,623.7 262.7,622.5 261.4,621.6 260.3,620.8 258.9,620.1 257.4,619.4 255.9,618.9 254.4,618.4 252.9,618.1 251.4,617.9 249.9,617.7 248.4,617.7 246.9,617.8 245.4,617.9 243.9,618.2 242.4,618.5 240.9,619.0 239.4,619.5 237.9,620.2 236.7,620.9 235.4,621.8 234.2,622.8 233.1,623.8 232.2,624.9 231.3,626.0 230.6,627.3 229.9,628.7 229.5,630.3 229.2,631.7 229.1,633.3 229.2,634.8 229.4,636.2 229.9,637.8 230.6,639.3 231.3,640.5 232.2,641.7 233.1,642.8 234.2,643.8 235.4,644.8 236.7,645.7 237.9,646.4 239.3,647.0 240.7,647.6 242.2,648.1 243.6,648.5 245.2,649.0 246.7,649.5 247.9,650.3 248.4,651.6 248.5,653.0 248.5,654.5 248.5,656.0 248.7,657.5 249.1,659.0 249.6,660.5 250.4,662.0 251.2,663.3 252.2,664.5 253.2,665.5 254.3,666.5 255.7,667.5 256.9,668.3 258.2,668.9 259.6,669.5 260.9,670.0 262.4,670.4 263.9,670.7 265.4,671.0 266.9,671.1 268.4,671.1" fill="#b033f0"/><polygon points="271.2,670.3 272.7,670.0 274.2,669.7 275.7,669.2 277.2,668.6 278.7,667.9 279.9,667.1 281.1,666.3 282.2,665.4 283.2,664.4 284.1,663.3 284.9,662.1 285.6,660.8 286.2,659.4 286.6,658.0 286.8,656.5 286.8,655.0 286.7,653.6 286.3,652.0 285.8,650.5 285.0,649.0 284.2,647.8 283.2,646.6 282.2,645.6 280.9,644.6 279.7,643.7 278.4,643.0 277.1,642.3 275.7,641.8 274.4,641.3 272.9,640.9 271.5,640.5 269.9,640.2 268.4,639.6 267.4,638.6 267.3,637.0 267.4,635.5 267.4,634.0 267.4,632.5 267.2,631.0 266.8,629.5 266.2,628.1 265.5,626.8 264.7,625.6 263.7,624.4 262.7,623.4 261.4,622.4 260.3,621.5 259.0,620.8 257.7,620.2 256.2,619.6 254.7,619.1 253.2,618.8 251.7,618.5 250.2,618.4 248.7,618.3 247.2,618.3 245.7,618.5 244.2,618.7 242.7,619.0 241.2,619.5 239.8,620.0 238.4,620.7 237.2,621.4 235.9,622.2 234.7,623.2 233.6,624.3 232.5,625.5 231.7,626.8 231.0,628.0 230.4,629.5 230.1,631.0 229.9,632.5 229.9,634.0 230.1,635.5 230.4,637.0 230.9,638.4 231.7,639.8 232.5,641.0 233.4,642.1 234.4,643.1 235.5,644.0 236.7,644.9 237.9,645.7 239.2,646.3 240.7,646.9 242.2,647.5 243.7,647.9 245.2,648.3 246.7,648.6 248.2,649.1 249.3,650.3 249.4,651.8 249.3,653.3 249.3,654.8 249.3,656.3 249.5,657.8 249.9,659.3 250.6,660.8 251.2,662.0 252.1,663.3 253.1,664.5 254.2,665.5 255.4,666.5 256.7,667.4 257.9,668.1 259.4,668.8 260.8,669.3 262.2,669.7 263.7,670.1 265.2,670.3 266.7,670.5 268.2,670.5 269.7,670.4 271.2,670.3" fill="#ffaca7"/><polygon points="270.2,669.8 271.7,669.6 273.2,669.3 274.7,668.9 276.2,668.4 277.7,667.7 278.9,667.0 280.2,666.2 281.4,665.2 282.6,664.0 283.6,662.8 284.4,661.5 285.1,660.3 285.6,658.8 285.9,657.4 286.1,655.8 286.0,654.3 285.8,652.8 285.3,651.3 284.7,649.9 283.9,648.7 283.1,647.5 281.9,646.3 280.8,645.3 279.4,644.3 278.2,643.6 276.7,642.8 275.4,642.3 273.9,641.8 272.4,641.4 270.9,641.1 269.4,640.8 267.9,640.5 266.7,639.9 266.2,638.5 266.3,637.0 266.5,635.5 266.6,634.0 266.6,632.5 266.4,631.0 266.0,629.5 265.4,628.2 264.7,626.9 263.8,625.5 262.7,624.3 261.6,623.3 260.2,622.3 259.0,621.5 257.7,620.9 256.3,620.3 254.9,619.8 253.4,619.4 251.9,619.2 250.4,619.0 248.9,618.9 247.4,618.9 246.0,619.0 244.4,619.3 242.9,619.6 241.6,620.0 240.2,620.5 238.9,621.1 237.7,621.8 236.4,622.7 235.4,623.5 234.3,624.5 233.2,625.8 232.4,627.0 231.7,628.3 231.2,629.6 230.8,631.0 230.6,632.5 230.6,634.0 230.8,635.5 231.2,637.0 231.7,638.3 232.4,639.5 233.2,640.8 234.2,641.9 235.4,643.0 236.4,643.9 237.7,644.8 238.9,645.5 240.4,646.2 241.9,646.7 243.4,647.2 244.9,647.5 246.4,647.8 247.9,648.1 249.4,648.5 250.4,649.5 250.5,651.0 250.3,652.5 250.1,654.0 250.1,655.5 250.2,657.0 250.5,658.5 250.9,659.9 251.6,661.3 252.4,662.5 253.4,663.8 254.4,664.9 255.5,665.8 256.7,666.6 257.9,667.4 259.3,668.0 260.7,668.6 262.2,669.1 263.7,669.5 265.2,669.7 266.7,669.9 268.2,669.9 269.7,669.8" fill="#cbe219"/><polygon points="271.4,669.0 272.9,668.7 274.4,668.3 275.9,667.8 277.2,667.2 278.4,666.5 279.7,665.7 280.8,664.8 281.9,663.8 282.9,662.5 283.8,661.3 284.4,660.0 284.9,658.5 285.2,657.0 285.3,655.5 285.3,654.0 285.0,652.5 284.4,651.1 283.8,649.8 283.0,648.5 282.0,647.3 281.0,646.3 279.7,645.3 278.4,644.5 277.2,643.8 275.7,643.1 274.2,642.6 272.7,642.1 271.2,641.8 269.7,641.6 268.2,641.4 266.7,641.1 265.4,640.5 265.0,639.0 265.3,637.5 265.7,636.0 265.8,634.5 265.9,633.0 265.7,631.5 265.4,630.0 264.8,628.5 264.1,627.3 263.3,626.0 262.2,624.8 261.1,623.8 259.9,622.9 258.7,622.1 257.4,621.5 255.9,620.8 254.4,620.3 252.9,619.9 251.4,619.7 249.9,619.5 248.4,619.5 246.9,619.6 245.4,619.7 243.9,620.0 242.4,620.4 240.9,620.9 239.6,621.5 238.2,622.3 236.9,623.1 235.8,624.0 234.8,625.0 233.7,626.3 232.9,627.5 232.3,628.8 231.8,630.3 231.5,631.8 231.3,633.3 231.4,634.8 231.8,636.3 232.3,637.8 232.9,639.1 233.7,640.3 234.7,641.5 235.7,642.5 236.9,643.5 238.2,644.3 239.4,645.0 240.9,645.7 242.4,646.2 243.9,646.6 245.4,647.0 246.9,647.2 248.4,647.4 249.9,647.7 251.3,648.3 251.7,649.8 251.3,651.3 251.0,652.8 250.8,654.3 250.8,655.8 251.0,657.3 251.3,658.8 251.9,660.3 252.6,661.5 253.4,662.8 254.4,663.9 255.6,665.0 256.9,666.0 258.2,666.8 259.4,667.4 260.9,668.0 262.4,668.5 263.9,668.9 265.4,669.1 266.9,669.3 268.4,669.3 269.9,669.2 271.4,669.0" fill="#2e962a"/><polygon points="270.6,668.5 272.1,668.3 273.7,667.9 275.2,667.4 276.6,666.8 277.9,666.1 279.2,665.3 280.4,664.3 281.4,663.3 282.4,662.0 283.2,660.8 283.8,659.5 284.3,658.0 284.5,656.5 284.6,655.0 284.4,653.5 284.0,652.0 283.4,650.7 282.7,649.4 281.7,648.0 280.7,647.0 279.6,646.0 278.4,645.2 277.2,644.5 275.8,643.8 274.4,643.3 272.9,642.9 271.4,642.5 270.1,642.3 268.4,642.1 266.9,642.0 265.4,641.9 263.9,641.4 263.7,640.0 264.1,638.5 264.6,637.0 264.9,635.5 265.1,634.0 265.1,632.5 264.9,631.0 264.4,629.6 263.9,628.3 263.1,627.0 262.2,625.8 261.2,624.8 260.1,623.8 258.7,622.9 257.4,622.2 256.1,621.5 254.7,621.0 253.2,620.6 251.7,620.3 250.2,620.2 248.7,620.1 247.2,620.1 245.7,620.3 244.3,620.5 242.9,620.9 241.4,621.4 240.0,622.0 238.7,622.7 237.5,623.5 236.2,624.5 235.2,625.5 234.2,626.8 233.5,628.0 232.8,629.5 232.3,631.0 232.1,632.5 232.1,634.0 232.3,635.5 232.8,637.0 233.4,638.5 234.2,639.7 235.2,641.0 236.2,642.0 237.4,643.0 238.7,643.9 239.9,644.5 241.4,645.2 242.9,645.7 244.4,646.1 245.9,646.4 247.4,646.6 248.9,646.7 250.4,646.8 251.9,647.0 253.0,647.8 252.9,649.3 252.4,650.8 252.0,652.3 251.7,653.8 251.6,655.3 251.7,656.8 251.9,658.2 252.4,659.7 253.1,661.0 253.9,662.3 254.9,663.5 256.1,664.5 257.2,665.4 258.4,666.2 259.7,666.9 261.2,667.5 262.7,668.0 264.1,668.3 265.6,668.5 267.2,668.7 268.7,668.7 270.2,668.6" fill="#3045de"/><polygon points="269.5,668.0 270.9,667.9 272.4,667.6 273.9,667.2 275.4,666.6 276.9,665.9 278.2,665.2 279.4,664.3 280.4,663.3 281.4,662.2 282.4,660.8 283.1,659.3 283.6,657.8 283.8,656.3 283.8,654.8 283.6,653.3 283.2,651.9 282.6,650.5 281.8,649.3 280.8,648.0 279.8,647.0 278.5,646.0 277.2,645.2 275.9,644.6 274.4,644.0 272.9,643.5 271.4,643.2 269.9,642.9 268.5,642.8 266.9,642.7 265.4,642.8 263.9,642.8 262.4,642.7 261.8,641.5 262.4,640.1 263.1,638.8 263.7,637.3 264.1,635.8 264.3,634.3 264.4,632.8 264.2,631.3 263.7,629.8 263.1,628.3 262.3,627.0 261.3,625.8 260.2,624.8 258.9,623.8 257.8,623.0 256.4,622.4 255.0,621.8 253.7,621.4 252.3,621.0 250.7,620.8 249.2,620.7 247.7,620.7 246.2,620.8 244.7,621.1 243.2,621.5 241.7,622.0 240.4,622.5 239.0,623.3 237.7,624.2 236.4,625.3 235.4,626.4 234.6,627.5 233.9,628.8 233.3,630.3 233.0,631.8 232.8,633.3 232.9,634.7 233.3,636.3 233.9,637.8 234.6,639.0 235.4,640.2 236.4,641.3 237.6,642.3 238.9,643.3 240.2,644.0 241.5,644.5 242.9,645.0 244.4,645.5 245.9,645.8 247.4,645.9 248.9,646.0 250.4,646.1 251.9,646.0 253.4,646.0 254.8,646.3 254.7,647.8 254.0,649.3 253.3,650.8 252.8,652.3 252.5,653.8 252.3,655.3 252.4,656.8 252.7,658.3 253.3,659.8 254.0,661.0 254.8,662.3 255.9,663.5 257.1,664.5 258.4,665.5 259.7,666.2 261.1,666.8 262.6,667.3 263.9,667.7 265.4,667.9 266.9,668.1 268.4,668.1" fill="#b033f0"/><polygon points="251.2,645.3 252.7,645.1 254.2,644.9 255.7,644.5 257.2,644.0 258.4,643.2 259.5,642.3 260.6,641.0 261.5,639.8 262.3,638.5 262.9,637.0 263.4,635.5 263.6,634.0 263.6,632.5 263.3,631.0 262.9,629.5 262.2,628.2 261.4,627.0 260.4,625.9 259.2,624.8 257.9,623.9 256.7,623.2 255.3,622.5 253.8,622.0 252.4,621.7 250.9,621.4 249.4,621.3 247.9,621.3 246.4,621.4 244.9,621.7 243.4,622.0 241.9,622.5 240.4,623.2 239.2,623.9 238.0,624.8 236.9,625.7 236.0,626.8 235.1,628.0 234.5,629.3 233.9,630.7 233.7,632.3 233.6,633.8 233.8,635.3 234.2,636.7 234.8,638.0 235.6,639.3 236.6,640.5 237.7,641.5 238.9,642.5 240.2,643.2 241.7,644.0 243.2,644.5 244.7,644.9 246.2,645.2 247.7,645.3 249.2,645.4 250.7,645.3" fill="#ffaca7"/><polygon points="270.8,667.3 272.4,667.0 273.9,666.5 275.4,666.0 276.8,665.3 277.9,664.6 279.2,663.6 280.2,662.6 281.2,661.3 281.9,660.1 282.5,658.8 282.9,657.3 283.1,655.8 283.0,654.3 282.7,652.8 282.2,651.4 281.5,650.0 280.5,648.8 279.4,647.7 278.2,646.6 276.9,645.8 275.7,645.2 274.3,644.5 272.7,644.1 271.2,643.7 269.7,643.5 268.2,643.4 266.7,643.4 265.2,643.5 263.7,643.7 262.2,644.0 260.7,644.4 259.2,645.0 258.0,645.8 256.9,646.8 255.9,647.9 255.1,649.0 254.4,650.3 253.7,651.8 253.3,653.3 253.1,654.8 253.1,656.3 253.4,657.8 253.9,659.3 254.6,660.8 255.4,661.9 256.4,663.0 257.6,664.0 258.9,665.0 260.2,665.7 261.6,666.3 262.9,666.8 264.4,667.1 265.9,667.4 267.4,667.5 268.9,667.5 270.4,667.4" fill="#ffaca7"/><polygon points="251.7,644.5 253.1,644.3 254.4,643.9 255.9,643.4 257.2,642.7 258.4,641.9 259.6,640.8 260.7,639.6 261.5,638.3 262.2,636.8 262.7,635.3 262.8,633.8 262.8,632.3 262.5,630.8 261.9,629.3 261.2,628.0 260.3,626.8 259.2,625.7 258.1,624.8 256.7,623.9 255.4,623.3 253.9,622.7 252.4,622.3 250.9,622.1 249.4,621.9 247.9,621.9 246.4,622.0 244.9,622.3 243.4,622.7 241.9,623.2 240.4,623.9 239.2,624.7 237.9,625.7 236.9,626.7 236.0,628.0 235.3,629.3 234.7,630.8 234.4,632.3 234.4,633.8 234.6,635.3 235.0,636.8 235.7,638.1 236.7,639.5 237.7,640.6 238.9,641.7 240.2,642.5 241.4,643.2 242.9,643.8 244.4,644.2 245.9,644.5 247.4,644.7 248.9,644.7 250.4,644.7" fill="#cbe219"/><polygon points="270.0,666.8 271.4,666.6 272.9,666.2 274.4,665.7 275.9,665.0 277.2,664.3 278.4,663.3 279.5,662.3 280.4,661.2 281.2,660.0 281.8,658.5 282.2,657.1 282.3,655.5 282.2,654.0 281.9,652.5 281.2,651.0 280.4,649.8 279.4,648.6 278.3,647.5 276.9,646.6 275.7,645.9 274.2,645.2 272.7,644.7 271.2,644.4 269.7,644.1 268.2,644.1 266.7,644.1 265.2,644.2 263.7,644.5 262.2,644.9 260.7,645.4 259.4,646.1 258.2,647.0 257.0,648.0 256.0,649.3 255.2,650.5 254.6,651.8 254.1,653.3 253.9,654.8 253.9,656.3 254.1,657.8 254.7,659.3 255.3,660.5 256.2,661.8 257.2,662.8 258.3,663.8 259.7,664.7 260.9,665.4 262.4,666.0 263.9,666.4 265.4,666.7 266.9,666.9 268.4,666.9 269.9,666.8" fill="#cbe219"/><polygon points="250.4,644.0 251.9,643.8 253.4,643.5 254.9,643.0 256.4,642.3 257.6,641.5 258.7,640.6 259.7,639.6 260.6,638.3 261.3,637.0 261.8,635.5 262.1,634.0 262.1,632.5 261.8,631.0 261.3,629.5 260.6,628.3 259.7,627.2 258.7,626.1 257.4,625.1 256.2,624.4 254.7,623.7 253.2,623.1 251.8,622.8 250.2,622.6 248.7,622.5 247.2,622.6 245.7,622.8 244.2,623.1 242.8,623.5 241.4,624.1 240.2,624.8 238.9,625.7 237.8,626.8 236.8,628.0 236.1,629.3 235.5,630.8 235.2,632.3 235.1,633.8 235.3,635.3 235.8,636.8 236.5,638.0 237.4,639.3 238.4,640.4 239.7,641.4 240.9,642.2 242.4,642.9 243.9,643.4 245.4,643.8 246.9,644.0 248.4,644.1 249.9,644.1" fill="#2e962a"/><polygon points="271.0,666.0 272.4,665.7 273.9,665.2 275.4,664.6 276.7,663.8 277.9,662.9 279.1,661.8 279.9,660.7 280.7,659.4 281.2,658.0 281.5,656.5 281.6,655.0 281.4,653.5 280.9,652.2 280.3,650.8 279.4,649.7 278.4,648.6 277.2,647.5 275.9,646.7 274.7,646.1 273.4,645.5 271.9,645.1 270.4,644.9 268.9,644.7 267.4,644.7 265.9,644.8 264.4,645.0 262.9,645.4 261.4,645.9 259.9,646.7 258.7,647.5 257.6,648.5 256.5,649.8 255.7,651.0 255.1,652.5 254.7,654.0 254.6,655.5 254.7,657.0 255.1,658.5 255.9,660.0 256.7,661.3 257.7,662.4 258.8,663.3 259.9,664.1 261.2,664.8 262.7,665.4 264.0,665.8 265.4,666.1 266.9,666.3 268.4,666.3 269.9,666.2" fill="#2e962a"/><polygon points="251.3,643.3 252.9,642.9 254.4,642.4 255.8,641.8 257.0,641.0 258.2,640.1 259.2,639.0 260.1,637.8 260.8,636.3 261.2,634.9 261.4,633.3 261.2,631.8 260.8,630.3 260.0,628.8 259.2,627.6 258.2,626.6 256.9,625.6 255.7,624.8 254.2,624.1 252.7,623.6 251.2,623.3 249.7,623.1 248.2,623.1 246.7,623.2 245.2,623.5 243.7,623.9 242.2,624.5 240.9,625.1 239.7,626.0 238.5,627.0 237.5,628.3 236.7,629.5 236.2,630.9 235.9,632.3 235.9,633.8 236.1,635.3 236.6,636.8 237.3,638.0 238.2,639.2 239.2,640.2 240.3,641.0 241.6,641.8 242.9,642.4 244.4,642.9 245.9,643.3 247.4,643.5 248.9,643.5 250.4,643.4" fill="#3045de"/><polygon points="270.3,665.5 271.7,665.3 273.2,664.8 274.5,664.3 275.9,663.5 277.2,662.6 278.4,661.5 279.3,660.3 280.1,659.0 280.6,657.5 280.8,656.0 280.8,654.5 280.5,653.0 279.9,651.7 279.2,650.5 278.2,649.3 277.1,648.3 275.9,647.5 274.7,646.8 273.2,646.1 271.7,645.7 270.2,645.4 268.8,645.3 267.2,645.3 265.7,645.4 264.2,645.7 262.7,646.2 261.3,646.8 260.0,647.5 258.7,648.5 257.7,649.5 256.7,650.8 256.1,652.0 255.6,653.5 255.4,655.0 255.4,656.5 255.8,658.0 256.4,659.5 257.2,660.8 258.2,661.9 259.4,663.0 260.7,663.8 261.9,664.4 263.4,665.0 264.9,665.4 266.4,665.6 267.9,665.7 269.4,665.6" fill="#3045de"/><polygon points="250.5,642.8 251.9,642.5 253.4,642.1 254.8,641.5 256.2,640.8 257.4,639.8 258.4,638.8 259.4,637.5 260.0,636.3 260.4,634.8 260.6,633.3 260.5,631.8 260.0,630.3 259.4,629.0 258.4,627.8 257.4,626.8 256.2,625.9 254.9,625.2 253.5,624.5 251.9,624.1 250.4,623.8 248.9,623.7 247.4,623.7 245.9,623.9 244.4,624.3 243.0,624.8 241.7,625.4 240.4,626.3 239.2,627.3 238.2,628.5 237.4,629.8 236.9,631.3 236.6,632.8 236.7,634.3 237.0,635.8 237.7,637.3 238.6,638.5 239.7,639.7 240.9,640.7 242.2,641.4 243.7,642.0 245.2,642.5 246.7,642.8 248.2,642.9 249.7,642.9" fill="#b033f0"/><polygon points="269.3,665.0 270.9,664.8 272.4,664.4 273.9,663.9 275.2,663.2 276.4,662.4 277.7,661.3 278.7,660.0 279.4,658.8 279.9,657.3 280.1,655.8 280.0,654.3 279.6,652.8 278.9,651.4 278.0,650.0 277.0,649.0 275.7,648.1 274.4,647.4 272.9,646.7 271.5,646.3 269.9,646.0 268.4,645.9 266.9,645.9 265.4,646.1 263.9,646.5 262.4,647.0 260.9,647.7 259.8,648.5 258.7,649.5 257.8,650.5 257.0,651.8 256.4,653.2 256.2,654.5 256.1,656.0 256.4,657.5 256.9,659.0 257.7,660.3 258.7,661.5 259.9,662.5 261.2,663.4 262.6,664.0 264.1,664.5 265.7,664.9 267.2,665.1 268.7,665.1" fill="#b033f0"/><polygon points="249.0,642.3 250.4,642.2 251.9,641.9 253.4,641.4 254.9,640.8 256.1,640.0 257.2,639.1 258.2,638.0 258.9,636.8 259.5,635.5 259.8,634.0 259.8,632.5 259.5,631.0 258.8,629.5 258.0,628.3 256.9,627.3 255.7,626.3 254.4,625.6 253.1,625.0 251.7,624.6 250.2,624.4 248.7,624.3 247.2,624.4 245.7,624.6 244.2,625.0 242.9,625.5 241.5,626.3 240.2,627.3 239.2,628.4 238.4,629.5 237.7,631.0 237.4,632.5 237.4,634.0 237.7,635.5 238.4,637.0 239.2,638.2 240.2,639.3 241.4,640.2 242.7,641.0 244.1,641.5 245.4,641.9 246.9,642.2 248.4,642.3" fill="#ffaca7"/><polygon points="270.5,664.3 271.9,664.0 273.4,663.4 274.9,662.6 276.1,661.8 277.2,660.8 278.1,659.5 278.8,658.3 279.2,657.0 279.3,655.5 279.2,654.0 278.7,652.5 278.0,651.3 277.1,650.0 275.9,649.1 274.7,648.2 273.4,647.6 272.0,647.0 270.4,646.7 268.9,646.5 267.4,646.5 265.9,646.7 264.4,647.0 262.9,647.5 261.4,648.2 260.2,649.0 259.1,650.0 258.2,651.2 257.5,652.5 257.0,654.0 256.8,655.5 257.0,657.0 257.4,658.4 258.2,659.8 259.2,661.0 260.4,662.0 261.7,662.9 263.1,663.5 264.4,664.0 265.9,664.3 267.4,664.5 268.9,664.5 270.4,664.3" fill="#ffaca7"/><polygon points="250.6,641.5 252.2,641.2 253.7,640.7 254.9,640.0 256.2,639.1 257.2,638.1 258.2,636.8 258.8,635.3 259.1,633.8 259.0,632.3 258.6,630.8 258.0,629.5 257.0,628.3 255.9,627.3 254.7,626.5 253.3,625.8 251.9,625.3 250.6,625.0 248.9,624.9 247.4,625.0 245.9,625.2 244.6,625.5 243.2,626.1 241.9,626.8 240.7,627.8 239.7,628.8 238.9,630.0 238.4,631.3 238.1,632.8 238.2,634.3 238.6,635.8 239.2,637.0 240.2,638.3 241.2,639.3 242.4,640.1 243.9,640.8 245.2,641.2 246.6,641.5 248.2,641.7 249.7,641.7" fill="#cbe219"/><polygon points="269.7,663.8 271.1,663.5 272.4,663.1 273.8,662.5 275.0,661.8 276.2,660.8 277.2,659.7 277.9,658.4 278.4,657.0 278.6,655.5 278.4,654.1 277.9,652.6 277.2,651.3 276.2,650.2 274.9,649.1 273.7,648.4 272.3,647.8 270.9,647.4 269.4,647.2 267.9,647.1 266.4,647.2 264.9,647.5 263.4,648.0 262.2,648.5 261.0,649.3 259.8,650.3 258.8,651.5 258.2,652.8 257.7,654.3 257.6,655.8 257.8,657.3 258.4,658.8 259.3,660.0 260.4,661.3 261.7,662.2 262.9,662.8 264.4,663.4 265.9,663.7 267.4,663.9 268.9,663.9" fill="#cbe219"/><polygon points="249.7,641.0 251.2,640.8 252.7,640.4 254.0,639.8 255.2,639.0 256.3,638.0 257.3,636.8 257.9,635.5 258.3,634.0 258.3,632.5 257.9,631.1 257.3,629.8 256.4,628.7 255.2,627.6 254.0,626.8 252.7,626.2 251.3,625.8 249.7,625.5 248.2,625.5 246.7,625.6 245.2,626.0 243.7,626.5 242.4,627.2 241.2,628.2 240.2,629.3 239.5,630.5 239.0,632.0 238.9,633.5 239.1,635.0 239.7,636.5 240.6,637.8 241.7,638.8 242.9,639.7 244.3,640.3 245.7,640.7 247.2,641.0 248.7,641.1" fill="#2e962a"/><polygon points="270.5,663.0 271.9,662.7 273.4,662.0 274.6,661.3 275.7,660.4 276.6,659.3 277.3,658.0 277.8,656.5 277.8,655.0 277.5,653.5 276.9,652.2 276.1,651.0 275.1,650.0 273.7,649.1 272.2,648.4 270.7,648.0 269.2,647.7 267.7,647.7 266.2,647.8 264.7,648.2 263.2,648.7 261.9,649.4 260.8,650.3 259.7,651.5 258.9,652.8 258.5,654.3 258.4,655.8 258.6,657.3 259.2,658.7 260.2,660.0 261.2,661.0 262.4,661.9 263.9,662.5 265.4,663.0 266.9,663.2 268.4,663.3 269.9,663.2" fill="#2e962a"/><polygon points="250.7,640.3 252.2,639.9 253.6,639.3 254.8,638.5 255.9,637.5 256.8,636.3 257.4,634.8 257.6,633.3 257.4,631.8 256.8,630.3 255.9,629.1 254.8,628.0 253.6,627.3 252.2,626.7 250.7,626.3 249.2,626.1 247.7,626.1 246.2,626.4 244.7,626.8 243.4,627.4 242.2,628.2 241.1,629.3 240.3,630.5 239.7,632.0 239.6,633.5 239.9,635.0 240.4,636.4 241.3,637.5 242.4,638.5 243.6,639.3 244.9,639.9 246.4,640.3 247.9,640.5 249.4,640.5" fill="#3045de"/><polygon points="269.9,662.5 271.4,662.2 272.9,661.6 274.2,660.8 275.3,659.8 276.2,658.6 276.8,657.3 277.1,655.8 277.0,654.3 276.4,652.8 275.6,651.5 274.6,650.5 273.4,649.7 272.1,649.0 270.7,648.6 269.2,648.4 267.7,648.3 266.2,648.5 264.8,648.8 263.4,649.3 262.2,650.0 261.0,651.0 260.0,652.3 259.4,653.8 259.1,655.3 259.2,656.8 259.8,658.3 260.7,659.5 261.7,660.5 262.9,661.4 264.4,662.0 265.9,662.5 267.4,662.7 268.9,662.7" fill="#3045de"/><polygon points="250.0,639.8 251.4,639.5 252.9,638.9 254.2,638.1 255.4,637.0 256.2,635.9 256.7,634.6 256.8,633.0 256.6,631.5 255.8,630.0 254.7,628.9 253.4,628.0 252.0,627.3 250.4,626.9 248.9,626.7 247.4,626.8 245.9,627.0 244.6,627.5 243.2,628.3 242.0,629.3 241.1,630.5 240.5,632.0 240.4,633.5 240.6,635.0 241.4,636.5 242.4,637.7 243.6,638.5 244.9,639.2 246.4,639.7 247.9,639.9 249.4,639.9" fill="#b033f0"/><polygon points="269.1,662.0 270.6,661.8 271.9,661.3 273.2,660.7 274.4,659.8 275.4,658.5 276.1,657.0 276.3,655.5 276.1,654.0 275.5,652.5 274.5,651.3 273.2,650.3 271.9,649.7 270.4,649.2 268.9,648.9 267.4,648.9 265.9,649.1 264.5,649.5 263.2,650.2 262.0,651.0 260.9,652.2 260.2,653.5 259.9,655.0 259.9,656.5 260.4,658.0 261.4,659.3 262.4,660.3 263.6,661.0 264.9,661.6 266.4,662.0 267.9,662.1" fill="#b033f0"/><polygon points="248.7,639.3 250.2,639.2 251.6,638.8 252.9,638.2 254.2,637.3 255.2,636.1 255.9,634.8 256.1,633.3 255.9,631.8 255.2,630.5 254.2,629.3 252.9,628.4 251.6,627.8 250.2,627.4 248.7,627.3 247.2,627.4 245.7,627.8 244.2,628.4 243.0,629.3 241.9,630.5 241.3,631.8 241.1,633.3 241.3,634.8 241.9,636.1 242.9,637.2 244.2,638.2 245.6,638.8 247.2,639.2 248.7,639.3" fill="#ffaca8"/><polygon points="270.0,661.3 271.4,660.9 272.7,660.2 273.9,659.3 274.9,658.0 275.4,656.7 275.6,655.3 275.3,653.8 274.6,652.5 273.5,651.3 272.2,650.5 270.7,649.9 269.2,649.6 267.7,649.5 266.2,649.7 264.7,650.2 263.4,650.8 262.2,651.8 261.3,653.0 260.7,654.5 260.6,656.0 261.1,657.5 261.8,658.8 262.9,659.8 264.1,660.5 265.4,661.1 266.9,661.4 268.4,661.5 269.9,661.3" fill="#ffaca8"/><polygon points="250.2,638.5 251.7,638.1 252.9,637.4 254.2,636.3 254.9,635.1 255.3,633.5 255.2,632.0 254.4,630.6 253.5,629.5 252.2,628.7 250.7,628.2 249.2,627.9 247.7,627.9 246.2,628.3 244.9,628.8 243.7,629.6 242.7,630.7 242.0,632.0 241.9,633.5 242.2,635.0 242.9,636.3 244.1,637.3 245.4,638.0 246.9,638.5 248.4,638.7 249.9,638.6" fill="#cbe219"/><polygon points="269.4,660.8 270.9,660.4 272.4,659.6 273.7,658.5 274.4,657.3 274.8,655.8 274.7,654.4 274.1,653.0 273.2,652.0 271.9,651.1 270.4,650.4 268.9,650.1 267.4,650.1 265.9,650.4 264.4,651.0 263.2,651.8 262.2,652.9 261.5,654.3 261.4,655.8 261.7,657.2 262.4,658.5 263.6,659.5 264.9,660.3 266.4,660.7 267.9,660.9 269.4,660.8" fill="#cbe219"/><polygon points="249.5,638.0 250.9,637.7 252.3,637.0 253.4,636.1 254.3,634.8 254.6,633.3 254.3,631.8 253.5,630.5 252.4,629.6 251.2,629.0 249.7,628.6 248.2,628.5 246.7,628.7 245.3,629.3 243.9,630.3 243.0,631.5 242.6,633.0 242.8,634.5 243.5,635.8 244.5,636.8 245.8,637.5 247.2,638.0 248.7,638.1" fill="#2e962a"/><polygon points="270.0,660.0 271.3,659.5 272.7,658.6 273.7,657.3 274.1,655.8 273.9,654.3 273.3,653.0 272.3,652.0 271.0,651.3 269.4,650.8 267.9,650.7 266.4,650.9 264.9,651.4 263.7,652.2 262.8,653.3 262.2,654.6 262.1,656.0 262.7,657.5 263.7,658.8 264.9,659.5 266.2,660.0 267.7,660.3 269.2,660.2" fill="#2e962a"/><polygon points="250.2,637.3 251.7,636.7 252.8,635.8 253.6,634.5 253.8,633.0 253.4,631.7 252.6,630.5 251.2,629.7 249.7,629.2 248.2,629.1 246.7,629.4 245.3,630.0 244.2,631.0 243.5,632.3 243.4,633.8 243.9,635.2 244.9,636.3 246.2,637.0 247.7,637.4 249.2,637.5" fill="#3045de"/><polygon points="269.5,659.5 270.9,659.0 272.2,658.1 273.1,656.8 273.3,655.3 272.9,653.9 271.9,652.6 270.7,651.9 269.2,651.4 267.7,651.3 266.3,651.5 264.9,652.1 263.8,653.0 263.1,654.3 262.9,655.8 263.4,657.3 264.4,658.5 265.7,659.2 267.2,659.6 268.7,659.7" fill="#3045de"/><polygon points="249.6,636.8 251.1,636.3 252.2,635.5 252.9,634.2 253.1,632.8 252.4,631.4 251.2,630.4 249.7,629.8 248.2,629.7 246.7,630.0 245.4,630.7 244.5,631.8 244.1,633.3 244.4,634.7 245.4,635.8 246.7,636.5 248.2,636.9 249.6,636.8" fill="#b033f0"/><polygon points="268.8,659.0 270.2,658.7 271.4,657.9 272.4,656.5 272.6,655.0 271.9,653.6 270.7,652.6 269.4,652.0 267.9,651.9 266.4,652.2 265.1,652.8 264.1,653.8 263.6,655.3 263.9,656.8 264.9,658.0 266.2,658.8 267.7,659.1" fill="#b033f0"/><polygon points="250.1,636.0 251.4,635.3 252.2,634.1 252.2,632.5 251.4,631.4 250.2,630.6 248.7,630.3 247.2,630.5 245.9,631.2 245.1,632.3 244.9,633.8 245.6,635.0 246.7,635.9 248.2,636.3 249.7,636.2" fill="#ffaca7"/><polygon points="269.4,658.3 270.7,657.7 271.6,656.5 271.8,655.0 271.2,653.8 269.9,652.9 268.4,652.5 266.9,652.6 265.6,653.3 264.5,654.5 264.4,656.0 265.1,657.3 266.4,658.2 267.9,658.5 269.4,658.3" fill="#ffaca7"/><polygon points="249.6,635.5 250.9,634.8 251.6,633.5 251.2,632.1 249.9,631.2 248.4,630.9 246.9,631.3 245.9,632.3 245.7,633.8 246.4,635.0 247.7,635.6 249.2,635.7" fill="#cbe219"/><polygon points="269.0,657.8 270.4,657.0 271.1,655.8 270.7,654.3 269.4,653.4 267.9,653.1 266.4,653.5 265.3,654.5 265.2,656.0 266.1,657.3 267.4,657.8 268.9,657.8" fill="#cbe219"/><polygon points="249.1,635.0 250.4,634.3 250.8,632.8 249.7,631.7 248.2,631.5 246.7,632.3 246.4,633.8 247.4,634.8 248.9,635.1" fill="#2e962a"/><polygon points="269.2,657.0 270.2,656.0 270.0,654.5 268.8,653.8 267.4,653.8 266.2,654.5 265.9,656.0 266.9,657.0 268.4,657.3" fill="#2e962a"/><polygon points="249.4,634.3 250.1,633.0 248.9,632.1 247.4,632.5 247.4,634.0 248.9,634.5" fill="#3045de"/><polygon points="268.8,656.5 269.6,655.3 268.4,654.3 266.9,654.7 266.8,656.0 268.2,656.7" fill="#3045de"/></g><rect x="217.2" y="601.3" width="84.0" height="84.10000000000002" filter="url(#nzF)" opacity="0.22"/></g></g><rect x="219.2" y="603.3" width="80.0" height="80.10000000000002" fill="none" stroke="#555" stroke-width="0.7" opacity="0.6"/>
<rect x="531.8" y="517.8" width="79.70000000000005" height="79.20000000000005" fill="#151e78"/>
<circle cx="556.8" cy="550.3" r="8.5" fill="url(#spG)"/>
<circle cx="581.3" cy="569.7" r="8.5" fill="url(#spG)"/>
<rect x="531.8" y="517.8" width="79.7" height="79.2" filter="url(#gnoise)" opacity="0.45"/>
<g clip-path="url(#pgc)"><g filter="url(#soft)"><rect x="531.7" y="602" width="79.79999999999995" height="79.5" fill="#c8a0c8"/><rect x="529.7" y="600" width="83.79999999999995" height="83.5" filter="url(#nzG)"/>
<g><g mask="url(#pgk0)"><rect x="535.6" y="612.4" width="44" height="44" fill="url(#pgr0)"/></g></g>
<g><g mask="url(#pgk1)"><rect x="559.5" y="631.8" width="44" height="44" fill="url(#pgr1)"/></g></g>
<rect x="529.7" y="600" width="83.79999999999995" height="83.5" filter="url(#nzG)" opacity="0.22"/>
</g></g>
<rect x="531.7" y="602" width="79.79999999999995" height="79.5" fill="none" stroke="#555" stroke-width="0.7" opacity="0.6"/>
</svg>
</body></html>
